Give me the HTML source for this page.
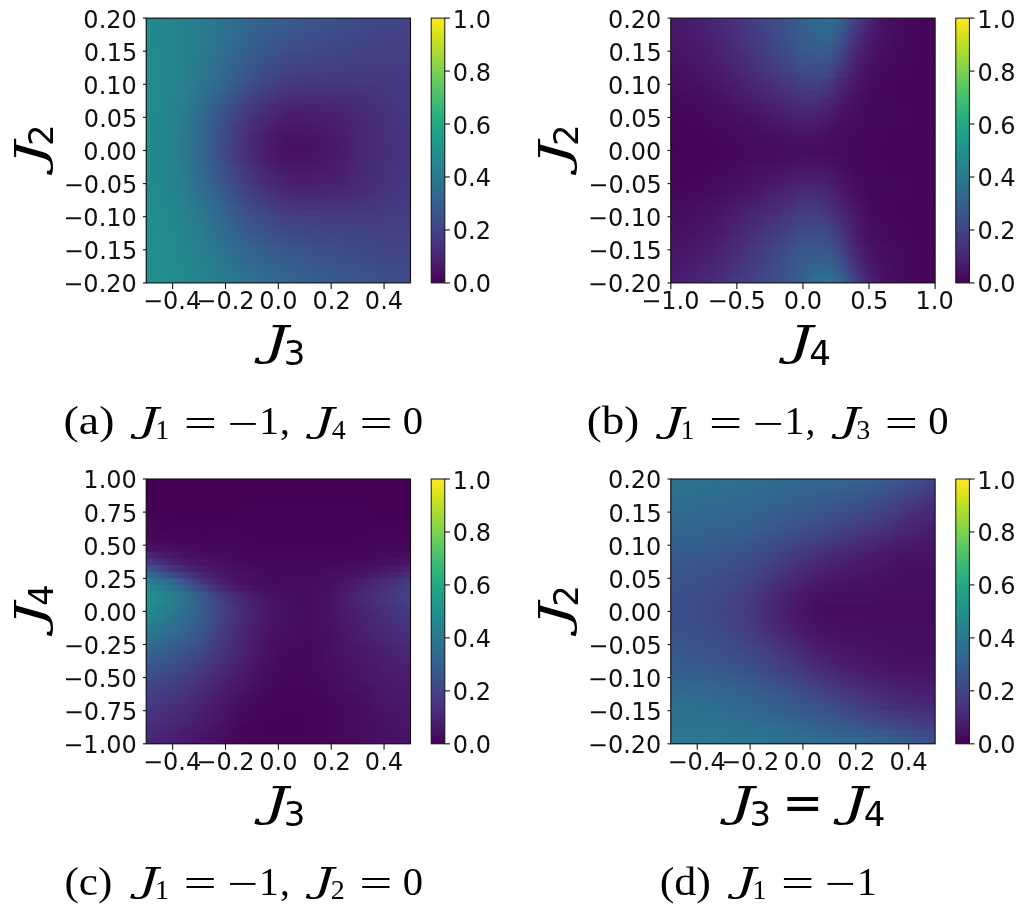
<!DOCTYPE html>
<html lang="en"><head><meta charset="utf-8"><title>Figure</title>
<style>html,body{margin:0;padding:0;background:#fff}svg{display:block}text{white-space:pre}</style>
</head><body>
<svg width="1025" height="904" viewBox="0 0 1025 904">
<rect width="1025" height="904" fill="#fff"/>
<defs>
<linearGradient id="a0"><stop offset="0" stop-color="#238a8d"/><stop offset="0.05" stop-color="#23888e"/><stop offset="0.1" stop-color="#25848e"/><stop offset="0.15" stop-color="#26818e"/><stop offset="0.2" stop-color="#287d8e"/><stop offset="0.25" stop-color="#2a778e"/><stop offset="0.3" stop-color="#2c718e"/><stop offset="0.35" stop-color="#2f6c8e"/><stop offset="0.4" stop-color="#32658e"/><stop offset="0.45" stop-color="#34608d"/><stop offset="0.5" stop-color="#365d8d"/><stop offset="0.55" stop-color="#375a8c"/><stop offset="0.6" stop-color="#39568c"/><stop offset="0.65" stop-color="#3a538b"/><stop offset="0.7" stop-color="#3c508b"/><stop offset="0.75" stop-color="#3d4e8a"/><stop offset="0.8" stop-color="#3e4a89"/><stop offset="0.85" stop-color="#3f4788"/><stop offset="0.9" stop-color="#404688"/><stop offset="0.95" stop-color="#414487"/><stop offset="1" stop-color="#414287"/></linearGradient>
<linearGradient id="a1"><stop offset="0" stop-color="#238a8d"/><stop offset="0.05" stop-color="#23888e"/><stop offset="0.1" stop-color="#25858e"/><stop offset="0.15" stop-color="#26818e"/><stop offset="0.2" stop-color="#287c8e"/><stop offset="0.25" stop-color="#2a778e"/><stop offset="0.3" stop-color="#2c718e"/><stop offset="0.35" stop-color="#2f6b8e"/><stop offset="0.4" stop-color="#32648e"/><stop offset="0.45" stop-color="#355f8d"/><stop offset="0.5" stop-color="#375b8d"/><stop offset="0.55" stop-color="#38588c"/><stop offset="0.6" stop-color="#3a548c"/><stop offset="0.65" stop-color="#3b518b"/><stop offset="0.7" stop-color="#3d4e8a"/><stop offset="0.75" stop-color="#3e4c8a"/><stop offset="0.8" stop-color="#3f4889"/><stop offset="0.85" stop-color="#404688"/><stop offset="0.9" stop-color="#414487"/><stop offset="0.95" stop-color="#414287"/><stop offset="1" stop-color="#424186"/></linearGradient>
<linearGradient id="a2"><stop offset="0" stop-color="#228b8d"/><stop offset="0.05" stop-color="#23888e"/><stop offset="0.1" stop-color="#25858e"/><stop offset="0.15" stop-color="#26818e"/><stop offset="0.2" stop-color="#287c8e"/><stop offset="0.25" stop-color="#2a768e"/><stop offset="0.3" stop-color="#2d718e"/><stop offset="0.35" stop-color="#306a8e"/><stop offset="0.4" stop-color="#33628d"/><stop offset="0.45" stop-color="#365d8d"/><stop offset="0.5" stop-color="#38588c"/><stop offset="0.55" stop-color="#3a548c"/><stop offset="0.6" stop-color="#3b518b"/><stop offset="0.65" stop-color="#3c4f8a"/><stop offset="0.7" stop-color="#3e4c8a"/><stop offset="0.75" stop-color="#3e4989"/><stop offset="0.8" stop-color="#3f4788"/><stop offset="0.85" stop-color="#404588"/><stop offset="0.9" stop-color="#414287"/><stop offset="0.95" stop-color="#424186"/><stop offset="1" stop-color="#424086"/></linearGradient>
<linearGradient id="a3"><stop offset="0" stop-color="#228b8d"/><stop offset="0.05" stop-color="#23888e"/><stop offset="0.1" stop-color="#25858e"/><stop offset="0.15" stop-color="#26818e"/><stop offset="0.2" stop-color="#287c8e"/><stop offset="0.25" stop-color="#2b758e"/><stop offset="0.3" stop-color="#2d708e"/><stop offset="0.35" stop-color="#31688e"/><stop offset="0.4" stop-color="#34608d"/><stop offset="0.45" stop-color="#375a8c"/><stop offset="0.5" stop-color="#39558c"/><stop offset="0.55" stop-color="#3b518b"/><stop offset="0.6" stop-color="#3c4f8a"/><stop offset="0.65" stop-color="#3e4c8a"/><stop offset="0.7" stop-color="#3e4989"/><stop offset="0.75" stop-color="#3f4788"/><stop offset="0.8" stop-color="#404588"/><stop offset="0.85" stop-color="#414287"/><stop offset="0.9" stop-color="#424186"/><stop offset="0.95" stop-color="#424086"/><stop offset="1" stop-color="#424086"/></linearGradient>
<linearGradient id="a4"><stop offset="0" stop-color="#228b8d"/><stop offset="0.05" stop-color="#23898e"/><stop offset="0.1" stop-color="#25858e"/><stop offset="0.15" stop-color="#26818e"/><stop offset="0.2" stop-color="#297b8e"/><stop offset="0.25" stop-color="#2b748e"/><stop offset="0.3" stop-color="#2e6e8e"/><stop offset="0.35" stop-color="#31668e"/><stop offset="0.4" stop-color="#355e8d"/><stop offset="0.45" stop-color="#38588c"/><stop offset="0.5" stop-color="#3b528b"/><stop offset="0.55" stop-color="#3d4e8a"/><stop offset="0.6" stop-color="#3e4c8a"/><stop offset="0.65" stop-color="#3e4989"/><stop offset="0.7" stop-color="#3f4788"/><stop offset="0.75" stop-color="#404588"/><stop offset="0.8" stop-color="#414287"/><stop offset="0.85" stop-color="#424186"/><stop offset="0.9" stop-color="#424086"/><stop offset="0.95" stop-color="#423f85"/><stop offset="1" stop-color="#423f85"/></linearGradient>
<linearGradient id="a5"><stop offset="0" stop-color="#228b8d"/><stop offset="0.05" stop-color="#23898e"/><stop offset="0.1" stop-color="#25858e"/><stop offset="0.15" stop-color="#26818e"/><stop offset="0.2" stop-color="#297a8e"/><stop offset="0.25" stop-color="#2c738e"/><stop offset="0.3" stop-color="#2f6c8e"/><stop offset="0.35" stop-color="#32648e"/><stop offset="0.4" stop-color="#375b8d"/><stop offset="0.45" stop-color="#3a548c"/><stop offset="0.5" stop-color="#3c4f8a"/><stop offset="0.55" stop-color="#3e4a89"/><stop offset="0.6" stop-color="#3f4889"/><stop offset="0.65" stop-color="#404688"/><stop offset="0.7" stop-color="#414487"/><stop offset="0.75" stop-color="#414287"/><stop offset="0.8" stop-color="#424086"/><stop offset="0.85" stop-color="#423f85"/><stop offset="0.9" stop-color="#433e85"/><stop offset="0.95" stop-color="#433e85"/><stop offset="1" stop-color="#433e85"/></linearGradient>
<linearGradient id="a6"><stop offset="0" stop-color="#228b8d"/><stop offset="0.05" stop-color="#23898e"/><stop offset="0.1" stop-color="#25858e"/><stop offset="0.15" stop-color="#27808e"/><stop offset="0.2" stop-color="#297a8e"/><stop offset="0.25" stop-color="#2c728e"/><stop offset="0.3" stop-color="#306a8e"/><stop offset="0.35" stop-color="#34618d"/><stop offset="0.4" stop-color="#38598c"/><stop offset="0.45" stop-color="#3b518b"/><stop offset="0.5" stop-color="#3e4c8a"/><stop offset="0.55" stop-color="#3f4788"/><stop offset="0.6" stop-color="#404588"/><stop offset="0.65" stop-color="#414287"/><stop offset="0.7" stop-color="#424086"/><stop offset="0.75" stop-color="#423f85"/><stop offset="0.8" stop-color="#423f85"/><stop offset="0.85" stop-color="#433e85"/><stop offset="0.9" stop-color="#433d84"/><stop offset="0.95" stop-color="#433d84"/><stop offset="1" stop-color="#433d84"/></linearGradient>
<linearGradient id="a7"><stop offset="0" stop-color="#228b8d"/><stop offset="0.05" stop-color="#23898e"/><stop offset="0.1" stop-color="#25858e"/><stop offset="0.15" stop-color="#27808e"/><stop offset="0.2" stop-color="#29798e"/><stop offset="0.25" stop-color="#2d718e"/><stop offset="0.3" stop-color="#31688e"/><stop offset="0.35" stop-color="#355f8d"/><stop offset="0.4" stop-color="#39558c"/><stop offset="0.45" stop-color="#3d4e8a"/><stop offset="0.5" stop-color="#3f4788"/><stop offset="0.55" stop-color="#414287"/><stop offset="0.6" stop-color="#424086"/><stop offset="0.65" stop-color="#423f85"/><stop offset="0.7" stop-color="#433e85"/><stop offset="0.75" stop-color="#433d84"/><stop offset="0.8" stop-color="#433d84"/><stop offset="0.85" stop-color="#443b84"/><stop offset="0.9" stop-color="#443b84"/><stop offset="0.95" stop-color="#443b84"/><stop offset="1" stop-color="#443b84"/></linearGradient>
<linearGradient id="a8"><stop offset="0" stop-color="#228b8d"/><stop offset="0.05" stop-color="#23898e"/><stop offset="0.1" stop-color="#25858e"/><stop offset="0.15" stop-color="#27808e"/><stop offset="0.2" stop-color="#2a788e"/><stop offset="0.25" stop-color="#2d708e"/><stop offset="0.3" stop-color="#31668e"/><stop offset="0.35" stop-color="#365c8d"/><stop offset="0.4" stop-color="#3b528b"/><stop offset="0.45" stop-color="#3e4989"/><stop offset="0.5" stop-color="#414487"/><stop offset="0.55" stop-color="#423f85"/><stop offset="0.6" stop-color="#433d84"/><stop offset="0.65" stop-color="#443b84"/><stop offset="0.7" stop-color="#443a83"/><stop offset="0.75" stop-color="#443983"/><stop offset="0.8" stop-color="#443a83"/><stop offset="0.85" stop-color="#443a83"/><stop offset="0.9" stop-color="#443a83"/><stop offset="0.95" stop-color="#443a83"/><stop offset="1" stop-color="#443b84"/></linearGradient>
<linearGradient id="a9"><stop offset="0" stop-color="#228b8d"/><stop offset="0.05" stop-color="#23898e"/><stop offset="0.1" stop-color="#25858e"/><stop offset="0.15" stop-color="#27808e"/><stop offset="0.2" stop-color="#2a778e"/><stop offset="0.25" stop-color="#2e6e8e"/><stop offset="0.3" stop-color="#33638d"/><stop offset="0.35" stop-color="#38598c"/><stop offset="0.4" stop-color="#3d4e8a"/><stop offset="0.45" stop-color="#404688"/><stop offset="0.5" stop-color="#423f85"/><stop offset="0.55" stop-color="#443a83"/><stop offset="0.6" stop-color="#453882"/><stop offset="0.65" stop-color="#453781"/><stop offset="0.7" stop-color="#453781"/><stop offset="0.75" stop-color="#453781"/><stop offset="0.8" stop-color="#453781"/><stop offset="0.85" stop-color="#453882"/><stop offset="0.9" stop-color="#453882"/><stop offset="0.95" stop-color="#443983"/><stop offset="1" stop-color="#443a83"/></linearGradient>
<linearGradient id="a10"><stop offset="0" stop-color="#228b8d"/><stop offset="0.05" stop-color="#23898e"/><stop offset="0.1" stop-color="#25858e"/><stop offset="0.15" stop-color="#277f8e"/><stop offset="0.2" stop-color="#2b758e"/><stop offset="0.25" stop-color="#2f6c8e"/><stop offset="0.3" stop-color="#34618d"/><stop offset="0.35" stop-color="#39558c"/><stop offset="0.4" stop-color="#3e4989"/><stop offset="0.45" stop-color="#424186"/><stop offset="0.5" stop-color="#443a83"/><stop offset="0.55" stop-color="#453581"/><stop offset="0.6" stop-color="#463480"/><stop offset="0.65" stop-color="#46337f"/><stop offset="0.7" stop-color="#46337f"/><stop offset="0.75" stop-color="#46337f"/><stop offset="0.8" stop-color="#463480"/><stop offset="0.85" stop-color="#453581"/><stop offset="0.9" stop-color="#453781"/><stop offset="0.95" stop-color="#453882"/><stop offset="1" stop-color="#443a83"/></linearGradient>
<linearGradient id="a11"><stop offset="0" stop-color="#228b8d"/><stop offset="0.05" stop-color="#23898e"/><stop offset="0.1" stop-color="#25848e"/><stop offset="0.15" stop-color="#277e8e"/><stop offset="0.2" stop-color="#2c738e"/><stop offset="0.25" stop-color="#30698e"/><stop offset="0.3" stop-color="#365c8d"/><stop offset="0.35" stop-color="#3c508b"/><stop offset="0.4" stop-color="#414487"/><stop offset="0.45" stop-color="#443b84"/><stop offset="0.5" stop-color="#463480"/><stop offset="0.55" stop-color="#472f7d"/><stop offset="0.6" stop-color="#472e7c"/><stop offset="0.65" stop-color="#472e7c"/><stop offset="0.7" stop-color="#472e7c"/><stop offset="0.75" stop-color="#472e7c"/><stop offset="0.8" stop-color="#46307e"/><stop offset="0.85" stop-color="#46337f"/><stop offset="0.9" stop-color="#453581"/><stop offset="0.95" stop-color="#453781"/><stop offset="1" stop-color="#443983"/></linearGradient>
<linearGradient id="a12"><stop offset="0" stop-color="#228b8d"/><stop offset="0.05" stop-color="#23898e"/><stop offset="0.1" stop-color="#25848e"/><stop offset="0.15" stop-color="#287d8e"/><stop offset="0.2" stop-color="#2d718e"/><stop offset="0.25" stop-color="#32658e"/><stop offset="0.3" stop-color="#38588c"/><stop offset="0.35" stop-color="#3e4a89"/><stop offset="0.4" stop-color="#433e85"/><stop offset="0.45" stop-color="#463480"/><stop offset="0.5" stop-color="#472d7b"/><stop offset="0.55" stop-color="#482979"/><stop offset="0.6" stop-color="#482878"/><stop offset="0.65" stop-color="#482878"/><stop offset="0.7" stop-color="#482878"/><stop offset="0.75" stop-color="#472a7a"/><stop offset="0.8" stop-color="#472d7b"/><stop offset="0.85" stop-color="#46307e"/><stop offset="0.9" stop-color="#463480"/><stop offset="0.95" stop-color="#453781"/><stop offset="1" stop-color="#453882"/></linearGradient>
<linearGradient id="a13"><stop offset="0" stop-color="#228b8d"/><stop offset="0.05" stop-color="#23898e"/><stop offset="0.1" stop-color="#25838e"/><stop offset="0.15" stop-color="#297b8e"/><stop offset="0.2" stop-color="#2e6f8e"/><stop offset="0.25" stop-color="#34618d"/><stop offset="0.3" stop-color="#3b528b"/><stop offset="0.35" stop-color="#404588"/><stop offset="0.4" stop-color="#453882"/><stop offset="0.45" stop-color="#472e7c"/><stop offset="0.5" stop-color="#482878"/><stop offset="0.55" stop-color="#482374"/><stop offset="0.6" stop-color="#482374"/><stop offset="0.65" stop-color="#482374"/><stop offset="0.7" stop-color="#482475"/><stop offset="0.75" stop-color="#482576"/><stop offset="0.8" stop-color="#472a7a"/><stop offset="0.85" stop-color="#472e7c"/><stop offset="0.9" stop-color="#46327e"/><stop offset="0.95" stop-color="#453581"/><stop offset="1" stop-color="#453882"/></linearGradient>
<linearGradient id="a14"><stop offset="0" stop-color="#228b8d"/><stop offset="0.05" stop-color="#23888e"/><stop offset="0.1" stop-color="#25838e"/><stop offset="0.15" stop-color="#297a8e"/><stop offset="0.2" stop-color="#2e6d8e"/><stop offset="0.25" stop-color="#355f8d"/><stop offset="0.3" stop-color="#3c4f8a"/><stop offset="0.35" stop-color="#424186"/><stop offset="0.4" stop-color="#46337f"/><stop offset="0.45" stop-color="#482979"/><stop offset="0.5" stop-color="#482374"/><stop offset="0.55" stop-color="#481d6f"/><stop offset="0.6" stop-color="#481d6f"/><stop offset="0.65" stop-color="#481f70"/><stop offset="0.7" stop-color="#482071"/><stop offset="0.75" stop-color="#482374"/><stop offset="0.8" stop-color="#482878"/><stop offset="0.85" stop-color="#472d7b"/><stop offset="0.9" stop-color="#46307e"/><stop offset="0.95" stop-color="#463480"/><stop offset="1" stop-color="#453781"/></linearGradient>
<linearGradient id="a15"><stop offset="0" stop-color="#228b8d"/><stop offset="0.05" stop-color="#23888e"/><stop offset="0.1" stop-color="#26828e"/><stop offset="0.15" stop-color="#29798e"/><stop offset="0.2" stop-color="#2f6b8e"/><stop offset="0.25" stop-color="#365d8d"/><stop offset="0.3" stop-color="#3d4d8a"/><stop offset="0.35" stop-color="#433e85"/><stop offset="0.4" stop-color="#472f7d"/><stop offset="0.45" stop-color="#482576"/><stop offset="0.5" stop-color="#481f70"/><stop offset="0.55" stop-color="#481b6d"/><stop offset="0.6" stop-color="#481b6d"/><stop offset="0.65" stop-color="#481c6e"/><stop offset="0.7" stop-color="#481d6f"/><stop offset="0.75" stop-color="#482173"/><stop offset="0.8" stop-color="#482677"/><stop offset="0.85" stop-color="#472c7a"/><stop offset="0.9" stop-color="#46307e"/><stop offset="0.95" stop-color="#463480"/><stop offset="1" stop-color="#453781"/></linearGradient>
<linearGradient id="a16"><stop offset="0" stop-color="#228b8d"/><stop offset="0.05" stop-color="#23888e"/><stop offset="0.1" stop-color="#26828e"/><stop offset="0.15" stop-color="#2a788e"/><stop offset="0.2" stop-color="#306a8e"/><stop offset="0.25" stop-color="#375b8d"/><stop offset="0.3" stop-color="#3e4a89"/><stop offset="0.35" stop-color="#443b84"/><stop offset="0.4" stop-color="#472d7b"/><stop offset="0.45" stop-color="#482374"/><stop offset="0.5" stop-color="#481b6d"/><stop offset="0.55" stop-color="#481769"/><stop offset="0.6" stop-color="#481769"/><stop offset="0.65" stop-color="#481a6c"/><stop offset="0.7" stop-color="#481c6e"/><stop offset="0.75" stop-color="#482071"/><stop offset="0.8" stop-color="#482576"/><stop offset="0.85" stop-color="#472a7a"/><stop offset="0.9" stop-color="#472f7d"/><stop offset="0.95" stop-color="#46337f"/><stop offset="1" stop-color="#453781"/></linearGradient>
<linearGradient id="a17"><stop offset="0" stop-color="#228b8d"/><stop offset="0.05" stop-color="#23888e"/><stop offset="0.1" stop-color="#26828e"/><stop offset="0.15" stop-color="#2a778e"/><stop offset="0.2" stop-color="#30698e"/><stop offset="0.25" stop-color="#375a8c"/><stop offset="0.3" stop-color="#3e4989"/><stop offset="0.35" stop-color="#443983"/><stop offset="0.4" stop-color="#482979"/><stop offset="0.45" stop-color="#481f70"/><stop offset="0.5" stop-color="#481769"/><stop offset="0.55" stop-color="#471365"/><stop offset="0.6" stop-color="#481467"/><stop offset="0.65" stop-color="#481769"/><stop offset="0.7" stop-color="#481a6c"/><stop offset="0.75" stop-color="#481f70"/><stop offset="0.8" stop-color="#482576"/><stop offset="0.85" stop-color="#472a7a"/><stop offset="0.9" stop-color="#472e7c"/><stop offset="0.95" stop-color="#46337f"/><stop offset="1" stop-color="#453581"/></linearGradient>
<linearGradient id="a18"><stop offset="0" stop-color="#228b8d"/><stop offset="0.05" stop-color="#24878e"/><stop offset="0.1" stop-color="#26818e"/><stop offset="0.15" stop-color="#2a778e"/><stop offset="0.2" stop-color="#31688e"/><stop offset="0.25" stop-color="#38598c"/><stop offset="0.3" stop-color="#3f4889"/><stop offset="0.35" stop-color="#453882"/><stop offset="0.4" stop-color="#482878"/><stop offset="0.45" stop-color="#481c6e"/><stop offset="0.5" stop-color="#481668"/><stop offset="0.55" stop-color="#471164"/><stop offset="0.6" stop-color="#471164"/><stop offset="0.65" stop-color="#481467"/><stop offset="0.7" stop-color="#48186a"/><stop offset="0.75" stop-color="#481d6f"/><stop offset="0.8" stop-color="#482475"/><stop offset="0.85" stop-color="#482979"/><stop offset="0.9" stop-color="#472e7c"/><stop offset="0.95" stop-color="#46327e"/><stop offset="1" stop-color="#453581"/></linearGradient>
<linearGradient id="a19"><stop offset="0" stop-color="#228b8d"/><stop offset="0.05" stop-color="#24878e"/><stop offset="0.1" stop-color="#26818e"/><stop offset="0.15" stop-color="#2a768e"/><stop offset="0.2" stop-color="#31688e"/><stop offset="0.25" stop-color="#38598c"/><stop offset="0.3" stop-color="#3f4788"/><stop offset="0.35" stop-color="#453781"/><stop offset="0.4" stop-color="#482677"/><stop offset="0.45" stop-color="#481c6e"/><stop offset="0.5" stop-color="#481467"/><stop offset="0.55" stop-color="#471063"/><stop offset="0.6" stop-color="#471063"/><stop offset="0.65" stop-color="#481467"/><stop offset="0.7" stop-color="#48186a"/><stop offset="0.75" stop-color="#481d6f"/><stop offset="0.8" stop-color="#482475"/><stop offset="0.85" stop-color="#482979"/><stop offset="0.9" stop-color="#472e7c"/><stop offset="0.95" stop-color="#46327e"/><stop offset="1" stop-color="#453581"/></linearGradient>
<linearGradient id="a20"><stop offset="0" stop-color="#228b8d"/><stop offset="0.05" stop-color="#24878e"/><stop offset="0.1" stop-color="#26818e"/><stop offset="0.15" stop-color="#2a778e"/><stop offset="0.2" stop-color="#31688e"/><stop offset="0.25" stop-color="#38598c"/><stop offset="0.3" stop-color="#3f4889"/><stop offset="0.35" stop-color="#453882"/><stop offset="0.4" stop-color="#482878"/><stop offset="0.45" stop-color="#481c6e"/><stop offset="0.5" stop-color="#481668"/><stop offset="0.55" stop-color="#471063"/><stop offset="0.6" stop-color="#471164"/><stop offset="0.65" stop-color="#481467"/><stop offset="0.7" stop-color="#48186a"/><stop offset="0.75" stop-color="#481d6f"/><stop offset="0.8" stop-color="#482475"/><stop offset="0.85" stop-color="#482979"/><stop offset="0.9" stop-color="#472e7c"/><stop offset="0.95" stop-color="#46327e"/><stop offset="1" stop-color="#453581"/></linearGradient>
<linearGradient id="a21"><stop offset="0" stop-color="#228b8d"/><stop offset="0.05" stop-color="#23888e"/><stop offset="0.1" stop-color="#26828e"/><stop offset="0.15" stop-color="#2a778e"/><stop offset="0.2" stop-color="#30698e"/><stop offset="0.25" stop-color="#375b8d"/><stop offset="0.3" stop-color="#3e4989"/><stop offset="0.35" stop-color="#443983"/><stop offset="0.4" stop-color="#472a7a"/><stop offset="0.45" stop-color="#481f70"/><stop offset="0.5" stop-color="#481769"/><stop offset="0.55" stop-color="#471365"/><stop offset="0.6" stop-color="#471365"/><stop offset="0.65" stop-color="#481668"/><stop offset="0.7" stop-color="#481a6c"/><stop offset="0.75" stop-color="#481f70"/><stop offset="0.8" stop-color="#482475"/><stop offset="0.85" stop-color="#472a7a"/><stop offset="0.9" stop-color="#472e7c"/><stop offset="0.95" stop-color="#46327e"/><stop offset="1" stop-color="#453581"/></linearGradient>
<linearGradient id="a22"><stop offset="0" stop-color="#228b8d"/><stop offset="0.05" stop-color="#23888e"/><stop offset="0.1" stop-color="#26828e"/><stop offset="0.15" stop-color="#2a788e"/><stop offset="0.2" stop-color="#2f6b8e"/><stop offset="0.25" stop-color="#365c8d"/><stop offset="0.3" stop-color="#3e4c8a"/><stop offset="0.35" stop-color="#433d84"/><stop offset="0.4" stop-color="#472e7c"/><stop offset="0.45" stop-color="#482374"/><stop offset="0.5" stop-color="#481b6d"/><stop offset="0.55" stop-color="#481668"/><stop offset="0.6" stop-color="#481668"/><stop offset="0.65" stop-color="#48186a"/><stop offset="0.7" stop-color="#481b6d"/><stop offset="0.75" stop-color="#481f70"/><stop offset="0.8" stop-color="#482576"/><stop offset="0.85" stop-color="#472a7a"/><stop offset="0.9" stop-color="#472f7d"/><stop offset="0.95" stop-color="#46337f"/><stop offset="1" stop-color="#453781"/></linearGradient>
<linearGradient id="a23"><stop offset="0" stop-color="#228b8d"/><stop offset="0.05" stop-color="#23888e"/><stop offset="0.1" stop-color="#26828e"/><stop offset="0.15" stop-color="#29798e"/><stop offset="0.2" stop-color="#2e6d8e"/><stop offset="0.25" stop-color="#355f8d"/><stop offset="0.3" stop-color="#3c4f8a"/><stop offset="0.35" stop-color="#423f85"/><stop offset="0.4" stop-color="#46327e"/><stop offset="0.45" stop-color="#482677"/><stop offset="0.5" stop-color="#481f70"/><stop offset="0.55" stop-color="#481a6c"/><stop offset="0.6" stop-color="#481a6c"/><stop offset="0.65" stop-color="#481b6d"/><stop offset="0.7" stop-color="#481d6f"/><stop offset="0.75" stop-color="#482071"/><stop offset="0.8" stop-color="#482677"/><stop offset="0.85" stop-color="#472c7a"/><stop offset="0.9" stop-color="#472f7d"/><stop offset="0.95" stop-color="#463480"/><stop offset="1" stop-color="#453781"/></linearGradient>
<linearGradient id="a24"><stop offset="0" stop-color="#228b8d"/><stop offset="0.05" stop-color="#23888e"/><stop offset="0.1" stop-color="#26828e"/><stop offset="0.15" stop-color="#297a8e"/><stop offset="0.2" stop-color="#2e6e8e"/><stop offset="0.25" stop-color="#34618d"/><stop offset="0.3" stop-color="#3b518b"/><stop offset="0.35" stop-color="#414287"/><stop offset="0.4" stop-color="#453581"/><stop offset="0.45" stop-color="#472a7a"/><stop offset="0.5" stop-color="#482374"/><stop offset="0.55" stop-color="#481c6e"/><stop offset="0.6" stop-color="#481c6e"/><stop offset="0.65" stop-color="#481d6f"/><stop offset="0.7" stop-color="#481f70"/><stop offset="0.75" stop-color="#482374"/><stop offset="0.8" stop-color="#482878"/><stop offset="0.85" stop-color="#472c7a"/><stop offset="0.9" stop-color="#46307e"/><stop offset="0.95" stop-color="#463480"/><stop offset="1" stop-color="#453781"/></linearGradient>
<linearGradient id="a25"><stop offset="0" stop-color="#228b8d"/><stop offset="0.05" stop-color="#23898e"/><stop offset="0.1" stop-color="#25838e"/><stop offset="0.15" stop-color="#297b8e"/><stop offset="0.2" stop-color="#2d708e"/><stop offset="0.25" stop-color="#33638d"/><stop offset="0.3" stop-color="#3a548c"/><stop offset="0.35" stop-color="#404688"/><stop offset="0.4" stop-color="#443983"/><stop offset="0.45" stop-color="#472f7d"/><stop offset="0.5" stop-color="#482677"/><stop offset="0.55" stop-color="#482173"/><stop offset="0.6" stop-color="#482071"/><stop offset="0.65" stop-color="#482173"/><stop offset="0.7" stop-color="#482374"/><stop offset="0.75" stop-color="#482475"/><stop offset="0.8" stop-color="#482979"/><stop offset="0.85" stop-color="#472d7b"/><stop offset="0.9" stop-color="#46327e"/><stop offset="0.95" stop-color="#453581"/><stop offset="1" stop-color="#453882"/></linearGradient>
<linearGradient id="a26"><stop offset="0" stop-color="#228c8d"/><stop offset="0.05" stop-color="#23898e"/><stop offset="0.1" stop-color="#25848e"/><stop offset="0.15" stop-color="#287d8e"/><stop offset="0.2" stop-color="#2c718e"/><stop offset="0.25" stop-color="#31668e"/><stop offset="0.3" stop-color="#38588c"/><stop offset="0.35" stop-color="#3e4a89"/><stop offset="0.4" stop-color="#433e85"/><stop offset="0.45" stop-color="#463480"/><stop offset="0.5" stop-color="#472c7a"/><stop offset="0.55" stop-color="#482677"/><stop offset="0.6" stop-color="#482677"/><stop offset="0.65" stop-color="#482677"/><stop offset="0.7" stop-color="#482677"/><stop offset="0.75" stop-color="#482979"/><stop offset="0.8" stop-color="#472c7a"/><stop offset="0.85" stop-color="#472f7d"/><stop offset="0.9" stop-color="#46337f"/><stop offset="0.95" stop-color="#453781"/><stop offset="1" stop-color="#443983"/></linearGradient>
<linearGradient id="a27"><stop offset="0" stop-color="#228c8d"/><stop offset="0.05" stop-color="#238a8d"/><stop offset="0.1" stop-color="#25858e"/><stop offset="0.15" stop-color="#277f8e"/><stop offset="0.2" stop-color="#2b748e"/><stop offset="0.25" stop-color="#30698e"/><stop offset="0.3" stop-color="#375b8d"/><stop offset="0.35" stop-color="#3d4e8a"/><stop offset="0.4" stop-color="#414287"/><stop offset="0.45" stop-color="#443a83"/><stop offset="0.5" stop-color="#46337f"/><stop offset="0.55" stop-color="#472e7c"/><stop offset="0.6" stop-color="#472d7b"/><stop offset="0.65" stop-color="#472d7b"/><stop offset="0.7" stop-color="#472d7b"/><stop offset="0.75" stop-color="#472e7c"/><stop offset="0.8" stop-color="#46307e"/><stop offset="0.85" stop-color="#46337f"/><stop offset="0.9" stop-color="#453581"/><stop offset="0.95" stop-color="#453882"/><stop offset="1" stop-color="#443a83"/></linearGradient>
<linearGradient id="a28"><stop offset="0" stop-color="#228d8d"/><stop offset="0.05" stop-color="#228b8d"/><stop offset="0.1" stop-color="#24868e"/><stop offset="0.15" stop-color="#27808e"/><stop offset="0.2" stop-color="#2a768e"/><stop offset="0.25" stop-color="#2f6c8e"/><stop offset="0.3" stop-color="#355f8d"/><stop offset="0.35" stop-color="#3b528b"/><stop offset="0.4" stop-color="#3f4889"/><stop offset="0.45" stop-color="#424086"/><stop offset="0.5" stop-color="#443983"/><stop offset="0.55" stop-color="#453581"/><stop offset="0.6" stop-color="#46337f"/><stop offset="0.65" stop-color="#46337f"/><stop offset="0.7" stop-color="#46337f"/><stop offset="0.75" stop-color="#46337f"/><stop offset="0.8" stop-color="#463480"/><stop offset="0.85" stop-color="#453581"/><stop offset="0.9" stop-color="#453882"/><stop offset="0.95" stop-color="#443983"/><stop offset="1" stop-color="#443b84"/></linearGradient>
<linearGradient id="a29"><stop offset="0" stop-color="#218e8d"/><stop offset="0.05" stop-color="#228b8d"/><stop offset="0.1" stop-color="#24878e"/><stop offset="0.15" stop-color="#26818e"/><stop offset="0.2" stop-color="#2a788e"/><stop offset="0.25" stop-color="#2e6f8e"/><stop offset="0.3" stop-color="#33628d"/><stop offset="0.35" stop-color="#39568c"/><stop offset="0.4" stop-color="#3d4d8a"/><stop offset="0.45" stop-color="#404688"/><stop offset="0.5" stop-color="#423f85"/><stop offset="0.55" stop-color="#443b84"/><stop offset="0.6" stop-color="#443983"/><stop offset="0.65" stop-color="#443983"/><stop offset="0.7" stop-color="#453882"/><stop offset="0.75" stop-color="#453882"/><stop offset="0.8" stop-color="#443983"/><stop offset="0.85" stop-color="#443983"/><stop offset="0.9" stop-color="#443a83"/><stop offset="0.95" stop-color="#443b84"/><stop offset="1" stop-color="#433d84"/></linearGradient>
<linearGradient id="a30"><stop offset="0" stop-color="#218e8d"/><stop offset="0.05" stop-color="#228c8d"/><stop offset="0.1" stop-color="#23888e"/><stop offset="0.15" stop-color="#26828e"/><stop offset="0.2" stop-color="#297a8e"/><stop offset="0.25" stop-color="#2d718e"/><stop offset="0.3" stop-color="#32658e"/><stop offset="0.35" stop-color="#375b8d"/><stop offset="0.4" stop-color="#3b518b"/><stop offset="0.45" stop-color="#3e4a89"/><stop offset="0.5" stop-color="#404588"/><stop offset="0.55" stop-color="#424086"/><stop offset="0.6" stop-color="#423f85"/><stop offset="0.65" stop-color="#433d84"/><stop offset="0.7" stop-color="#433d84"/><stop offset="0.75" stop-color="#433d84"/><stop offset="0.8" stop-color="#443b84"/><stop offset="0.85" stop-color="#443b84"/><stop offset="0.9" stop-color="#433d84"/><stop offset="0.95" stop-color="#433d84"/><stop offset="1" stop-color="#433e85"/></linearGradient>
<linearGradient id="a31"><stop offset="0" stop-color="#218e8d"/><stop offset="0.05" stop-color="#228c8d"/><stop offset="0.1" stop-color="#23888e"/><stop offset="0.15" stop-color="#25838e"/><stop offset="0.2" stop-color="#287c8e"/><stop offset="0.25" stop-color="#2c728e"/><stop offset="0.3" stop-color="#31688e"/><stop offset="0.35" stop-color="#355e8d"/><stop offset="0.4" stop-color="#39558c"/><stop offset="0.45" stop-color="#3c4f8a"/><stop offset="0.5" stop-color="#3e4989"/><stop offset="0.55" stop-color="#404588"/><stop offset="0.6" stop-color="#414487"/><stop offset="0.65" stop-color="#424186"/><stop offset="0.7" stop-color="#424086"/><stop offset="0.75" stop-color="#424086"/><stop offset="0.8" stop-color="#423f85"/><stop offset="0.85" stop-color="#433e85"/><stop offset="0.9" stop-color="#433e85"/><stop offset="0.95" stop-color="#423f85"/><stop offset="1" stop-color="#423f85"/></linearGradient>
<linearGradient id="a32"><stop offset="0" stop-color="#218f8d"/><stop offset="0.05" stop-color="#228d8d"/><stop offset="0.1" stop-color="#23898e"/><stop offset="0.15" stop-color="#25848e"/><stop offset="0.2" stop-color="#287d8e"/><stop offset="0.25" stop-color="#2b748e"/><stop offset="0.3" stop-color="#306a8e"/><stop offset="0.35" stop-color="#34618d"/><stop offset="0.4" stop-color="#38598c"/><stop offset="0.45" stop-color="#3a538b"/><stop offset="0.5" stop-color="#3d4e8a"/><stop offset="0.55" stop-color="#3e4989"/><stop offset="0.6" stop-color="#3f4788"/><stop offset="0.65" stop-color="#404688"/><stop offset="0.7" stop-color="#414487"/><stop offset="0.75" stop-color="#414487"/><stop offset="0.8" stop-color="#414287"/><stop offset="0.85" stop-color="#424186"/><stop offset="0.9" stop-color="#424086"/><stop offset="0.95" stop-color="#424086"/><stop offset="1" stop-color="#424186"/></linearGradient>
<linearGradient id="a33"><stop offset="0" stop-color="#218f8d"/><stop offset="0.05" stop-color="#228d8d"/><stop offset="0.1" stop-color="#23898e"/><stop offset="0.15" stop-color="#25858e"/><stop offset="0.2" stop-color="#277f8e"/><stop offset="0.25" stop-color="#2a768e"/><stop offset="0.3" stop-color="#2e6d8e"/><stop offset="0.35" stop-color="#32648e"/><stop offset="0.4" stop-color="#365d8d"/><stop offset="0.45" stop-color="#39568c"/><stop offset="0.5" stop-color="#3b528b"/><stop offset="0.55" stop-color="#3d4e8a"/><stop offset="0.6" stop-color="#3e4c8a"/><stop offset="0.65" stop-color="#3e4989"/><stop offset="0.7" stop-color="#3f4889"/><stop offset="0.75" stop-color="#3f4788"/><stop offset="0.8" stop-color="#404588"/><stop offset="0.85" stop-color="#414487"/><stop offset="0.9" stop-color="#414287"/><stop offset="0.95" stop-color="#424186"/><stop offset="1" stop-color="#414287"/></linearGradient>
<linearGradient id="a34"><stop offset="0" stop-color="#218f8d"/><stop offset="0.05" stop-color="#228d8d"/><stop offset="0.1" stop-color="#238a8d"/><stop offset="0.15" stop-color="#25858e"/><stop offset="0.2" stop-color="#27808e"/><stop offset="0.25" stop-color="#2a788e"/><stop offset="0.3" stop-color="#2d708e"/><stop offset="0.35" stop-color="#31678e"/><stop offset="0.4" stop-color="#34618d"/><stop offset="0.45" stop-color="#375b8d"/><stop offset="0.5" stop-color="#39568c"/><stop offset="0.55" stop-color="#3b528b"/><stop offset="0.6" stop-color="#3c508b"/><stop offset="0.65" stop-color="#3d4e8a"/><stop offset="0.7" stop-color="#3e4c8a"/><stop offset="0.75" stop-color="#3e4989"/><stop offset="0.8" stop-color="#3f4889"/><stop offset="0.85" stop-color="#404688"/><stop offset="0.9" stop-color="#404588"/><stop offset="0.95" stop-color="#414487"/><stop offset="1" stop-color="#414487"/></linearGradient>
<linearGradient id="a35"><stop offset="0" stop-color="#21908d"/><stop offset="0.05" stop-color="#218e8d"/><stop offset="0.1" stop-color="#238a8d"/><stop offset="0.15" stop-color="#24868e"/><stop offset="0.2" stop-color="#26828e"/><stop offset="0.25" stop-color="#297a8e"/><stop offset="0.3" stop-color="#2c718e"/><stop offset="0.35" stop-color="#306a8e"/><stop offset="0.4" stop-color="#32648e"/><stop offset="0.45" stop-color="#355f8d"/><stop offset="0.5" stop-color="#375b8d"/><stop offset="0.55" stop-color="#39568c"/><stop offset="0.6" stop-color="#3a538b"/><stop offset="0.65" stop-color="#3b518b"/><stop offset="0.7" stop-color="#3c4f8a"/><stop offset="0.75" stop-color="#3d4d8a"/><stop offset="0.8" stop-color="#3e4a89"/><stop offset="0.85" stop-color="#3f4889"/><stop offset="0.9" stop-color="#3f4788"/><stop offset="0.95" stop-color="#404688"/><stop offset="1" stop-color="#404688"/></linearGradient>
<linearGradient id="a36"><stop offset="0" stop-color="#21908d"/><stop offset="0.05" stop-color="#218e8d"/><stop offset="0.1" stop-color="#228b8d"/><stop offset="0.15" stop-color="#24878e"/><stop offset="0.2" stop-color="#26828e"/><stop offset="0.25" stop-color="#287c8e"/><stop offset="0.3" stop-color="#2b748e"/><stop offset="0.35" stop-color="#2e6d8e"/><stop offset="0.4" stop-color="#31678e"/><stop offset="0.45" stop-color="#33628d"/><stop offset="0.5" stop-color="#355e8d"/><stop offset="0.55" stop-color="#375b8d"/><stop offset="0.6" stop-color="#38588c"/><stop offset="0.65" stop-color="#3a548c"/><stop offset="0.7" stop-color="#3b528b"/><stop offset="0.75" stop-color="#3c508b"/><stop offset="0.8" stop-color="#3d4e8a"/><stop offset="0.85" stop-color="#3e4a89"/><stop offset="0.9" stop-color="#3f4889"/><stop offset="0.95" stop-color="#3f4788"/><stop offset="1" stop-color="#3f4788"/></linearGradient>
<linearGradient id="a37"><stop offset="0" stop-color="#21908d"/><stop offset="0.05" stop-color="#218e8d"/><stop offset="0.1" stop-color="#228b8d"/><stop offset="0.15" stop-color="#23888e"/><stop offset="0.2" stop-color="#25838e"/><stop offset="0.25" stop-color="#277e8e"/><stop offset="0.3" stop-color="#2a768e"/><stop offset="0.35" stop-color="#2d708e"/><stop offset="0.4" stop-color="#2f6b8e"/><stop offset="0.45" stop-color="#31668e"/><stop offset="0.5" stop-color="#33628d"/><stop offset="0.55" stop-color="#355e8d"/><stop offset="0.6" stop-color="#375b8d"/><stop offset="0.65" stop-color="#38588c"/><stop offset="0.7" stop-color="#3a548c"/><stop offset="0.75" stop-color="#3b528b"/><stop offset="0.8" stop-color="#3c508b"/><stop offset="0.85" stop-color="#3d4e8a"/><stop offset="0.9" stop-color="#3e4a89"/><stop offset="0.95" stop-color="#3e4989"/><stop offset="1" stop-color="#3e4989"/></linearGradient>
<linearGradient id="a38"><stop offset="0" stop-color="#21908d"/><stop offset="0.05" stop-color="#218e8d"/><stop offset="0.1" stop-color="#228c8d"/><stop offset="0.15" stop-color="#23888e"/><stop offset="0.2" stop-color="#25848e"/><stop offset="0.25" stop-color="#277f8e"/><stop offset="0.3" stop-color="#2a788e"/><stop offset="0.35" stop-color="#2c728e"/><stop offset="0.4" stop-color="#2e6e8e"/><stop offset="0.45" stop-color="#30698e"/><stop offset="0.5" stop-color="#32658e"/><stop offset="0.55" stop-color="#34618d"/><stop offset="0.6" stop-color="#355e8d"/><stop offset="0.65" stop-color="#375b8d"/><stop offset="0.7" stop-color="#38588c"/><stop offset="0.75" stop-color="#3a548c"/><stop offset="0.8" stop-color="#3b528b"/><stop offset="0.85" stop-color="#3c508b"/><stop offset="0.9" stop-color="#3d4d8a"/><stop offset="0.95" stop-color="#3e4c8a"/><stop offset="1" stop-color="#3e4a89"/></linearGradient>
<linearGradient id="a39"><stop offset="0" stop-color="#21908d"/><stop offset="0.05" stop-color="#218e8d"/><stop offset="0.1" stop-color="#228c8d"/><stop offset="0.15" stop-color="#23898e"/><stop offset="0.2" stop-color="#25858e"/><stop offset="0.25" stop-color="#26818e"/><stop offset="0.3" stop-color="#297a8e"/><stop offset="0.35" stop-color="#2b758e"/><stop offset="0.4" stop-color="#2d718e"/><stop offset="0.45" stop-color="#2f6c8e"/><stop offset="0.5" stop-color="#31688e"/><stop offset="0.55" stop-color="#32648e"/><stop offset="0.6" stop-color="#34618d"/><stop offset="0.65" stop-color="#365d8d"/><stop offset="0.7" stop-color="#375a8c"/><stop offset="0.75" stop-color="#38588c"/><stop offset="0.8" stop-color="#3a548c"/><stop offset="0.85" stop-color="#3b528b"/><stop offset="0.9" stop-color="#3c4f8a"/><stop offset="0.95" stop-color="#3d4e8a"/><stop offset="1" stop-color="#3d4d8a"/></linearGradient>
<linearGradient id="b0"><stop offset="0" stop-color="#481769"/><stop offset="0.05" stop-color="#481a6c"/><stop offset="0.1" stop-color="#481f70"/><stop offset="0.15" stop-color="#482475"/><stop offset="0.2" stop-color="#472a7a"/><stop offset="0.25" stop-color="#46327e"/><stop offset="0.3" stop-color="#443a83"/><stop offset="0.35" stop-color="#414487"/><stop offset="0.4" stop-color="#3d4d8a"/><stop offset="0.45" stop-color="#39558c"/><stop offset="0.5" stop-color="#355e8d"/><stop offset="0.55" stop-color="#31678e"/><stop offset="0.6" stop-color="#2e6d8e"/><stop offset="0.65" stop-color="#365d8d"/><stop offset="0.7" stop-color="#433e85"/><stop offset="0.75" stop-color="#482374"/><stop offset="0.8" stop-color="#471365"/><stop offset="0.85" stop-color="#470d60"/><stop offset="0.9" stop-color="#46085c"/><stop offset="0.95" stop-color="#46075a"/><stop offset="1" stop-color="#450559"/></linearGradient>
<linearGradient id="b1"><stop offset="0" stop-color="#481668"/><stop offset="0.05" stop-color="#481a6c"/><stop offset="0.1" stop-color="#481d6f"/><stop offset="0.15" stop-color="#482374"/><stop offset="0.2" stop-color="#482979"/><stop offset="0.25" stop-color="#46307e"/><stop offset="0.3" stop-color="#443983"/><stop offset="0.35" stop-color="#414287"/><stop offset="0.4" stop-color="#3e4c8a"/><stop offset="0.45" stop-color="#3a548c"/><stop offset="0.5" stop-color="#365d8d"/><stop offset="0.55" stop-color="#32658e"/><stop offset="0.6" stop-color="#306a8e"/><stop offset="0.65" stop-color="#38588c"/><stop offset="0.7" stop-color="#453882"/><stop offset="0.75" stop-color="#482071"/><stop offset="0.8" stop-color="#471365"/><stop offset="0.85" stop-color="#470d60"/><stop offset="0.9" stop-color="#46085c"/><stop offset="0.95" stop-color="#46075a"/><stop offset="1" stop-color="#450559"/></linearGradient>
<linearGradient id="b2"><stop offset="0" stop-color="#481668"/><stop offset="0.05" stop-color="#48186a"/><stop offset="0.1" stop-color="#481c6e"/><stop offset="0.15" stop-color="#482173"/><stop offset="0.2" stop-color="#482878"/><stop offset="0.25" stop-color="#472f7d"/><stop offset="0.3" stop-color="#453882"/><stop offset="0.35" stop-color="#424186"/><stop offset="0.4" stop-color="#3e4a89"/><stop offset="0.45" stop-color="#3a538b"/><stop offset="0.5" stop-color="#365c8d"/><stop offset="0.55" stop-color="#33638d"/><stop offset="0.6" stop-color="#31668e"/><stop offset="0.65" stop-color="#3b518b"/><stop offset="0.7" stop-color="#46337f"/><stop offset="0.75" stop-color="#481d6f"/><stop offset="0.8" stop-color="#471164"/><stop offset="0.85" stop-color="#460b5e"/><stop offset="0.9" stop-color="#46085c"/><stop offset="0.95" stop-color="#46075a"/><stop offset="1" stop-color="#450559"/></linearGradient>
<linearGradient id="b3"><stop offset="0" stop-color="#481467"/><stop offset="0.05" stop-color="#481769"/><stop offset="0.1" stop-color="#481b6d"/><stop offset="0.15" stop-color="#482071"/><stop offset="0.2" stop-color="#482677"/><stop offset="0.25" stop-color="#472e7c"/><stop offset="0.3" stop-color="#453781"/><stop offset="0.35" stop-color="#423f85"/><stop offset="0.4" stop-color="#3f4889"/><stop offset="0.45" stop-color="#3b518b"/><stop offset="0.5" stop-color="#375a8c"/><stop offset="0.55" stop-color="#34608d"/><stop offset="0.6" stop-color="#33628d"/><stop offset="0.65" stop-color="#3e4c8a"/><stop offset="0.7" stop-color="#472e7c"/><stop offset="0.75" stop-color="#481b6d"/><stop offset="0.8" stop-color="#471063"/><stop offset="0.85" stop-color="#460b5e"/><stop offset="0.9" stop-color="#46085c"/><stop offset="0.95" stop-color="#46075a"/><stop offset="1" stop-color="#450559"/></linearGradient>
<linearGradient id="b4"><stop offset="0" stop-color="#481467"/><stop offset="0.05" stop-color="#481668"/><stop offset="0.1" stop-color="#481a6c"/><stop offset="0.15" stop-color="#481f70"/><stop offset="0.2" stop-color="#482475"/><stop offset="0.25" stop-color="#472d7b"/><stop offset="0.3" stop-color="#453581"/><stop offset="0.35" stop-color="#433e85"/><stop offset="0.4" stop-color="#404688"/><stop offset="0.45" stop-color="#3c4f8a"/><stop offset="0.5" stop-color="#38598c"/><stop offset="0.55" stop-color="#365d8d"/><stop offset="0.6" stop-color="#355e8d"/><stop offset="0.65" stop-color="#404688"/><stop offset="0.7" stop-color="#482979"/><stop offset="0.75" stop-color="#48186a"/><stop offset="0.8" stop-color="#470e61"/><stop offset="0.85" stop-color="#460a5d"/><stop offset="0.9" stop-color="#46085c"/><stop offset="0.95" stop-color="#46075a"/><stop offset="1" stop-color="#450559"/></linearGradient>
<linearGradient id="b5"><stop offset="0" stop-color="#471365"/><stop offset="0.05" stop-color="#481467"/><stop offset="0.1" stop-color="#48186a"/><stop offset="0.15" stop-color="#481c6e"/><stop offset="0.2" stop-color="#482374"/><stop offset="0.25" stop-color="#472a7a"/><stop offset="0.3" stop-color="#46337f"/><stop offset="0.35" stop-color="#443b84"/><stop offset="0.4" stop-color="#414487"/><stop offset="0.45" stop-color="#3d4d8a"/><stop offset="0.5" stop-color="#39558c"/><stop offset="0.55" stop-color="#375a8c"/><stop offset="0.6" stop-color="#38598c"/><stop offset="0.65" stop-color="#424086"/><stop offset="0.7" stop-color="#482576"/><stop offset="0.75" stop-color="#481668"/><stop offset="0.8" stop-color="#470d60"/><stop offset="0.85" stop-color="#460a5d"/><stop offset="0.9" stop-color="#46085c"/><stop offset="0.95" stop-color="#46075a"/><stop offset="1" stop-color="#450559"/></linearGradient>
<linearGradient id="b6"><stop offset="0" stop-color="#471164"/><stop offset="0.05" stop-color="#471365"/><stop offset="0.1" stop-color="#481769"/><stop offset="0.15" stop-color="#481b6d"/><stop offset="0.2" stop-color="#482071"/><stop offset="0.25" stop-color="#482878"/><stop offset="0.3" stop-color="#46307e"/><stop offset="0.35" stop-color="#453882"/><stop offset="0.4" stop-color="#424086"/><stop offset="0.45" stop-color="#3e4989"/><stop offset="0.5" stop-color="#3b528b"/><stop offset="0.55" stop-color="#3a548c"/><stop offset="0.6" stop-color="#3b528b"/><stop offset="0.65" stop-color="#443a83"/><stop offset="0.7" stop-color="#482173"/><stop offset="0.75" stop-color="#471365"/><stop offset="0.8" stop-color="#460b5e"/><stop offset="0.85" stop-color="#460a5d"/><stop offset="0.9" stop-color="#46075a"/><stop offset="0.95" stop-color="#46075a"/><stop offset="1" stop-color="#450559"/></linearGradient>
<linearGradient id="b7"><stop offset="0" stop-color="#471063"/><stop offset="0.05" stop-color="#471164"/><stop offset="0.1" stop-color="#481467"/><stop offset="0.15" stop-color="#48186a"/><stop offset="0.2" stop-color="#481d6f"/><stop offset="0.25" stop-color="#482576"/><stop offset="0.3" stop-color="#472d7b"/><stop offset="0.35" stop-color="#463480"/><stop offset="0.4" stop-color="#433d84"/><stop offset="0.45" stop-color="#404588"/><stop offset="0.5" stop-color="#3d4e8a"/><stop offset="0.55" stop-color="#3c4f8a"/><stop offset="0.6" stop-color="#3e4a89"/><stop offset="0.65" stop-color="#46337f"/><stop offset="0.7" stop-color="#481d6f"/><stop offset="0.75" stop-color="#471063"/><stop offset="0.8" stop-color="#460b5e"/><stop offset="0.85" stop-color="#46085c"/><stop offset="0.9" stop-color="#46075a"/><stop offset="0.95" stop-color="#46075a"/><stop offset="1" stop-color="#450559"/></linearGradient>
<linearGradient id="b8"><stop offset="0" stop-color="#470e61"/><stop offset="0.05" stop-color="#471063"/><stop offset="0.1" stop-color="#471365"/><stop offset="0.15" stop-color="#481769"/><stop offset="0.2" stop-color="#481b6d"/><stop offset="0.25" stop-color="#482374"/><stop offset="0.3" stop-color="#482979"/><stop offset="0.35" stop-color="#46307e"/><stop offset="0.4" stop-color="#453882"/><stop offset="0.45" stop-color="#423f85"/><stop offset="0.5" stop-color="#3f4788"/><stop offset="0.55" stop-color="#3f4889"/><stop offset="0.6" stop-color="#414487"/><stop offset="0.65" stop-color="#472d7b"/><stop offset="0.7" stop-color="#481b6d"/><stop offset="0.75" stop-color="#470e61"/><stop offset="0.8" stop-color="#460a5d"/><stop offset="0.85" stop-color="#46085c"/><stop offset="0.9" stop-color="#46075a"/><stop offset="0.95" stop-color="#450559"/><stop offset="1" stop-color="#450559"/></linearGradient>
<linearGradient id="b9"><stop offset="0" stop-color="#470d60"/><stop offset="0.05" stop-color="#470e61"/><stop offset="0.1" stop-color="#471164"/><stop offset="0.15" stop-color="#481467"/><stop offset="0.2" stop-color="#481a6c"/><stop offset="0.25" stop-color="#481f70"/><stop offset="0.3" stop-color="#482576"/><stop offset="0.35" stop-color="#472d7b"/><stop offset="0.4" stop-color="#46337f"/><stop offset="0.45" stop-color="#443a83"/><stop offset="0.5" stop-color="#424186"/><stop offset="0.55" stop-color="#414287"/><stop offset="0.6" stop-color="#443b84"/><stop offset="0.65" stop-color="#482677"/><stop offset="0.7" stop-color="#48186a"/><stop offset="0.75" stop-color="#470d60"/><stop offset="0.8" stop-color="#46085c"/><stop offset="0.85" stop-color="#46075a"/><stop offset="0.9" stop-color="#46075a"/><stop offset="0.95" stop-color="#450559"/><stop offset="1" stop-color="#450559"/></linearGradient>
<linearGradient id="b10"><stop offset="0" stop-color="#460b5e"/><stop offset="0.05" stop-color="#470d60"/><stop offset="0.1" stop-color="#470e61"/><stop offset="0.15" stop-color="#471365"/><stop offset="0.2" stop-color="#481769"/><stop offset="0.25" stop-color="#481c6e"/><stop offset="0.3" stop-color="#482374"/><stop offset="0.35" stop-color="#482878"/><stop offset="0.4" stop-color="#472f7d"/><stop offset="0.45" stop-color="#453581"/><stop offset="0.5" stop-color="#433d84"/><stop offset="0.55" stop-color="#433d84"/><stop offset="0.6" stop-color="#463480"/><stop offset="0.65" stop-color="#482173"/><stop offset="0.7" stop-color="#481668"/><stop offset="0.75" stop-color="#460b5e"/><stop offset="0.8" stop-color="#46085c"/><stop offset="0.85" stop-color="#46075a"/><stop offset="0.9" stop-color="#46075a"/><stop offset="0.95" stop-color="#450559"/><stop offset="1" stop-color="#450559"/></linearGradient>
<linearGradient id="b11"><stop offset="0" stop-color="#460a5d"/><stop offset="0.05" stop-color="#460b5e"/><stop offset="0.1" stop-color="#470d60"/><stop offset="0.15" stop-color="#471063"/><stop offset="0.2" stop-color="#481467"/><stop offset="0.25" stop-color="#481a6c"/><stop offset="0.3" stop-color="#481f70"/><stop offset="0.35" stop-color="#482475"/><stop offset="0.4" stop-color="#472a7a"/><stop offset="0.45" stop-color="#472f7d"/><stop offset="0.5" stop-color="#453581"/><stop offset="0.55" stop-color="#453581"/><stop offset="0.6" stop-color="#472e7c"/><stop offset="0.65" stop-color="#481c6e"/><stop offset="0.7" stop-color="#471365"/><stop offset="0.75" stop-color="#460a5d"/><stop offset="0.8" stop-color="#46085c"/><stop offset="0.85" stop-color="#46075a"/><stop offset="0.9" stop-color="#46075a"/><stop offset="0.95" stop-color="#46075a"/><stop offset="1" stop-color="#450559"/></linearGradient>
<linearGradient id="b12"><stop offset="0" stop-color="#46085c"/><stop offset="0.05" stop-color="#460a5d"/><stop offset="0.1" stop-color="#460b5e"/><stop offset="0.15" stop-color="#470e61"/><stop offset="0.2" stop-color="#471164"/><stop offset="0.25" stop-color="#481668"/><stop offset="0.3" stop-color="#481a6c"/><stop offset="0.35" stop-color="#481f70"/><stop offset="0.4" stop-color="#482576"/><stop offset="0.45" stop-color="#472a7a"/><stop offset="0.5" stop-color="#472f7d"/><stop offset="0.55" stop-color="#472e7c"/><stop offset="0.6" stop-color="#482677"/><stop offset="0.65" stop-color="#48186a"/><stop offset="0.7" stop-color="#471063"/><stop offset="0.75" stop-color="#46085c"/><stop offset="0.8" stop-color="#46085c"/><stop offset="0.85" stop-color="#46075a"/><stop offset="0.9" stop-color="#46075a"/><stop offset="0.95" stop-color="#46075a"/><stop offset="1" stop-color="#450559"/></linearGradient>
<linearGradient id="b13"><stop offset="0" stop-color="#46075a"/><stop offset="0.05" stop-color="#46085c"/><stop offset="0.1" stop-color="#460a5d"/><stop offset="0.15" stop-color="#460b5e"/><stop offset="0.2" stop-color="#470e61"/><stop offset="0.25" stop-color="#471365"/><stop offset="0.3" stop-color="#481668"/><stop offset="0.35" stop-color="#481b6d"/><stop offset="0.4" stop-color="#482071"/><stop offset="0.45" stop-color="#482576"/><stop offset="0.5" stop-color="#482979"/><stop offset="0.55" stop-color="#482878"/><stop offset="0.6" stop-color="#482071"/><stop offset="0.65" stop-color="#481467"/><stop offset="0.7" stop-color="#470e61"/><stop offset="0.75" stop-color="#46085c"/><stop offset="0.8" stop-color="#46085c"/><stop offset="0.85" stop-color="#46085c"/><stop offset="0.9" stop-color="#46075a"/><stop offset="0.95" stop-color="#46075a"/><stop offset="1" stop-color="#450559"/></linearGradient>
<linearGradient id="b14"><stop offset="0" stop-color="#46075a"/><stop offset="0.05" stop-color="#46075a"/><stop offset="0.1" stop-color="#46085c"/><stop offset="0.15" stop-color="#460a5d"/><stop offset="0.2" stop-color="#470d60"/><stop offset="0.25" stop-color="#471063"/><stop offset="0.3" stop-color="#471365"/><stop offset="0.35" stop-color="#481769"/><stop offset="0.4" stop-color="#481c6e"/><stop offset="0.45" stop-color="#482071"/><stop offset="0.5" stop-color="#482374"/><stop offset="0.55" stop-color="#482173"/><stop offset="0.6" stop-color="#481b6d"/><stop offset="0.65" stop-color="#471063"/><stop offset="0.7" stop-color="#470d60"/><stop offset="0.75" stop-color="#46085c"/><stop offset="0.8" stop-color="#46085c"/><stop offset="0.85" stop-color="#46085c"/><stop offset="0.9" stop-color="#46075a"/><stop offset="0.95" stop-color="#46075a"/><stop offset="1" stop-color="#450559"/></linearGradient>
<linearGradient id="b15"><stop offset="0" stop-color="#450559"/><stop offset="0.05" stop-color="#46075a"/><stop offset="0.1" stop-color="#46085c"/><stop offset="0.15" stop-color="#460a5d"/><stop offset="0.2" stop-color="#460b5e"/><stop offset="0.25" stop-color="#470d60"/><stop offset="0.3" stop-color="#471063"/><stop offset="0.35" stop-color="#481467"/><stop offset="0.4" stop-color="#48186a"/><stop offset="0.45" stop-color="#481b6d"/><stop offset="0.5" stop-color="#481d6f"/><stop offset="0.55" stop-color="#481d6f"/><stop offset="0.6" stop-color="#481769"/><stop offset="0.65" stop-color="#470e61"/><stop offset="0.7" stop-color="#460b5e"/><stop offset="0.75" stop-color="#46085c"/><stop offset="0.8" stop-color="#46085c"/><stop offset="0.85" stop-color="#46085c"/><stop offset="0.9" stop-color="#46075a"/><stop offset="0.95" stop-color="#46075a"/><stop offset="1" stop-color="#450559"/></linearGradient>
<linearGradient id="b16"><stop offset="0" stop-color="#450559"/><stop offset="0.05" stop-color="#450559"/><stop offset="0.1" stop-color="#46075a"/><stop offset="0.15" stop-color="#46085c"/><stop offset="0.2" stop-color="#460a5d"/><stop offset="0.25" stop-color="#460b5e"/><stop offset="0.3" stop-color="#470e61"/><stop offset="0.35" stop-color="#471164"/><stop offset="0.4" stop-color="#481467"/><stop offset="0.45" stop-color="#481769"/><stop offset="0.5" stop-color="#481a6c"/><stop offset="0.55" stop-color="#48186a"/><stop offset="0.6" stop-color="#471365"/><stop offset="0.65" stop-color="#470d60"/><stop offset="0.7" stop-color="#460a5d"/><stop offset="0.75" stop-color="#46085c"/><stop offset="0.8" stop-color="#46075a"/><stop offset="0.85" stop-color="#46075a"/><stop offset="0.9" stop-color="#46075a"/><stop offset="0.95" stop-color="#46075a"/><stop offset="1" stop-color="#450559"/></linearGradient>
<linearGradient id="b17"><stop offset="0" stop-color="#450457"/><stop offset="0.05" stop-color="#450559"/><stop offset="0.1" stop-color="#450559"/><stop offset="0.15" stop-color="#46075a"/><stop offset="0.2" stop-color="#46085c"/><stop offset="0.25" stop-color="#460a5d"/><stop offset="0.3" stop-color="#470d60"/><stop offset="0.35" stop-color="#470e61"/><stop offset="0.4" stop-color="#471063"/><stop offset="0.45" stop-color="#471365"/><stop offset="0.5" stop-color="#481467"/><stop offset="0.55" stop-color="#481467"/><stop offset="0.6" stop-color="#471063"/><stop offset="0.65" stop-color="#460b5e"/><stop offset="0.7" stop-color="#46085c"/><stop offset="0.75" stop-color="#46085c"/><stop offset="0.8" stop-color="#46075a"/><stop offset="0.85" stop-color="#46075a"/><stop offset="0.9" stop-color="#46075a"/><stop offset="0.95" stop-color="#46075a"/><stop offset="1" stop-color="#450559"/></linearGradient>
<linearGradient id="b18"><stop offset="0" stop-color="#450457"/><stop offset="0.05" stop-color="#450559"/><stop offset="0.1" stop-color="#450559"/><stop offset="0.15" stop-color="#46075a"/><stop offset="0.2" stop-color="#46085c"/><stop offset="0.25" stop-color="#460a5d"/><stop offset="0.3" stop-color="#460b5e"/><stop offset="0.35" stop-color="#460b5e"/><stop offset="0.4" stop-color="#470d60"/><stop offset="0.45" stop-color="#470e61"/><stop offset="0.5" stop-color="#471063"/><stop offset="0.55" stop-color="#471063"/><stop offset="0.6" stop-color="#470d60"/><stop offset="0.65" stop-color="#460a5d"/><stop offset="0.7" stop-color="#46085c"/><stop offset="0.75" stop-color="#46085c"/><stop offset="0.8" stop-color="#46075a"/><stop offset="0.85" stop-color="#46075a"/><stop offset="0.9" stop-color="#46075a"/><stop offset="0.95" stop-color="#450559"/><stop offset="1" stop-color="#450559"/></linearGradient>
<linearGradient id="b19"><stop offset="0" stop-color="#450457"/><stop offset="0.05" stop-color="#450457"/><stop offset="0.1" stop-color="#450559"/><stop offset="0.15" stop-color="#450559"/><stop offset="0.2" stop-color="#46075a"/><stop offset="0.25" stop-color="#46085c"/><stop offset="0.3" stop-color="#460a5d"/><stop offset="0.35" stop-color="#460b5e"/><stop offset="0.4" stop-color="#460b5e"/><stop offset="0.45" stop-color="#470d60"/><stop offset="0.5" stop-color="#470e61"/><stop offset="0.55" stop-color="#470d60"/><stop offset="0.6" stop-color="#460b5e"/><stop offset="0.65" stop-color="#460a5d"/><stop offset="0.7" stop-color="#46085c"/><stop offset="0.75" stop-color="#46085c"/><stop offset="0.8" stop-color="#46075a"/><stop offset="0.85" stop-color="#450559"/><stop offset="0.9" stop-color="#450559"/><stop offset="0.95" stop-color="#450559"/><stop offset="1" stop-color="#450559"/></linearGradient>
<linearGradient id="b20"><stop offset="0" stop-color="#450457"/><stop offset="0.05" stop-color="#450457"/><stop offset="0.1" stop-color="#450559"/><stop offset="0.15" stop-color="#450559"/><stop offset="0.2" stop-color="#46075a"/><stop offset="0.25" stop-color="#46085c"/><stop offset="0.3" stop-color="#460a5d"/><stop offset="0.35" stop-color="#460b5e"/><stop offset="0.4" stop-color="#460b5e"/><stop offset="0.45" stop-color="#470d60"/><stop offset="0.5" stop-color="#470e61"/><stop offset="0.55" stop-color="#470d60"/><stop offset="0.6" stop-color="#460b5e"/><stop offset="0.65" stop-color="#460a5d"/><stop offset="0.7" stop-color="#46085c"/><stop offset="0.75" stop-color="#46085c"/><stop offset="0.8" stop-color="#46075a"/><stop offset="0.85" stop-color="#450559"/><stop offset="0.9" stop-color="#450559"/><stop offset="0.95" stop-color="#450559"/><stop offset="1" stop-color="#450559"/></linearGradient>
<linearGradient id="b21"><stop offset="0" stop-color="#450457"/><stop offset="0.05" stop-color="#450559"/><stop offset="0.1" stop-color="#450559"/><stop offset="0.15" stop-color="#46075a"/><stop offset="0.2" stop-color="#46085c"/><stop offset="0.25" stop-color="#460a5d"/><stop offset="0.3" stop-color="#460b5e"/><stop offset="0.35" stop-color="#460b5e"/><stop offset="0.4" stop-color="#470d60"/><stop offset="0.45" stop-color="#470e61"/><stop offset="0.5" stop-color="#471164"/><stop offset="0.55" stop-color="#471063"/><stop offset="0.6" stop-color="#470e61"/><stop offset="0.65" stop-color="#460b5e"/><stop offset="0.7" stop-color="#46085c"/><stop offset="0.75" stop-color="#46085c"/><stop offset="0.8" stop-color="#46075a"/><stop offset="0.85" stop-color="#46075a"/><stop offset="0.9" stop-color="#46075a"/><stop offset="0.95" stop-color="#450559"/><stop offset="1" stop-color="#450559"/></linearGradient>
<linearGradient id="b22"><stop offset="0" stop-color="#450457"/><stop offset="0.05" stop-color="#450559"/><stop offset="0.1" stop-color="#450559"/><stop offset="0.15" stop-color="#46075a"/><stop offset="0.2" stop-color="#46085c"/><stop offset="0.25" stop-color="#460a5d"/><stop offset="0.3" stop-color="#470d60"/><stop offset="0.35" stop-color="#470e61"/><stop offset="0.4" stop-color="#471063"/><stop offset="0.45" stop-color="#471365"/><stop offset="0.5" stop-color="#481668"/><stop offset="0.55" stop-color="#481668"/><stop offset="0.6" stop-color="#471164"/><stop offset="0.65" stop-color="#470d60"/><stop offset="0.7" stop-color="#46085c"/><stop offset="0.75" stop-color="#46085c"/><stop offset="0.8" stop-color="#46075a"/><stop offset="0.85" stop-color="#46075a"/><stop offset="0.9" stop-color="#46075a"/><stop offset="0.95" stop-color="#46075a"/><stop offset="1" stop-color="#450559"/></linearGradient>
<linearGradient id="b23"><stop offset="0" stop-color="#450559"/><stop offset="0.05" stop-color="#450559"/><stop offset="0.1" stop-color="#46075a"/><stop offset="0.15" stop-color="#46085c"/><stop offset="0.2" stop-color="#460a5d"/><stop offset="0.25" stop-color="#460b5e"/><stop offset="0.3" stop-color="#470e61"/><stop offset="0.35" stop-color="#471164"/><stop offset="0.4" stop-color="#481467"/><stop offset="0.45" stop-color="#481769"/><stop offset="0.5" stop-color="#481b6d"/><stop offset="0.55" stop-color="#481b6d"/><stop offset="0.6" stop-color="#481668"/><stop offset="0.65" stop-color="#471063"/><stop offset="0.7" stop-color="#460a5d"/><stop offset="0.75" stop-color="#46085c"/><stop offset="0.8" stop-color="#46075a"/><stop offset="0.85" stop-color="#46075a"/><stop offset="0.9" stop-color="#46075a"/><stop offset="0.95" stop-color="#46075a"/><stop offset="1" stop-color="#450559"/></linearGradient>
<linearGradient id="b24"><stop offset="0" stop-color="#450559"/><stop offset="0.05" stop-color="#46075a"/><stop offset="0.1" stop-color="#46085c"/><stop offset="0.15" stop-color="#460a5d"/><stop offset="0.2" stop-color="#460b5e"/><stop offset="0.25" stop-color="#470d60"/><stop offset="0.3" stop-color="#471063"/><stop offset="0.35" stop-color="#481467"/><stop offset="0.4" stop-color="#48186a"/><stop offset="0.45" stop-color="#481c6e"/><stop offset="0.5" stop-color="#482071"/><stop offset="0.55" stop-color="#482071"/><stop offset="0.6" stop-color="#481a6c"/><stop offset="0.65" stop-color="#471164"/><stop offset="0.7" stop-color="#460b5e"/><stop offset="0.75" stop-color="#46085c"/><stop offset="0.8" stop-color="#46085c"/><stop offset="0.85" stop-color="#46085c"/><stop offset="0.9" stop-color="#46075a"/><stop offset="0.95" stop-color="#46075a"/><stop offset="1" stop-color="#450559"/></linearGradient>
<linearGradient id="b25"><stop offset="0" stop-color="#46075a"/><stop offset="0.05" stop-color="#46075a"/><stop offset="0.1" stop-color="#46085c"/><stop offset="0.15" stop-color="#460a5d"/><stop offset="0.2" stop-color="#470d60"/><stop offset="0.25" stop-color="#471063"/><stop offset="0.3" stop-color="#471365"/><stop offset="0.35" stop-color="#481769"/><stop offset="0.4" stop-color="#481b6d"/><stop offset="0.45" stop-color="#482071"/><stop offset="0.5" stop-color="#482576"/><stop offset="0.55" stop-color="#482576"/><stop offset="0.6" stop-color="#481f70"/><stop offset="0.65" stop-color="#481467"/><stop offset="0.7" stop-color="#470d60"/><stop offset="0.75" stop-color="#46085c"/><stop offset="0.8" stop-color="#46085c"/><stop offset="0.85" stop-color="#46085c"/><stop offset="0.9" stop-color="#46075a"/><stop offset="0.95" stop-color="#46075a"/><stop offset="1" stop-color="#450559"/></linearGradient>
<linearGradient id="b26"><stop offset="0" stop-color="#46075a"/><stop offset="0.05" stop-color="#46085c"/><stop offset="0.1" stop-color="#460a5d"/><stop offset="0.15" stop-color="#460b5e"/><stop offset="0.2" stop-color="#470e61"/><stop offset="0.25" stop-color="#471365"/><stop offset="0.3" stop-color="#481668"/><stop offset="0.35" stop-color="#481b6d"/><stop offset="0.4" stop-color="#482071"/><stop offset="0.45" stop-color="#482576"/><stop offset="0.5" stop-color="#472c7a"/><stop offset="0.55" stop-color="#472a7a"/><stop offset="0.6" stop-color="#482475"/><stop offset="0.65" stop-color="#48186a"/><stop offset="0.7" stop-color="#470e61"/><stop offset="0.75" stop-color="#46085c"/><stop offset="0.8" stop-color="#46085c"/><stop offset="0.85" stop-color="#46085c"/><stop offset="0.9" stop-color="#46075a"/><stop offset="0.95" stop-color="#46075a"/><stop offset="1" stop-color="#450559"/></linearGradient>
<linearGradient id="b27"><stop offset="0" stop-color="#46085c"/><stop offset="0.05" stop-color="#460a5d"/><stop offset="0.1" stop-color="#460b5e"/><stop offset="0.15" stop-color="#470e61"/><stop offset="0.2" stop-color="#471164"/><stop offset="0.25" stop-color="#481668"/><stop offset="0.3" stop-color="#481a6c"/><stop offset="0.35" stop-color="#481f70"/><stop offset="0.4" stop-color="#482576"/><stop offset="0.45" stop-color="#472a7a"/><stop offset="0.5" stop-color="#46307e"/><stop offset="0.55" stop-color="#46307e"/><stop offset="0.6" stop-color="#482979"/><stop offset="0.65" stop-color="#481c6e"/><stop offset="0.7" stop-color="#471063"/><stop offset="0.75" stop-color="#46085c"/><stop offset="0.8" stop-color="#46085c"/><stop offset="0.85" stop-color="#46075a"/><stop offset="0.9" stop-color="#46075a"/><stop offset="0.95" stop-color="#46075a"/><stop offset="1" stop-color="#450559"/></linearGradient>
<linearGradient id="b28"><stop offset="0" stop-color="#460a5d"/><stop offset="0.05" stop-color="#460b5e"/><stop offset="0.1" stop-color="#470d60"/><stop offset="0.15" stop-color="#471063"/><stop offset="0.2" stop-color="#481467"/><stop offset="0.25" stop-color="#481a6c"/><stop offset="0.3" stop-color="#481f70"/><stop offset="0.35" stop-color="#482475"/><stop offset="0.4" stop-color="#472a7a"/><stop offset="0.45" stop-color="#46307e"/><stop offset="0.5" stop-color="#453781"/><stop offset="0.55" stop-color="#453781"/><stop offset="0.6" stop-color="#472f7d"/><stop offset="0.65" stop-color="#482071"/><stop offset="0.7" stop-color="#471365"/><stop offset="0.75" stop-color="#460a5d"/><stop offset="0.8" stop-color="#46085c"/><stop offset="0.85" stop-color="#46075a"/><stop offset="0.9" stop-color="#46075a"/><stop offset="0.95" stop-color="#46075a"/><stop offset="1" stop-color="#450559"/></linearGradient>
<linearGradient id="b29"><stop offset="0" stop-color="#460b5e"/><stop offset="0.05" stop-color="#470d60"/><stop offset="0.1" stop-color="#470e61"/><stop offset="0.15" stop-color="#471365"/><stop offset="0.2" stop-color="#481769"/><stop offset="0.25" stop-color="#481c6e"/><stop offset="0.3" stop-color="#482374"/><stop offset="0.35" stop-color="#482878"/><stop offset="0.4" stop-color="#472e7c"/><stop offset="0.45" stop-color="#453581"/><stop offset="0.5" stop-color="#433d84"/><stop offset="0.55" stop-color="#433d84"/><stop offset="0.6" stop-color="#453581"/><stop offset="0.65" stop-color="#482576"/><stop offset="0.7" stop-color="#481668"/><stop offset="0.75" stop-color="#460b5e"/><stop offset="0.8" stop-color="#46085c"/><stop offset="0.85" stop-color="#46075a"/><stop offset="0.9" stop-color="#46075a"/><stop offset="0.95" stop-color="#450559"/><stop offset="1" stop-color="#450559"/></linearGradient>
<linearGradient id="b30"><stop offset="0" stop-color="#470d60"/><stop offset="0.05" stop-color="#470e61"/><stop offset="0.1" stop-color="#471164"/><stop offset="0.15" stop-color="#481467"/><stop offset="0.2" stop-color="#481a6c"/><stop offset="0.25" stop-color="#481f70"/><stop offset="0.3" stop-color="#482576"/><stop offset="0.35" stop-color="#472d7b"/><stop offset="0.4" stop-color="#46337f"/><stop offset="0.45" stop-color="#443a83"/><stop offset="0.5" stop-color="#424186"/><stop offset="0.55" stop-color="#424186"/><stop offset="0.6" stop-color="#443b84"/><stop offset="0.65" stop-color="#482979"/><stop offset="0.7" stop-color="#48186a"/><stop offset="0.75" stop-color="#470d60"/><stop offset="0.8" stop-color="#46085c"/><stop offset="0.85" stop-color="#46075a"/><stop offset="0.9" stop-color="#46075a"/><stop offset="0.95" stop-color="#450559"/><stop offset="1" stop-color="#450559"/></linearGradient>
<linearGradient id="b31"><stop offset="0" stop-color="#470e61"/><stop offset="0.05" stop-color="#471063"/><stop offset="0.1" stop-color="#471365"/><stop offset="0.15" stop-color="#481668"/><stop offset="0.2" stop-color="#481b6d"/><stop offset="0.25" stop-color="#482374"/><stop offset="0.3" stop-color="#482979"/><stop offset="0.35" stop-color="#46307e"/><stop offset="0.4" stop-color="#453882"/><stop offset="0.45" stop-color="#423f85"/><stop offset="0.5" stop-color="#3f4788"/><stop offset="0.55" stop-color="#3f4788"/><stop offset="0.6" stop-color="#424186"/><stop offset="0.65" stop-color="#472e7c"/><stop offset="0.7" stop-color="#481a6c"/><stop offset="0.75" stop-color="#470d60"/><stop offset="0.8" stop-color="#460a5d"/><stop offset="0.85" stop-color="#46085c"/><stop offset="0.9" stop-color="#46075a"/><stop offset="0.95" stop-color="#46075a"/><stop offset="1" stop-color="#450559"/></linearGradient>
<linearGradient id="b32"><stop offset="0" stop-color="#471063"/><stop offset="0.05" stop-color="#471164"/><stop offset="0.1" stop-color="#481467"/><stop offset="0.15" stop-color="#48186a"/><stop offset="0.2" stop-color="#481d6f"/><stop offset="0.25" stop-color="#482576"/><stop offset="0.3" stop-color="#472d7b"/><stop offset="0.35" stop-color="#463480"/><stop offset="0.4" stop-color="#443b84"/><stop offset="0.45" stop-color="#414487"/><stop offset="0.5" stop-color="#3e4c8a"/><stop offset="0.55" stop-color="#3e4c8a"/><stop offset="0.6" stop-color="#3f4788"/><stop offset="0.65" stop-color="#46337f"/><stop offset="0.7" stop-color="#481c6e"/><stop offset="0.75" stop-color="#470e61"/><stop offset="0.8" stop-color="#460a5d"/><stop offset="0.85" stop-color="#46085c"/><stop offset="0.9" stop-color="#46075a"/><stop offset="0.95" stop-color="#46075a"/><stop offset="1" stop-color="#450559"/></linearGradient>
<linearGradient id="b33"><stop offset="0" stop-color="#471164"/><stop offset="0.05" stop-color="#471365"/><stop offset="0.1" stop-color="#481668"/><stop offset="0.15" stop-color="#481a6c"/><stop offset="0.2" stop-color="#482071"/><stop offset="0.25" stop-color="#482878"/><stop offset="0.3" stop-color="#472f7d"/><stop offset="0.35" stop-color="#453882"/><stop offset="0.4" stop-color="#424086"/><stop offset="0.45" stop-color="#3f4889"/><stop offset="0.5" stop-color="#3c508b"/><stop offset="0.55" stop-color="#3c508b"/><stop offset="0.6" stop-color="#3d4d8a"/><stop offset="0.65" stop-color="#453882"/><stop offset="0.7" stop-color="#481f70"/><stop offset="0.75" stop-color="#471063"/><stop offset="0.8" stop-color="#460b5e"/><stop offset="0.85" stop-color="#460a5d"/><stop offset="0.9" stop-color="#46075a"/><stop offset="0.95" stop-color="#46075a"/><stop offset="1" stop-color="#450559"/></linearGradient>
<linearGradient id="b34"><stop offset="0" stop-color="#471365"/><stop offset="0.05" stop-color="#481467"/><stop offset="0.1" stop-color="#48186a"/><stop offset="0.15" stop-color="#481c6e"/><stop offset="0.2" stop-color="#482374"/><stop offset="0.25" stop-color="#472a7a"/><stop offset="0.3" stop-color="#46337f"/><stop offset="0.35" stop-color="#443b84"/><stop offset="0.4" stop-color="#414487"/><stop offset="0.45" stop-color="#3e4c8a"/><stop offset="0.5" stop-color="#3a548c"/><stop offset="0.55" stop-color="#3a548c"/><stop offset="0.6" stop-color="#3a538b"/><stop offset="0.65" stop-color="#433e85"/><stop offset="0.7" stop-color="#482374"/><stop offset="0.75" stop-color="#471365"/><stop offset="0.8" stop-color="#470d60"/><stop offset="0.85" stop-color="#460a5d"/><stop offset="0.9" stop-color="#46085c"/><stop offset="0.95" stop-color="#46075a"/><stop offset="1" stop-color="#450559"/></linearGradient>
<linearGradient id="b35"><stop offset="0" stop-color="#481467"/><stop offset="0.05" stop-color="#481769"/><stop offset="0.1" stop-color="#481a6c"/><stop offset="0.15" stop-color="#481f70"/><stop offset="0.2" stop-color="#482576"/><stop offset="0.25" stop-color="#472d7b"/><stop offset="0.3" stop-color="#453581"/><stop offset="0.35" stop-color="#433e85"/><stop offset="0.4" stop-color="#3f4788"/><stop offset="0.45" stop-color="#3c4f8a"/><stop offset="0.5" stop-color="#38588c"/><stop offset="0.55" stop-color="#375a8c"/><stop offset="0.6" stop-color="#375a8c"/><stop offset="0.65" stop-color="#414487"/><stop offset="0.7" stop-color="#482677"/><stop offset="0.75" stop-color="#481467"/><stop offset="0.8" stop-color="#470e61"/><stop offset="0.85" stop-color="#460b5e"/><stop offset="0.9" stop-color="#46085c"/><stop offset="0.95" stop-color="#46075a"/><stop offset="1" stop-color="#450559"/></linearGradient>
<linearGradient id="b36"><stop offset="0" stop-color="#481668"/><stop offset="0.05" stop-color="#48186a"/><stop offset="0.1" stop-color="#481c6e"/><stop offset="0.15" stop-color="#482173"/><stop offset="0.2" stop-color="#482878"/><stop offset="0.25" stop-color="#472f7d"/><stop offset="0.3" stop-color="#453882"/><stop offset="0.35" stop-color="#424086"/><stop offset="0.4" stop-color="#3e4989"/><stop offset="0.45" stop-color="#3b528b"/><stop offset="0.5" stop-color="#375b8d"/><stop offset="0.55" stop-color="#355e8d"/><stop offset="0.6" stop-color="#355f8d"/><stop offset="0.65" stop-color="#3e4a89"/><stop offset="0.7" stop-color="#472a7a"/><stop offset="0.75" stop-color="#481769"/><stop offset="0.8" stop-color="#470e61"/><stop offset="0.85" stop-color="#460b5e"/><stop offset="0.9" stop-color="#46085c"/><stop offset="0.95" stop-color="#46075a"/><stop offset="1" stop-color="#450559"/></linearGradient>
<linearGradient id="b37"><stop offset="0" stop-color="#481769"/><stop offset="0.05" stop-color="#481a6c"/><stop offset="0.1" stop-color="#481f70"/><stop offset="0.15" stop-color="#482475"/><stop offset="0.2" stop-color="#472a7a"/><stop offset="0.25" stop-color="#46327e"/><stop offset="0.3" stop-color="#443a83"/><stop offset="0.35" stop-color="#414287"/><stop offset="0.4" stop-color="#3e4c8a"/><stop offset="0.45" stop-color="#3a548c"/><stop offset="0.5" stop-color="#365d8d"/><stop offset="0.55" stop-color="#33638d"/><stop offset="0.6" stop-color="#31668e"/><stop offset="0.65" stop-color="#3b518b"/><stop offset="0.7" stop-color="#46307e"/><stop offset="0.75" stop-color="#481b6d"/><stop offset="0.8" stop-color="#471063"/><stop offset="0.85" stop-color="#460b5e"/><stop offset="0.9" stop-color="#46085c"/><stop offset="0.95" stop-color="#46075a"/><stop offset="1" stop-color="#450559"/></linearGradient>
<linearGradient id="b38"><stop offset="0" stop-color="#48186a"/><stop offset="0.05" stop-color="#481c6e"/><stop offset="0.1" stop-color="#482173"/><stop offset="0.15" stop-color="#482677"/><stop offset="0.2" stop-color="#472d7b"/><stop offset="0.25" stop-color="#453581"/><stop offset="0.3" stop-color="#433d84"/><stop offset="0.35" stop-color="#404588"/><stop offset="0.4" stop-color="#3d4e8a"/><stop offset="0.45" stop-color="#39568c"/><stop offset="0.5" stop-color="#355f8d"/><stop offset="0.55" stop-color="#31678e"/><stop offset="0.6" stop-color="#2f6c8e"/><stop offset="0.65" stop-color="#38598c"/><stop offset="0.7" stop-color="#453781"/><stop offset="0.75" stop-color="#481d6f"/><stop offset="0.8" stop-color="#471164"/><stop offset="0.85" stop-color="#470d60"/><stop offset="0.9" stop-color="#46085c"/><stop offset="0.95" stop-color="#46075a"/><stop offset="1" stop-color="#450559"/></linearGradient>
<linearGradient id="b39"><stop offset="0" stop-color="#481a6c"/><stop offset="0.05" stop-color="#481d6f"/><stop offset="0.1" stop-color="#482374"/><stop offset="0.15" stop-color="#482979"/><stop offset="0.2" stop-color="#472f7d"/><stop offset="0.25" stop-color="#453882"/><stop offset="0.3" stop-color="#423f85"/><stop offset="0.35" stop-color="#3f4788"/><stop offset="0.4" stop-color="#3c4f8a"/><stop offset="0.45" stop-color="#38588c"/><stop offset="0.5" stop-color="#34618d"/><stop offset="0.55" stop-color="#2f6c8e"/><stop offset="0.6" stop-color="#2c718e"/><stop offset="0.65" stop-color="#34618d"/><stop offset="0.7" stop-color="#433d84"/><stop offset="0.75" stop-color="#482173"/><stop offset="0.8" stop-color="#471365"/><stop offset="0.85" stop-color="#470d60"/><stop offset="0.9" stop-color="#46085c"/><stop offset="0.95" stop-color="#46075a"/><stop offset="1" stop-color="#450559"/></linearGradient>
<linearGradient id="c0"><stop offset="0" stop-color="#440154"/><stop offset="0.05" stop-color="#440154"/><stop offset="0.1" stop-color="#440154"/><stop offset="0.15" stop-color="#440154"/><stop offset="0.2" stop-color="#440154"/><stop offset="0.25" stop-color="#440154"/><stop offset="0.3" stop-color="#440154"/><stop offset="0.35" stop-color="#440154"/><stop offset="0.4" stop-color="#440154"/><stop offset="0.45" stop-color="#440154"/><stop offset="0.5" stop-color="#440154"/><stop offset="0.55" stop-color="#440154"/><stop offset="0.6" stop-color="#440154"/><stop offset="0.65" stop-color="#440154"/><stop offset="0.7" stop-color="#440154"/><stop offset="0.75" stop-color="#440154"/><stop offset="0.8" stop-color="#440154"/><stop offset="0.85" stop-color="#440154"/><stop offset="0.9" stop-color="#440154"/><stop offset="0.95" stop-color="#440154"/><stop offset="1" stop-color="#440154"/></linearGradient>
<linearGradient id="c1"><stop offset="0" stop-color="#440154"/><stop offset="0.05" stop-color="#440154"/><stop offset="0.1" stop-color="#440154"/><stop offset="0.15" stop-color="#440154"/><stop offset="0.2" stop-color="#440154"/><stop offset="0.25" stop-color="#440154"/><stop offset="0.3" stop-color="#440154"/><stop offset="0.35" stop-color="#440154"/><stop offset="0.4" stop-color="#440154"/><stop offset="0.45" stop-color="#440154"/><stop offset="0.5" stop-color="#440154"/><stop offset="0.55" stop-color="#440154"/><stop offset="0.6" stop-color="#440154"/><stop offset="0.65" stop-color="#440154"/><stop offset="0.7" stop-color="#440154"/><stop offset="0.75" stop-color="#440154"/><stop offset="0.8" stop-color="#440154"/><stop offset="0.85" stop-color="#440154"/><stop offset="0.9" stop-color="#440154"/><stop offset="0.95" stop-color="#440154"/><stop offset="1" stop-color="#440154"/></linearGradient>
<linearGradient id="c2"><stop offset="0" stop-color="#440154"/><stop offset="0.05" stop-color="#440154"/><stop offset="0.1" stop-color="#440154"/><stop offset="0.15" stop-color="#440154"/><stop offset="0.2" stop-color="#440154"/><stop offset="0.25" stop-color="#440154"/><stop offset="0.3" stop-color="#440154"/><stop offset="0.35" stop-color="#440154"/><stop offset="0.4" stop-color="#440256"/><stop offset="0.45" stop-color="#440256"/><stop offset="0.5" stop-color="#440256"/><stop offset="0.55" stop-color="#440256"/><stop offset="0.6" stop-color="#440256"/><stop offset="0.65" stop-color="#440256"/><stop offset="0.7" stop-color="#440256"/><stop offset="0.75" stop-color="#440256"/><stop offset="0.8" stop-color="#440256"/><stop offset="0.85" stop-color="#440154"/><stop offset="0.9" stop-color="#440154"/><stop offset="0.95" stop-color="#440154"/><stop offset="1" stop-color="#440154"/></linearGradient>
<linearGradient id="c3"><stop offset="0" stop-color="#440256"/><stop offset="0.05" stop-color="#440154"/><stop offset="0.1" stop-color="#440154"/><stop offset="0.15" stop-color="#440154"/><stop offset="0.2" stop-color="#440154"/><stop offset="0.25" stop-color="#440154"/><stop offset="0.3" stop-color="#440154"/><stop offset="0.35" stop-color="#440154"/><stop offset="0.4" stop-color="#440256"/><stop offset="0.45" stop-color="#440256"/><stop offset="0.5" stop-color="#440256"/><stop offset="0.55" stop-color="#440256"/><stop offset="0.6" stop-color="#440256"/><stop offset="0.65" stop-color="#440256"/><stop offset="0.7" stop-color="#440256"/><stop offset="0.75" stop-color="#440256"/><stop offset="0.8" stop-color="#440256"/><stop offset="0.85" stop-color="#440154"/><stop offset="0.9" stop-color="#440154"/><stop offset="0.95" stop-color="#440154"/><stop offset="1" stop-color="#440154"/></linearGradient>
<linearGradient id="c4"><stop offset="0" stop-color="#440256"/><stop offset="0.05" stop-color="#440256"/><stop offset="0.1" stop-color="#440154"/><stop offset="0.15" stop-color="#440154"/><stop offset="0.2" stop-color="#440154"/><stop offset="0.25" stop-color="#440154"/><stop offset="0.3" stop-color="#440154"/><stop offset="0.35" stop-color="#440256"/><stop offset="0.4" stop-color="#450457"/><stop offset="0.45" stop-color="#450457"/><stop offset="0.5" stop-color="#450457"/><stop offset="0.55" stop-color="#450457"/><stop offset="0.6" stop-color="#450457"/><stop offset="0.65" stop-color="#450457"/><stop offset="0.7" stop-color="#450457"/><stop offset="0.75" stop-color="#450457"/><stop offset="0.8" stop-color="#450457"/><stop offset="0.85" stop-color="#440256"/><stop offset="0.9" stop-color="#440154"/><stop offset="0.95" stop-color="#440154"/><stop offset="1" stop-color="#440154"/></linearGradient>
<linearGradient id="c5"><stop offset="0" stop-color="#450457"/><stop offset="0.05" stop-color="#440256"/><stop offset="0.1" stop-color="#440256"/><stop offset="0.15" stop-color="#440256"/><stop offset="0.2" stop-color="#440256"/><stop offset="0.25" stop-color="#440256"/><stop offset="0.3" stop-color="#440256"/><stop offset="0.35" stop-color="#440256"/><stop offset="0.4" stop-color="#450457"/><stop offset="0.45" stop-color="#450457"/><stop offset="0.5" stop-color="#450457"/><stop offset="0.55" stop-color="#450457"/><stop offset="0.6" stop-color="#450457"/><stop offset="0.65" stop-color="#450457"/><stop offset="0.7" stop-color="#450457"/><stop offset="0.75" stop-color="#450457"/><stop offset="0.8" stop-color="#450457"/><stop offset="0.85" stop-color="#440256"/><stop offset="0.9" stop-color="#440256"/><stop offset="0.95" stop-color="#440256"/><stop offset="1" stop-color="#440256"/></linearGradient>
<linearGradient id="c6"><stop offset="0" stop-color="#450559"/><stop offset="0.05" stop-color="#450457"/><stop offset="0.1" stop-color="#440256"/><stop offset="0.15" stop-color="#440256"/><stop offset="0.2" stop-color="#440256"/><stop offset="0.25" stop-color="#440256"/><stop offset="0.3" stop-color="#440256"/><stop offset="0.35" stop-color="#440256"/><stop offset="0.4" stop-color="#450457"/><stop offset="0.45" stop-color="#450457"/><stop offset="0.5" stop-color="#450457"/><stop offset="0.55" stop-color="#450457"/><stop offset="0.6" stop-color="#450457"/><stop offset="0.65" stop-color="#450457"/><stop offset="0.7" stop-color="#450457"/><stop offset="0.75" stop-color="#450457"/><stop offset="0.8" stop-color="#450457"/><stop offset="0.85" stop-color="#440256"/><stop offset="0.9" stop-color="#440256"/><stop offset="0.95" stop-color="#440256"/><stop offset="1" stop-color="#440256"/></linearGradient>
<linearGradient id="c7"><stop offset="0" stop-color="#46075a"/><stop offset="0.05" stop-color="#450457"/><stop offset="0.1" stop-color="#450457"/><stop offset="0.15" stop-color="#450457"/><stop offset="0.2" stop-color="#450457"/><stop offset="0.25" stop-color="#450457"/><stop offset="0.3" stop-color="#450457"/><stop offset="0.35" stop-color="#450457"/><stop offset="0.4" stop-color="#450457"/><stop offset="0.45" stop-color="#450457"/><stop offset="0.5" stop-color="#450457"/><stop offset="0.55" stop-color="#450457"/><stop offset="0.6" stop-color="#450457"/><stop offset="0.65" stop-color="#450457"/><stop offset="0.7" stop-color="#450457"/><stop offset="0.75" stop-color="#450457"/><stop offset="0.8" stop-color="#450457"/><stop offset="0.85" stop-color="#450457"/><stop offset="0.9" stop-color="#450457"/><stop offset="0.95" stop-color="#450457"/><stop offset="1" stop-color="#450457"/></linearGradient>
<linearGradient id="c8"><stop offset="0" stop-color="#46085c"/><stop offset="0.05" stop-color="#46075a"/><stop offset="0.1" stop-color="#450559"/><stop offset="0.15" stop-color="#450559"/><stop offset="0.2" stop-color="#450457"/><stop offset="0.25" stop-color="#450457"/><stop offset="0.3" stop-color="#450559"/><stop offset="0.35" stop-color="#450457"/><stop offset="0.4" stop-color="#450457"/><stop offset="0.45" stop-color="#450457"/><stop offset="0.5" stop-color="#450457"/><stop offset="0.55" stop-color="#450457"/><stop offset="0.6" stop-color="#450457"/><stop offset="0.65" stop-color="#450457"/><stop offset="0.7" stop-color="#450457"/><stop offset="0.75" stop-color="#450457"/><stop offset="0.8" stop-color="#450457"/><stop offset="0.85" stop-color="#450457"/><stop offset="0.9" stop-color="#450559"/><stop offset="0.95" stop-color="#450457"/><stop offset="1" stop-color="#450457"/></linearGradient>
<linearGradient id="c9"><stop offset="0" stop-color="#470d60"/><stop offset="0.05" stop-color="#460a5d"/><stop offset="0.1" stop-color="#46085c"/><stop offset="0.15" stop-color="#46075a"/><stop offset="0.2" stop-color="#46075a"/><stop offset="0.25" stop-color="#46075a"/><stop offset="0.3" stop-color="#46075a"/><stop offset="0.35" stop-color="#450559"/><stop offset="0.4" stop-color="#450457"/><stop offset="0.45" stop-color="#450457"/><stop offset="0.5" stop-color="#450457"/><stop offset="0.55" stop-color="#450457"/><stop offset="0.6" stop-color="#450457"/><stop offset="0.65" stop-color="#450457"/><stop offset="0.7" stop-color="#450457"/><stop offset="0.75" stop-color="#450457"/><stop offset="0.8" stop-color="#450457"/><stop offset="0.85" stop-color="#450559"/><stop offset="0.9" stop-color="#46075a"/><stop offset="0.95" stop-color="#46075a"/><stop offset="1" stop-color="#46075a"/></linearGradient>
<linearGradient id="c10"><stop offset="0" stop-color="#481467"/><stop offset="0.05" stop-color="#471164"/><stop offset="0.1" stop-color="#470e61"/><stop offset="0.15" stop-color="#460b5e"/><stop offset="0.2" stop-color="#460a5d"/><stop offset="0.25" stop-color="#46085c"/><stop offset="0.3" stop-color="#46085c"/><stop offset="0.35" stop-color="#46075a"/><stop offset="0.4" stop-color="#450457"/><stop offset="0.45" stop-color="#450457"/><stop offset="0.5" stop-color="#450457"/><stop offset="0.55" stop-color="#450457"/><stop offset="0.6" stop-color="#450457"/><stop offset="0.65" stop-color="#450457"/><stop offset="0.7" stop-color="#450457"/><stop offset="0.75" stop-color="#450457"/><stop offset="0.8" stop-color="#450457"/><stop offset="0.85" stop-color="#46075a"/><stop offset="0.9" stop-color="#46085c"/><stop offset="0.95" stop-color="#46085c"/><stop offset="1" stop-color="#460a5d"/></linearGradient>
<linearGradient id="c11"><stop offset="0" stop-color="#482677"/><stop offset="0.05" stop-color="#481c6e"/><stop offset="0.1" stop-color="#481668"/><stop offset="0.15" stop-color="#471063"/><stop offset="0.2" stop-color="#470d60"/><stop offset="0.25" stop-color="#460b5e"/><stop offset="0.3" stop-color="#460a5d"/><stop offset="0.35" stop-color="#46085c"/><stop offset="0.4" stop-color="#46075a"/><stop offset="0.45" stop-color="#46075a"/><stop offset="0.5" stop-color="#46075a"/><stop offset="0.55" stop-color="#46075a"/><stop offset="0.6" stop-color="#46075a"/><stop offset="0.65" stop-color="#46075a"/><stop offset="0.7" stop-color="#46075a"/><stop offset="0.75" stop-color="#46075a"/><stop offset="0.8" stop-color="#46075a"/><stop offset="0.85" stop-color="#46085c"/><stop offset="0.9" stop-color="#460a5d"/><stop offset="0.95" stop-color="#460b5e"/><stop offset="1" stop-color="#470d60"/></linearGradient>
<linearGradient id="c12"><stop offset="0" stop-color="#433d84"/><stop offset="0.05" stop-color="#472d7b"/><stop offset="0.1" stop-color="#482071"/><stop offset="0.15" stop-color="#48186a"/><stop offset="0.2" stop-color="#471365"/><stop offset="0.25" stop-color="#471063"/><stop offset="0.3" stop-color="#470d60"/><stop offset="0.35" stop-color="#460a5d"/><stop offset="0.4" stop-color="#46085c"/><stop offset="0.45" stop-color="#46085c"/><stop offset="0.5" stop-color="#46085c"/><stop offset="0.55" stop-color="#46085c"/><stop offset="0.6" stop-color="#46085c"/><stop offset="0.65" stop-color="#46085c"/><stop offset="0.7" stop-color="#46085c"/><stop offset="0.75" stop-color="#46085c"/><stop offset="0.8" stop-color="#460a5d"/><stop offset="0.85" stop-color="#460b5e"/><stop offset="0.9" stop-color="#470e61"/><stop offset="0.95" stop-color="#471164"/><stop offset="1" stop-color="#471365"/></linearGradient>
<linearGradient id="c13"><stop offset="0" stop-color="#38598c"/><stop offset="0.05" stop-color="#414487"/><stop offset="0.1" stop-color="#46337f"/><stop offset="0.15" stop-color="#482576"/><stop offset="0.2" stop-color="#481b6d"/><stop offset="0.25" stop-color="#481668"/><stop offset="0.3" stop-color="#471164"/><stop offset="0.35" stop-color="#470d60"/><stop offset="0.4" stop-color="#460b5e"/><stop offset="0.45" stop-color="#46085c"/><stop offset="0.5" stop-color="#46085c"/><stop offset="0.55" stop-color="#46085c"/><stop offset="0.6" stop-color="#46085c"/><stop offset="0.65" stop-color="#46085c"/><stop offset="0.7" stop-color="#460b5e"/><stop offset="0.75" stop-color="#460b5e"/><stop offset="0.8" stop-color="#470d60"/><stop offset="0.85" stop-color="#471164"/><stop offset="0.9" stop-color="#481668"/><stop offset="0.95" stop-color="#481a6c"/><stop offset="1" stop-color="#481f70"/></linearGradient>
<linearGradient id="c14"><stop offset="0" stop-color="#2e6f8e"/><stop offset="0.05" stop-color="#365c8d"/><stop offset="0.1" stop-color="#3e4a89"/><stop offset="0.15" stop-color="#453882"/><stop offset="0.2" stop-color="#482878"/><stop offset="0.25" stop-color="#481d6f"/><stop offset="0.3" stop-color="#481668"/><stop offset="0.35" stop-color="#471063"/><stop offset="0.4" stop-color="#470d60"/><stop offset="0.45" stop-color="#460a5d"/><stop offset="0.5" stop-color="#46085c"/><stop offset="0.55" stop-color="#46085c"/><stop offset="0.6" stop-color="#46085c"/><stop offset="0.65" stop-color="#460a5d"/><stop offset="0.7" stop-color="#470d60"/><stop offset="0.75" stop-color="#471063"/><stop offset="0.8" stop-color="#471365"/><stop offset="0.85" stop-color="#48186a"/><stop offset="0.9" stop-color="#481f70"/><stop offset="0.95" stop-color="#482576"/><stop offset="1" stop-color="#472c7a"/></linearGradient>
<linearGradient id="c15"><stop offset="0" stop-color="#26818e"/><stop offset="0.05" stop-color="#2b748e"/><stop offset="0.1" stop-color="#31668e"/><stop offset="0.15" stop-color="#3b518b"/><stop offset="0.2" stop-color="#443a83"/><stop offset="0.25" stop-color="#482878"/><stop offset="0.3" stop-color="#481a6c"/><stop offset="0.35" stop-color="#471365"/><stop offset="0.4" stop-color="#470e61"/><stop offset="0.45" stop-color="#460b5e"/><stop offset="0.5" stop-color="#460a5d"/><stop offset="0.55" stop-color="#460b5e"/><stop offset="0.6" stop-color="#460b5e"/><stop offset="0.65" stop-color="#460b5e"/><stop offset="0.7" stop-color="#470e61"/><stop offset="0.75" stop-color="#481467"/><stop offset="0.8" stop-color="#481b6d"/><stop offset="0.85" stop-color="#482374"/><stop offset="0.9" stop-color="#472a7a"/><stop offset="0.95" stop-color="#46327e"/><stop offset="1" stop-color="#443a83"/></linearGradient>
<linearGradient id="c16"><stop offset="0" stop-color="#228b8d"/><stop offset="0.05" stop-color="#26818e"/><stop offset="0.1" stop-color="#2c738e"/><stop offset="0.15" stop-color="#33628d"/><stop offset="0.2" stop-color="#3e4c8a"/><stop offset="0.25" stop-color="#453581"/><stop offset="0.3" stop-color="#482374"/><stop offset="0.35" stop-color="#48186a"/><stop offset="0.4" stop-color="#471365"/><stop offset="0.45" stop-color="#470e61"/><stop offset="0.5" stop-color="#470d60"/><stop offset="0.55" stop-color="#460b5e"/><stop offset="0.6" stop-color="#460b5e"/><stop offset="0.65" stop-color="#470d60"/><stop offset="0.7" stop-color="#471063"/><stop offset="0.75" stop-color="#481769"/><stop offset="0.8" stop-color="#482071"/><stop offset="0.85" stop-color="#482878"/><stop offset="0.9" stop-color="#46307e"/><stop offset="0.95" stop-color="#453882"/><stop offset="1" stop-color="#423f85"/></linearGradient>
<linearGradient id="c17"><stop offset="0" stop-color="#20928c"/><stop offset="0.05" stop-color="#24878e"/><stop offset="0.1" stop-color="#287c8e"/><stop offset="0.15" stop-color="#2e6e8e"/><stop offset="0.2" stop-color="#365d8d"/><stop offset="0.25" stop-color="#3f4788"/><stop offset="0.3" stop-color="#46337f"/><stop offset="0.35" stop-color="#482576"/><stop offset="0.4" stop-color="#481b6d"/><stop offset="0.45" stop-color="#471365"/><stop offset="0.5" stop-color="#470e61"/><stop offset="0.55" stop-color="#470d60"/><stop offset="0.6" stop-color="#460b5e"/><stop offset="0.65" stop-color="#470e61"/><stop offset="0.7" stop-color="#471365"/><stop offset="0.75" stop-color="#481b6d"/><stop offset="0.8" stop-color="#482475"/><stop offset="0.85" stop-color="#472c7a"/><stop offset="0.9" stop-color="#46337f"/><stop offset="0.95" stop-color="#443a83"/><stop offset="1" stop-color="#424086"/></linearGradient>
<linearGradient id="c18"><stop offset="0" stop-color="#20928c"/><stop offset="0.05" stop-color="#23888e"/><stop offset="0.1" stop-color="#287d8e"/><stop offset="0.15" stop-color="#2e6f8e"/><stop offset="0.2" stop-color="#355f8d"/><stop offset="0.25" stop-color="#3d4d8a"/><stop offset="0.3" stop-color="#443983"/><stop offset="0.35" stop-color="#472a7a"/><stop offset="0.4" stop-color="#481f70"/><stop offset="0.45" stop-color="#481769"/><stop offset="0.5" stop-color="#471164"/><stop offset="0.55" stop-color="#470d60"/><stop offset="0.6" stop-color="#460b5e"/><stop offset="0.65" stop-color="#470e61"/><stop offset="0.7" stop-color="#471365"/><stop offset="0.75" stop-color="#481b6d"/><stop offset="0.8" stop-color="#482475"/><stop offset="0.85" stop-color="#472c7a"/><stop offset="0.9" stop-color="#46337f"/><stop offset="0.95" stop-color="#443a83"/><stop offset="1" stop-color="#424086"/></linearGradient>
<linearGradient id="c19"><stop offset="0" stop-color="#218e8d"/><stop offset="0.05" stop-color="#25848e"/><stop offset="0.1" stop-color="#297a8e"/><stop offset="0.15" stop-color="#2e6e8e"/><stop offset="0.2" stop-color="#355f8d"/><stop offset="0.25" stop-color="#3c4f8a"/><stop offset="0.3" stop-color="#433d84"/><stop offset="0.35" stop-color="#472d7b"/><stop offset="0.4" stop-color="#482071"/><stop offset="0.45" stop-color="#48186a"/><stop offset="0.5" stop-color="#471365"/><stop offset="0.55" stop-color="#470e61"/><stop offset="0.6" stop-color="#460b5e"/><stop offset="0.65" stop-color="#470e61"/><stop offset="0.7" stop-color="#471365"/><stop offset="0.75" stop-color="#481a6c"/><stop offset="0.8" stop-color="#482173"/><stop offset="0.85" stop-color="#482979"/><stop offset="0.9" stop-color="#472f7d"/><stop offset="0.95" stop-color="#453581"/><stop offset="1" stop-color="#433d84"/></linearGradient>
<linearGradient id="c20"><stop offset="0" stop-color="#23898e"/><stop offset="0.05" stop-color="#26818e"/><stop offset="0.1" stop-color="#2a768e"/><stop offset="0.15" stop-color="#2f6c8e"/><stop offset="0.2" stop-color="#355f8d"/><stop offset="0.25" stop-color="#3d4e8a"/><stop offset="0.3" stop-color="#433d84"/><stop offset="0.35" stop-color="#472d7b"/><stop offset="0.4" stop-color="#482071"/><stop offset="0.45" stop-color="#48186a"/><stop offset="0.5" stop-color="#471365"/><stop offset="0.55" stop-color="#470e61"/><stop offset="0.6" stop-color="#460b5e"/><stop offset="0.65" stop-color="#470e61"/><stop offset="0.7" stop-color="#471365"/><stop offset="0.75" stop-color="#481a6c"/><stop offset="0.8" stop-color="#482071"/><stop offset="0.85" stop-color="#482677"/><stop offset="0.9" stop-color="#472d7b"/><stop offset="0.95" stop-color="#46337f"/><stop offset="1" stop-color="#443983"/></linearGradient>
<linearGradient id="c21"><stop offset="0" stop-color="#25838e"/><stop offset="0.05" stop-color="#287c8e"/><stop offset="0.1" stop-color="#2c728e"/><stop offset="0.15" stop-color="#30698e"/><stop offset="0.2" stop-color="#365d8d"/><stop offset="0.25" stop-color="#3d4d8a"/><stop offset="0.3" stop-color="#443b84"/><stop offset="0.35" stop-color="#472c7a"/><stop offset="0.4" stop-color="#482071"/><stop offset="0.45" stop-color="#481769"/><stop offset="0.5" stop-color="#471164"/><stop offset="0.55" stop-color="#470e61"/><stop offset="0.6" stop-color="#460b5e"/><stop offset="0.65" stop-color="#470e61"/><stop offset="0.7" stop-color="#471164"/><stop offset="0.75" stop-color="#48186a"/><stop offset="0.8" stop-color="#481f70"/><stop offset="0.85" stop-color="#482576"/><stop offset="0.9" stop-color="#472a7a"/><stop offset="0.95" stop-color="#46307e"/><stop offset="1" stop-color="#453581"/></linearGradient>
<linearGradient id="c22"><stop offset="0" stop-color="#277e8e"/><stop offset="0.05" stop-color="#2a768e"/><stop offset="0.1" stop-color="#2e6f8e"/><stop offset="0.15" stop-color="#32658e"/><stop offset="0.2" stop-color="#38598c"/><stop offset="0.25" stop-color="#3e4989"/><stop offset="0.3" stop-color="#453882"/><stop offset="0.35" stop-color="#472a7a"/><stop offset="0.4" stop-color="#481d6f"/><stop offset="0.45" stop-color="#481668"/><stop offset="0.5" stop-color="#471063"/><stop offset="0.55" stop-color="#470d60"/><stop offset="0.6" stop-color="#460b5e"/><stop offset="0.65" stop-color="#470d60"/><stop offset="0.7" stop-color="#471063"/><stop offset="0.75" stop-color="#481769"/><stop offset="0.8" stop-color="#481d6f"/><stop offset="0.85" stop-color="#482475"/><stop offset="0.9" stop-color="#482878"/><stop offset="0.95" stop-color="#472e7c"/><stop offset="1" stop-color="#46337f"/></linearGradient>
<linearGradient id="c23"><stop offset="0" stop-color="#2a778e"/><stop offset="0.05" stop-color="#2d718e"/><stop offset="0.1" stop-color="#30698e"/><stop offset="0.15" stop-color="#34608d"/><stop offset="0.2" stop-color="#39558c"/><stop offset="0.25" stop-color="#404688"/><stop offset="0.3" stop-color="#453781"/><stop offset="0.35" stop-color="#482878"/><stop offset="0.4" stop-color="#481d6f"/><stop offset="0.45" stop-color="#481467"/><stop offset="0.5" stop-color="#470e61"/><stop offset="0.55" stop-color="#470d60"/><stop offset="0.6" stop-color="#460b5e"/><stop offset="0.65" stop-color="#470d60"/><stop offset="0.7" stop-color="#471063"/><stop offset="0.75" stop-color="#481668"/><stop offset="0.8" stop-color="#481c6e"/><stop offset="0.85" stop-color="#482173"/><stop offset="0.9" stop-color="#482677"/><stop offset="0.95" stop-color="#472a7a"/><stop offset="1" stop-color="#472f7d"/></linearGradient>
<linearGradient id="c24"><stop offset="0" stop-color="#2d718e"/><stop offset="0.05" stop-color="#2f6b8e"/><stop offset="0.1" stop-color="#33638d"/><stop offset="0.15" stop-color="#375b8d"/><stop offset="0.2" stop-color="#3b518b"/><stop offset="0.25" stop-color="#414287"/><stop offset="0.3" stop-color="#463480"/><stop offset="0.35" stop-color="#482677"/><stop offset="0.4" stop-color="#481c6e"/><stop offset="0.45" stop-color="#471365"/><stop offset="0.5" stop-color="#470d60"/><stop offset="0.55" stop-color="#460b5e"/><stop offset="0.6" stop-color="#460a5d"/><stop offset="0.65" stop-color="#460b5e"/><stop offset="0.7" stop-color="#471063"/><stop offset="0.75" stop-color="#481467"/><stop offset="0.8" stop-color="#481a6c"/><stop offset="0.85" stop-color="#481f70"/><stop offset="0.9" stop-color="#482475"/><stop offset="0.95" stop-color="#482878"/><stop offset="1" stop-color="#472c7a"/></linearGradient>
<linearGradient id="c25"><stop offset="0" stop-color="#306a8e"/><stop offset="0.05" stop-color="#32648e"/><stop offset="0.1" stop-color="#365d8d"/><stop offset="0.15" stop-color="#39558c"/><stop offset="0.2" stop-color="#3e4c8a"/><stop offset="0.25" stop-color="#423f85"/><stop offset="0.3" stop-color="#46327e"/><stop offset="0.35" stop-color="#482576"/><stop offset="0.4" stop-color="#481b6d"/><stop offset="0.45" stop-color="#471365"/><stop offset="0.5" stop-color="#470d60"/><stop offset="0.55" stop-color="#460a5d"/><stop offset="0.6" stop-color="#46085c"/><stop offset="0.65" stop-color="#460b5e"/><stop offset="0.7" stop-color="#471063"/><stop offset="0.75" stop-color="#481467"/><stop offset="0.8" stop-color="#481769"/><stop offset="0.85" stop-color="#481c6e"/><stop offset="0.9" stop-color="#482173"/><stop offset="0.95" stop-color="#482576"/><stop offset="1" stop-color="#482979"/></linearGradient>
<linearGradient id="c26"><stop offset="0" stop-color="#32648e"/><stop offset="0.05" stop-color="#355e8d"/><stop offset="0.1" stop-color="#39568c"/><stop offset="0.15" stop-color="#3c4f8a"/><stop offset="0.2" stop-color="#3f4788"/><stop offset="0.25" stop-color="#443b84"/><stop offset="0.3" stop-color="#472f7d"/><stop offset="0.35" stop-color="#482475"/><stop offset="0.4" stop-color="#481a6c"/><stop offset="0.45" stop-color="#471164"/><stop offset="0.5" stop-color="#460b5e"/><stop offset="0.55" stop-color="#46085c"/><stop offset="0.6" stop-color="#46085c"/><stop offset="0.65" stop-color="#460a5d"/><stop offset="0.7" stop-color="#471063"/><stop offset="0.75" stop-color="#471365"/><stop offset="0.8" stop-color="#481668"/><stop offset="0.85" stop-color="#481b6d"/><stop offset="0.9" stop-color="#482071"/><stop offset="0.95" stop-color="#482374"/><stop offset="1" stop-color="#482677"/></linearGradient>
<linearGradient id="c27"><stop offset="0" stop-color="#365d8d"/><stop offset="0.05" stop-color="#38588c"/><stop offset="0.1" stop-color="#3b518b"/><stop offset="0.15" stop-color="#3e4989"/><stop offset="0.2" stop-color="#424186"/><stop offset="0.25" stop-color="#453781"/><stop offset="0.3" stop-color="#472c7a"/><stop offset="0.35" stop-color="#482173"/><stop offset="0.4" stop-color="#48186a"/><stop offset="0.45" stop-color="#471063"/><stop offset="0.5" stop-color="#460a5d"/><stop offset="0.55" stop-color="#46085c"/><stop offset="0.6" stop-color="#46085c"/><stop offset="0.65" stop-color="#460a5d"/><stop offset="0.7" stop-color="#470e61"/><stop offset="0.75" stop-color="#471164"/><stop offset="0.8" stop-color="#481668"/><stop offset="0.85" stop-color="#481a6c"/><stop offset="0.9" stop-color="#481d6f"/><stop offset="0.95" stop-color="#482173"/><stop offset="1" stop-color="#482374"/></linearGradient>
<linearGradient id="c28"><stop offset="0" stop-color="#39558c"/><stop offset="0.05" stop-color="#3b518b"/><stop offset="0.1" stop-color="#3e4c8a"/><stop offset="0.15" stop-color="#414487"/><stop offset="0.2" stop-color="#443b84"/><stop offset="0.25" stop-color="#46327e"/><stop offset="0.3" stop-color="#482677"/><stop offset="0.35" stop-color="#481d6f"/><stop offset="0.4" stop-color="#481668"/><stop offset="0.45" stop-color="#470e61"/><stop offset="0.5" stop-color="#460a5d"/><stop offset="0.55" stop-color="#46085c"/><stop offset="0.6" stop-color="#46085c"/><stop offset="0.65" stop-color="#460a5d"/><stop offset="0.7" stop-color="#470d60"/><stop offset="0.75" stop-color="#471164"/><stop offset="0.8" stop-color="#481467"/><stop offset="0.85" stop-color="#48186a"/><stop offset="0.9" stop-color="#481c6e"/><stop offset="0.95" stop-color="#481f70"/><stop offset="1" stop-color="#482071"/></linearGradient>
<linearGradient id="c29"><stop offset="0" stop-color="#3c4f8a"/><stop offset="0.05" stop-color="#3e4a89"/><stop offset="0.1" stop-color="#404688"/><stop offset="0.15" stop-color="#423f85"/><stop offset="0.2" stop-color="#453781"/><stop offset="0.25" stop-color="#472d7b"/><stop offset="0.3" stop-color="#482374"/><stop offset="0.35" stop-color="#481b6d"/><stop offset="0.4" stop-color="#481467"/><stop offset="0.45" stop-color="#470d60"/><stop offset="0.5" stop-color="#46085c"/><stop offset="0.55" stop-color="#46085c"/><stop offset="0.6" stop-color="#46085c"/><stop offset="0.65" stop-color="#460a5d"/><stop offset="0.7" stop-color="#470d60"/><stop offset="0.75" stop-color="#471063"/><stop offset="0.8" stop-color="#481467"/><stop offset="0.85" stop-color="#48186a"/><stop offset="0.9" stop-color="#481b6d"/><stop offset="0.95" stop-color="#481d6f"/><stop offset="1" stop-color="#481f70"/></linearGradient>
<linearGradient id="c30"><stop offset="0" stop-color="#3e4989"/><stop offset="0.05" stop-color="#404688"/><stop offset="0.1" stop-color="#424186"/><stop offset="0.15" stop-color="#443a83"/><stop offset="0.2" stop-color="#46327e"/><stop offset="0.25" stop-color="#482878"/><stop offset="0.3" stop-color="#481f70"/><stop offset="0.35" stop-color="#48186a"/><stop offset="0.4" stop-color="#471365"/><stop offset="0.45" stop-color="#460b5e"/><stop offset="0.5" stop-color="#46075a"/><stop offset="0.55" stop-color="#46075a"/><stop offset="0.6" stop-color="#46085c"/><stop offset="0.65" stop-color="#46085c"/><stop offset="0.7" stop-color="#460b5e"/><stop offset="0.75" stop-color="#470e61"/><stop offset="0.8" stop-color="#471365"/><stop offset="0.85" stop-color="#481769"/><stop offset="0.9" stop-color="#481a6c"/><stop offset="0.95" stop-color="#481b6d"/><stop offset="1" stop-color="#481c6e"/></linearGradient>
<linearGradient id="c31"><stop offset="0" stop-color="#404588"/><stop offset="0.05" stop-color="#424186"/><stop offset="0.1" stop-color="#433d84"/><stop offset="0.15" stop-color="#453581"/><stop offset="0.2" stop-color="#472e7c"/><stop offset="0.25" stop-color="#482576"/><stop offset="0.3" stop-color="#481c6e"/><stop offset="0.35" stop-color="#481668"/><stop offset="0.4" stop-color="#471063"/><stop offset="0.45" stop-color="#460a5d"/><stop offset="0.5" stop-color="#46075a"/><stop offset="0.55" stop-color="#46075a"/><stop offset="0.6" stop-color="#46075a"/><stop offset="0.65" stop-color="#46085c"/><stop offset="0.7" stop-color="#460a5d"/><stop offset="0.75" stop-color="#470d60"/><stop offset="0.8" stop-color="#471164"/><stop offset="0.85" stop-color="#481467"/><stop offset="0.9" stop-color="#48186a"/><stop offset="0.95" stop-color="#481a6c"/><stop offset="1" stop-color="#481b6d"/></linearGradient>
<linearGradient id="c32"><stop offset="0" stop-color="#424186"/><stop offset="0.05" stop-color="#433d84"/><stop offset="0.1" stop-color="#453882"/><stop offset="0.15" stop-color="#46327e"/><stop offset="0.2" stop-color="#482979"/><stop offset="0.25" stop-color="#482173"/><stop offset="0.3" stop-color="#481a6c"/><stop offset="0.35" stop-color="#471365"/><stop offset="0.4" stop-color="#470d60"/><stop offset="0.45" stop-color="#46085c"/><stop offset="0.5" stop-color="#450559"/><stop offset="0.55" stop-color="#450559"/><stop offset="0.6" stop-color="#450559"/><stop offset="0.65" stop-color="#46075a"/><stop offset="0.7" stop-color="#460a5d"/><stop offset="0.75" stop-color="#460b5e"/><stop offset="0.8" stop-color="#470e61"/><stop offset="0.85" stop-color="#471365"/><stop offset="0.9" stop-color="#481769"/><stop offset="0.95" stop-color="#48186a"/><stop offset="1" stop-color="#481a6c"/></linearGradient>
<linearGradient id="c33"><stop offset="0" stop-color="#433d84"/><stop offset="0.05" stop-color="#443983"/><stop offset="0.1" stop-color="#463480"/><stop offset="0.15" stop-color="#472d7b"/><stop offset="0.2" stop-color="#482677"/><stop offset="0.25" stop-color="#481d6f"/><stop offset="0.3" stop-color="#481769"/><stop offset="0.35" stop-color="#471063"/><stop offset="0.4" stop-color="#460a5d"/><stop offset="0.45" stop-color="#46075a"/><stop offset="0.5" stop-color="#450457"/><stop offset="0.55" stop-color="#450559"/><stop offset="0.6" stop-color="#450559"/><stop offset="0.65" stop-color="#450559"/><stop offset="0.7" stop-color="#46085c"/><stop offset="0.75" stop-color="#460a5d"/><stop offset="0.8" stop-color="#470d60"/><stop offset="0.85" stop-color="#471164"/><stop offset="0.9" stop-color="#481668"/><stop offset="0.95" stop-color="#481769"/><stop offset="1" stop-color="#48186a"/></linearGradient>
<linearGradient id="c34"><stop offset="0" stop-color="#443983"/><stop offset="0.05" stop-color="#453581"/><stop offset="0.1" stop-color="#472f7d"/><stop offset="0.15" stop-color="#482979"/><stop offset="0.2" stop-color="#482374"/><stop offset="0.25" stop-color="#481b6d"/><stop offset="0.3" stop-color="#481467"/><stop offset="0.35" stop-color="#470d60"/><stop offset="0.4" stop-color="#46085c"/><stop offset="0.45" stop-color="#450559"/><stop offset="0.5" stop-color="#450457"/><stop offset="0.55" stop-color="#450457"/><stop offset="0.6" stop-color="#450457"/><stop offset="0.65" stop-color="#450559"/><stop offset="0.7" stop-color="#46085c"/><stop offset="0.75" stop-color="#460a5d"/><stop offset="0.8" stop-color="#460b5e"/><stop offset="0.85" stop-color="#471063"/><stop offset="0.9" stop-color="#481467"/><stop offset="0.95" stop-color="#481668"/><stop offset="1" stop-color="#481769"/></linearGradient>
<linearGradient id="c35"><stop offset="0" stop-color="#453581"/><stop offset="0.05" stop-color="#46307e"/><stop offset="0.1" stop-color="#472c7a"/><stop offset="0.15" stop-color="#482576"/><stop offset="0.2" stop-color="#481f70"/><stop offset="0.25" stop-color="#48186a"/><stop offset="0.3" stop-color="#471365"/><stop offset="0.35" stop-color="#460b5e"/><stop offset="0.4" stop-color="#46075a"/><stop offset="0.45" stop-color="#450559"/><stop offset="0.5" stop-color="#450457"/><stop offset="0.55" stop-color="#450457"/><stop offset="0.6" stop-color="#450457"/><stop offset="0.65" stop-color="#450559"/><stop offset="0.7" stop-color="#46085c"/><stop offset="0.75" stop-color="#460a5d"/><stop offset="0.8" stop-color="#460b5e"/><stop offset="0.85" stop-color="#471063"/><stop offset="0.9" stop-color="#471365"/><stop offset="0.95" stop-color="#481467"/><stop offset="1" stop-color="#481769"/></linearGradient>
<linearGradient id="c36"><stop offset="0" stop-color="#46327e"/><stop offset="0.05" stop-color="#472d7b"/><stop offset="0.1" stop-color="#482878"/><stop offset="0.15" stop-color="#482374"/><stop offset="0.2" stop-color="#481c6e"/><stop offset="0.25" stop-color="#481769"/><stop offset="0.3" stop-color="#471063"/><stop offset="0.35" stop-color="#460a5d"/><stop offset="0.4" stop-color="#46075a"/><stop offset="0.45" stop-color="#450457"/><stop offset="0.5" stop-color="#450457"/><stop offset="0.55" stop-color="#450457"/><stop offset="0.6" stop-color="#450457"/><stop offset="0.65" stop-color="#450559"/><stop offset="0.7" stop-color="#46085c"/><stop offset="0.75" stop-color="#460a5d"/><stop offset="0.8" stop-color="#460b5e"/><stop offset="0.85" stop-color="#470e61"/><stop offset="0.9" stop-color="#471164"/><stop offset="0.95" stop-color="#481467"/><stop offset="1" stop-color="#481668"/></linearGradient>
<linearGradient id="c37"><stop offset="0" stop-color="#472d7b"/><stop offset="0.05" stop-color="#482979"/><stop offset="0.1" stop-color="#482576"/><stop offset="0.15" stop-color="#481f70"/><stop offset="0.2" stop-color="#481a6c"/><stop offset="0.25" stop-color="#481467"/><stop offset="0.3" stop-color="#470e61"/><stop offset="0.35" stop-color="#46085c"/><stop offset="0.4" stop-color="#450559"/><stop offset="0.45" stop-color="#450457"/><stop offset="0.5" stop-color="#450457"/><stop offset="0.55" stop-color="#450457"/><stop offset="0.6" stop-color="#450457"/><stop offset="0.65" stop-color="#450559"/><stop offset="0.7" stop-color="#46085c"/><stop offset="0.75" stop-color="#460a5d"/><stop offset="0.8" stop-color="#460b5e"/><stop offset="0.85" stop-color="#470e61"/><stop offset="0.9" stop-color="#471164"/><stop offset="0.95" stop-color="#471365"/><stop offset="1" stop-color="#481467"/></linearGradient>
<linearGradient id="c38"><stop offset="0" stop-color="#482979"/><stop offset="0.05" stop-color="#482677"/><stop offset="0.1" stop-color="#482173"/><stop offset="0.15" stop-color="#481c6e"/><stop offset="0.2" stop-color="#481769"/><stop offset="0.25" stop-color="#471164"/><stop offset="0.3" stop-color="#470d60"/><stop offset="0.35" stop-color="#46085c"/><stop offset="0.4" stop-color="#450457"/><stop offset="0.45" stop-color="#450457"/><stop offset="0.5" stop-color="#450457"/><stop offset="0.55" stop-color="#450457"/><stop offset="0.6" stop-color="#450457"/><stop offset="0.65" stop-color="#450559"/><stop offset="0.7" stop-color="#46085c"/><stop offset="0.75" stop-color="#460a5d"/><stop offset="0.8" stop-color="#460b5e"/><stop offset="0.85" stop-color="#470e61"/><stop offset="0.9" stop-color="#471063"/><stop offset="0.95" stop-color="#471365"/><stop offset="1" stop-color="#481467"/></linearGradient>
<linearGradient id="c39"><stop offset="0" stop-color="#482677"/><stop offset="0.05" stop-color="#482374"/><stop offset="0.1" stop-color="#481f70"/><stop offset="0.15" stop-color="#481a6c"/><stop offset="0.2" stop-color="#481467"/><stop offset="0.25" stop-color="#471063"/><stop offset="0.3" stop-color="#460b5e"/><stop offset="0.35" stop-color="#46075a"/><stop offset="0.4" stop-color="#450457"/><stop offset="0.45" stop-color="#450457"/><stop offset="0.5" stop-color="#450457"/><stop offset="0.55" stop-color="#450457"/><stop offset="0.6" stop-color="#450457"/><stop offset="0.65" stop-color="#450559"/><stop offset="0.7" stop-color="#46085c"/><stop offset="0.75" stop-color="#460a5d"/><stop offset="0.8" stop-color="#460b5e"/><stop offset="0.85" stop-color="#470d60"/><stop offset="0.9" stop-color="#471063"/><stop offset="0.95" stop-color="#471164"/><stop offset="1" stop-color="#471365"/></linearGradient>
<linearGradient id="d0"><stop offset="0" stop-color="#2c728e"/><stop offset="0.05" stop-color="#2c718e"/><stop offset="0.1" stop-color="#2d718e"/><stop offset="0.15" stop-color="#2d708e"/><stop offset="0.2" stop-color="#2d708e"/><stop offset="0.25" stop-color="#2e6f8e"/><stop offset="0.3" stop-color="#2e6e8e"/><stop offset="0.35" stop-color="#2f6c8e"/><stop offset="0.4" stop-color="#306a8e"/><stop offset="0.45" stop-color="#30698e"/><stop offset="0.5" stop-color="#31678e"/><stop offset="0.55" stop-color="#31678e"/><stop offset="0.6" stop-color="#32658e"/><stop offset="0.65" stop-color="#32648e"/><stop offset="0.7" stop-color="#33628d"/><stop offset="0.75" stop-color="#355f8d"/><stop offset="0.8" stop-color="#365c8d"/><stop offset="0.85" stop-color="#39568c"/><stop offset="0.9" stop-color="#3b518b"/><stop offset="0.95" stop-color="#3e4989"/><stop offset="1" stop-color="#424086"/></linearGradient>
<linearGradient id="d1"><stop offset="0" stop-color="#2d718e"/><stop offset="0.05" stop-color="#2d718e"/><stop offset="0.1" stop-color="#2d708e"/><stop offset="0.15" stop-color="#2e6f8e"/><stop offset="0.2" stop-color="#2e6e8e"/><stop offset="0.25" stop-color="#2e6d8e"/><stop offset="0.3" stop-color="#2f6c8e"/><stop offset="0.35" stop-color="#306a8e"/><stop offset="0.4" stop-color="#31688e"/><stop offset="0.45" stop-color="#31668e"/><stop offset="0.5" stop-color="#32658e"/><stop offset="0.55" stop-color="#32648e"/><stop offset="0.6" stop-color="#33628d"/><stop offset="0.65" stop-color="#34608d"/><stop offset="0.7" stop-color="#365d8d"/><stop offset="0.75" stop-color="#375a8c"/><stop offset="0.8" stop-color="#39558c"/><stop offset="0.85" stop-color="#3c508b"/><stop offset="0.9" stop-color="#3e4989"/><stop offset="0.95" stop-color="#414287"/><stop offset="1" stop-color="#443983"/></linearGradient>
<linearGradient id="d2"><stop offset="0" stop-color="#2d708e"/><stop offset="0.05" stop-color="#2e6f8e"/><stop offset="0.1" stop-color="#2e6e8e"/><stop offset="0.15" stop-color="#2e6d8e"/><stop offset="0.2" stop-color="#2f6c8e"/><stop offset="0.25" stop-color="#2f6b8e"/><stop offset="0.3" stop-color="#306a8e"/><stop offset="0.35" stop-color="#31688e"/><stop offset="0.4" stop-color="#31668e"/><stop offset="0.45" stop-color="#32648e"/><stop offset="0.5" stop-color="#33628d"/><stop offset="0.55" stop-color="#34608d"/><stop offset="0.6" stop-color="#355e8d"/><stop offset="0.65" stop-color="#375b8d"/><stop offset="0.7" stop-color="#38588c"/><stop offset="0.75" stop-color="#3a548c"/><stop offset="0.8" stop-color="#3c4f8a"/><stop offset="0.85" stop-color="#3e4989"/><stop offset="0.9" stop-color="#414287"/><stop offset="0.95" stop-color="#443b84"/><stop offset="1" stop-color="#46337f"/></linearGradient>
<linearGradient id="d3"><stop offset="0" stop-color="#2e6e8e"/><stop offset="0.05" stop-color="#2e6d8e"/><stop offset="0.1" stop-color="#2f6c8e"/><stop offset="0.15" stop-color="#2f6b8e"/><stop offset="0.2" stop-color="#306a8e"/><stop offset="0.25" stop-color="#30698e"/><stop offset="0.3" stop-color="#31688e"/><stop offset="0.35" stop-color="#31668e"/><stop offset="0.4" stop-color="#33638d"/><stop offset="0.45" stop-color="#34618d"/><stop offset="0.5" stop-color="#355f8d"/><stop offset="0.55" stop-color="#365d8d"/><stop offset="0.6" stop-color="#375a8c"/><stop offset="0.65" stop-color="#39568c"/><stop offset="0.7" stop-color="#3a538b"/><stop offset="0.75" stop-color="#3c4f8a"/><stop offset="0.8" stop-color="#3e4989"/><stop offset="0.85" stop-color="#414287"/><stop offset="0.9" stop-color="#443b84"/><stop offset="0.95" stop-color="#463480"/><stop offset="1" stop-color="#472d7b"/></linearGradient>
<linearGradient id="d4"><stop offset="0" stop-color="#2f6c8e"/><stop offset="0.05" stop-color="#2f6b8e"/><stop offset="0.1" stop-color="#2f6b8e"/><stop offset="0.15" stop-color="#306a8e"/><stop offset="0.2" stop-color="#31688e"/><stop offset="0.25" stop-color="#31678e"/><stop offset="0.3" stop-color="#31668e"/><stop offset="0.35" stop-color="#33638d"/><stop offset="0.4" stop-color="#34608d"/><stop offset="0.45" stop-color="#355e8d"/><stop offset="0.5" stop-color="#375b8d"/><stop offset="0.55" stop-color="#38598c"/><stop offset="0.6" stop-color="#39558c"/><stop offset="0.65" stop-color="#3b528b"/><stop offset="0.7" stop-color="#3d4e8a"/><stop offset="0.75" stop-color="#3f4889"/><stop offset="0.8" stop-color="#414287"/><stop offset="0.85" stop-color="#433d84"/><stop offset="0.9" stop-color="#453581"/><stop offset="0.95" stop-color="#472e7c"/><stop offset="1" stop-color="#482878"/></linearGradient>
<linearGradient id="d5"><stop offset="0" stop-color="#306a8e"/><stop offset="0.05" stop-color="#30698e"/><stop offset="0.1" stop-color="#30698e"/><stop offset="0.15" stop-color="#31688e"/><stop offset="0.2" stop-color="#31668e"/><stop offset="0.25" stop-color="#32658e"/><stop offset="0.3" stop-color="#33638d"/><stop offset="0.35" stop-color="#34618d"/><stop offset="0.4" stop-color="#365d8d"/><stop offset="0.45" stop-color="#375a8c"/><stop offset="0.5" stop-color="#38588c"/><stop offset="0.55" stop-color="#3a548c"/><stop offset="0.6" stop-color="#3b518b"/><stop offset="0.65" stop-color="#3d4d8a"/><stop offset="0.7" stop-color="#3f4889"/><stop offset="0.75" stop-color="#414287"/><stop offset="0.8" stop-color="#433d84"/><stop offset="0.85" stop-color="#453781"/><stop offset="0.9" stop-color="#472f7d"/><stop offset="0.95" stop-color="#482979"/><stop offset="1" stop-color="#482374"/></linearGradient>
<linearGradient id="d6"><stop offset="0" stop-color="#31688e"/><stop offset="0.05" stop-color="#31678e"/><stop offset="0.1" stop-color="#31678e"/><stop offset="0.15" stop-color="#32658e"/><stop offset="0.2" stop-color="#32648e"/><stop offset="0.25" stop-color="#33638d"/><stop offset="0.3" stop-color="#34618d"/><stop offset="0.35" stop-color="#355e8d"/><stop offset="0.4" stop-color="#375a8c"/><stop offset="0.45" stop-color="#39568c"/><stop offset="0.5" stop-color="#3a538b"/><stop offset="0.55" stop-color="#3c508b"/><stop offset="0.6" stop-color="#3e4c8a"/><stop offset="0.65" stop-color="#3f4788"/><stop offset="0.7" stop-color="#414287"/><stop offset="0.75" stop-color="#433d84"/><stop offset="0.8" stop-color="#453781"/><stop offset="0.85" stop-color="#46307e"/><stop offset="0.9" stop-color="#472a7a"/><stop offset="0.95" stop-color="#482475"/><stop offset="1" stop-color="#481f70"/></linearGradient>
<linearGradient id="d7"><stop offset="0" stop-color="#31668e"/><stop offset="0.05" stop-color="#32658e"/><stop offset="0.1" stop-color="#32648e"/><stop offset="0.15" stop-color="#33638d"/><stop offset="0.2" stop-color="#33628d"/><stop offset="0.25" stop-color="#34608d"/><stop offset="0.3" stop-color="#355e8d"/><stop offset="0.35" stop-color="#375b8d"/><stop offset="0.4" stop-color="#39568c"/><stop offset="0.45" stop-color="#3b528b"/><stop offset="0.5" stop-color="#3c4f8a"/><stop offset="0.55" stop-color="#3e4a89"/><stop offset="0.6" stop-color="#404688"/><stop offset="0.65" stop-color="#424186"/><stop offset="0.7" stop-color="#433d84"/><stop offset="0.75" stop-color="#453781"/><stop offset="0.8" stop-color="#46327e"/><stop offset="0.85" stop-color="#472a7a"/><stop offset="0.9" stop-color="#482576"/><stop offset="0.95" stop-color="#482071"/><stop offset="1" stop-color="#481c6e"/></linearGradient>
<linearGradient id="d8"><stop offset="0" stop-color="#33638d"/><stop offset="0.05" stop-color="#33638d"/><stop offset="0.1" stop-color="#33628d"/><stop offset="0.15" stop-color="#34618d"/><stop offset="0.2" stop-color="#355f8d"/><stop offset="0.25" stop-color="#365d8d"/><stop offset="0.3" stop-color="#375b8d"/><stop offset="0.35" stop-color="#39568c"/><stop offset="0.4" stop-color="#3b528b"/><stop offset="0.45" stop-color="#3d4e8a"/><stop offset="0.5" stop-color="#3e4989"/><stop offset="0.55" stop-color="#404588"/><stop offset="0.6" stop-color="#424086"/><stop offset="0.65" stop-color="#443a83"/><stop offset="0.7" stop-color="#453581"/><stop offset="0.75" stop-color="#46307e"/><stop offset="0.8" stop-color="#472a7a"/><stop offset="0.85" stop-color="#482576"/><stop offset="0.9" stop-color="#482071"/><stop offset="0.95" stop-color="#481c6e"/><stop offset="1" stop-color="#481a6c"/></linearGradient>
<linearGradient id="d9"><stop offset="0" stop-color="#34608d"/><stop offset="0.05" stop-color="#34608d"/><stop offset="0.1" stop-color="#355f8d"/><stop offset="0.15" stop-color="#355e8d"/><stop offset="0.2" stop-color="#365c8d"/><stop offset="0.25" stop-color="#375a8c"/><stop offset="0.3" stop-color="#39568c"/><stop offset="0.35" stop-color="#3b528b"/><stop offset="0.4" stop-color="#3d4d8a"/><stop offset="0.45" stop-color="#3f4889"/><stop offset="0.5" stop-color="#414287"/><stop offset="0.55" stop-color="#433e85"/><stop offset="0.6" stop-color="#453882"/><stop offset="0.65" stop-color="#46337f"/><stop offset="0.7" stop-color="#472e7c"/><stop offset="0.75" stop-color="#482979"/><stop offset="0.8" stop-color="#482475"/><stop offset="0.85" stop-color="#481f70"/><stop offset="0.9" stop-color="#481b6d"/><stop offset="0.95" stop-color="#48186a"/><stop offset="1" stop-color="#481668"/></linearGradient>
<linearGradient id="d10"><stop offset="0" stop-color="#365d8d"/><stop offset="0.05" stop-color="#365d8d"/><stop offset="0.1" stop-color="#365c8d"/><stop offset="0.15" stop-color="#375b8d"/><stop offset="0.2" stop-color="#38598c"/><stop offset="0.25" stop-color="#39568c"/><stop offset="0.3" stop-color="#3b528b"/><stop offset="0.35" stop-color="#3d4e8a"/><stop offset="0.4" stop-color="#3f4889"/><stop offset="0.45" stop-color="#424186"/><stop offset="0.5" stop-color="#443b84"/><stop offset="0.55" stop-color="#453581"/><stop offset="0.6" stop-color="#46307e"/><stop offset="0.65" stop-color="#472c7a"/><stop offset="0.7" stop-color="#482677"/><stop offset="0.75" stop-color="#482374"/><stop offset="0.8" stop-color="#481d6f"/><stop offset="0.85" stop-color="#481a6c"/><stop offset="0.9" stop-color="#481769"/><stop offset="0.95" stop-color="#481668"/><stop offset="1" stop-color="#481467"/></linearGradient>
<linearGradient id="d11"><stop offset="0" stop-color="#375b8d"/><stop offset="0.05" stop-color="#375a8c"/><stop offset="0.1" stop-color="#375a8c"/><stop offset="0.15" stop-color="#38588c"/><stop offset="0.2" stop-color="#39558c"/><stop offset="0.25" stop-color="#3b528b"/><stop offset="0.3" stop-color="#3c4f8a"/><stop offset="0.35" stop-color="#3e4989"/><stop offset="0.4" stop-color="#414287"/><stop offset="0.45" stop-color="#443b84"/><stop offset="0.5" stop-color="#453581"/><stop offset="0.55" stop-color="#472f7d"/><stop offset="0.6" stop-color="#482979"/><stop offset="0.65" stop-color="#482475"/><stop offset="0.7" stop-color="#482071"/><stop offset="0.75" stop-color="#481c6e"/><stop offset="0.8" stop-color="#48186a"/><stop offset="0.85" stop-color="#481668"/><stop offset="0.9" stop-color="#471365"/><stop offset="0.95" stop-color="#471365"/><stop offset="1" stop-color="#471164"/></linearGradient>
<linearGradient id="d12"><stop offset="0" stop-color="#38588c"/><stop offset="0.05" stop-color="#38588c"/><stop offset="0.1" stop-color="#39568c"/><stop offset="0.15" stop-color="#39558c"/><stop offset="0.2" stop-color="#3a538b"/><stop offset="0.25" stop-color="#3c4f8a"/><stop offset="0.3" stop-color="#3e4a89"/><stop offset="0.35" stop-color="#404588"/><stop offset="0.4" stop-color="#433e85"/><stop offset="0.45" stop-color="#453781"/><stop offset="0.5" stop-color="#472f7d"/><stop offset="0.55" stop-color="#482979"/><stop offset="0.6" stop-color="#482374"/><stop offset="0.65" stop-color="#481f70"/><stop offset="0.7" stop-color="#481b6d"/><stop offset="0.75" stop-color="#48186a"/><stop offset="0.8" stop-color="#481668"/><stop offset="0.85" stop-color="#471164"/><stop offset="0.9" stop-color="#471063"/><stop offset="0.95" stop-color="#471063"/><stop offset="1" stop-color="#471063"/></linearGradient>
<linearGradient id="d13"><stop offset="0" stop-color="#39568c"/><stop offset="0.05" stop-color="#39558c"/><stop offset="0.1" stop-color="#3a548c"/><stop offset="0.15" stop-color="#3a538b"/><stop offset="0.2" stop-color="#3b518b"/><stop offset="0.25" stop-color="#3d4d8a"/><stop offset="0.3" stop-color="#3f4788"/><stop offset="0.35" stop-color="#424186"/><stop offset="0.4" stop-color="#443983"/><stop offset="0.45" stop-color="#46327e"/><stop offset="0.5" stop-color="#472a7a"/><stop offset="0.55" stop-color="#482475"/><stop offset="0.6" stop-color="#481f70"/><stop offset="0.65" stop-color="#481b6d"/><stop offset="0.7" stop-color="#48186a"/><stop offset="0.75" stop-color="#481668"/><stop offset="0.8" stop-color="#471365"/><stop offset="0.85" stop-color="#471063"/><stop offset="0.9" stop-color="#470e61"/><stop offset="0.95" stop-color="#470e61"/><stop offset="1" stop-color="#470e61"/></linearGradient>
<linearGradient id="d14"><stop offset="0" stop-color="#3a548c"/><stop offset="0.05" stop-color="#3a548c"/><stop offset="0.1" stop-color="#3a538b"/><stop offset="0.15" stop-color="#3b518b"/><stop offset="0.2" stop-color="#3d4e8a"/><stop offset="0.25" stop-color="#3e4989"/><stop offset="0.3" stop-color="#404588"/><stop offset="0.35" stop-color="#433e85"/><stop offset="0.4" stop-color="#463480"/><stop offset="0.45" stop-color="#472d7b"/><stop offset="0.5" stop-color="#482677"/><stop offset="0.55" stop-color="#481f70"/><stop offset="0.6" stop-color="#481b6d"/><stop offset="0.65" stop-color="#48186a"/><stop offset="0.7" stop-color="#481668"/><stop offset="0.75" stop-color="#471365"/><stop offset="0.8" stop-color="#471164"/><stop offset="0.85" stop-color="#470e61"/><stop offset="0.9" stop-color="#470e61"/><stop offset="0.95" stop-color="#470e61"/><stop offset="1" stop-color="#470e61"/></linearGradient>
<linearGradient id="d15"><stop offset="0" stop-color="#3a538b"/><stop offset="0.05" stop-color="#3b528b"/><stop offset="0.1" stop-color="#3b518b"/><stop offset="0.15" stop-color="#3c4f8a"/><stop offset="0.2" stop-color="#3e4c8a"/><stop offset="0.25" stop-color="#3f4788"/><stop offset="0.3" stop-color="#424186"/><stop offset="0.35" stop-color="#443983"/><stop offset="0.4" stop-color="#46307e"/><stop offset="0.45" stop-color="#482878"/><stop offset="0.5" stop-color="#482173"/><stop offset="0.55" stop-color="#481b6d"/><stop offset="0.6" stop-color="#481769"/><stop offset="0.65" stop-color="#481467"/><stop offset="0.7" stop-color="#471365"/><stop offset="0.75" stop-color="#471164"/><stop offset="0.8" stop-color="#471063"/><stop offset="0.85" stop-color="#470e61"/><stop offset="0.9" stop-color="#470d60"/><stop offset="0.95" stop-color="#470d60"/><stop offset="1" stop-color="#470d60"/></linearGradient>
<linearGradient id="d16"><stop offset="0" stop-color="#3b518b"/><stop offset="0.05" stop-color="#3b518b"/><stop offset="0.1" stop-color="#3c4f8a"/><stop offset="0.15" stop-color="#3d4d8a"/><stop offset="0.2" stop-color="#3e4989"/><stop offset="0.25" stop-color="#414487"/><stop offset="0.3" stop-color="#433e85"/><stop offset="0.35" stop-color="#453581"/><stop offset="0.4" stop-color="#472c7a"/><stop offset="0.45" stop-color="#482374"/><stop offset="0.5" stop-color="#481c6e"/><stop offset="0.55" stop-color="#481769"/><stop offset="0.6" stop-color="#471365"/><stop offset="0.65" stop-color="#471164"/><stop offset="0.7" stop-color="#471063"/><stop offset="0.75" stop-color="#470e61"/><stop offset="0.8" stop-color="#470e61"/><stop offset="0.85" stop-color="#470d60"/><stop offset="0.9" stop-color="#470d60"/><stop offset="0.95" stop-color="#470d60"/><stop offset="1" stop-color="#470d60"/></linearGradient>
<linearGradient id="d17"><stop offset="0" stop-color="#3c508b"/><stop offset="0.05" stop-color="#3c508b"/><stop offset="0.1" stop-color="#3d4e8a"/><stop offset="0.15" stop-color="#3e4c8a"/><stop offset="0.2" stop-color="#3f4788"/><stop offset="0.25" stop-color="#424186"/><stop offset="0.3" stop-color="#443a83"/><stop offset="0.35" stop-color="#46327e"/><stop offset="0.4" stop-color="#482878"/><stop offset="0.45" stop-color="#481f70"/><stop offset="0.5" stop-color="#48186a"/><stop offset="0.55" stop-color="#471365"/><stop offset="0.6" stop-color="#471063"/><stop offset="0.65" stop-color="#470e61"/><stop offset="0.7" stop-color="#470e61"/><stop offset="0.75" stop-color="#470d60"/><stop offset="0.8" stop-color="#470d60"/><stop offset="0.85" stop-color="#470d60"/><stop offset="0.9" stop-color="#470d60"/><stop offset="0.95" stop-color="#470d60"/><stop offset="1" stop-color="#470d60"/></linearGradient>
<linearGradient id="d18"><stop offset="0" stop-color="#3c4f8a"/><stop offset="0.05" stop-color="#3c4f8a"/><stop offset="0.1" stop-color="#3d4d8a"/><stop offset="0.15" stop-color="#3e4a89"/><stop offset="0.2" stop-color="#404688"/><stop offset="0.25" stop-color="#424086"/><stop offset="0.3" stop-color="#443983"/><stop offset="0.35" stop-color="#472f7d"/><stop offset="0.4" stop-color="#482576"/><stop offset="0.45" stop-color="#481c6e"/><stop offset="0.5" stop-color="#481668"/><stop offset="0.55" stop-color="#471063"/><stop offset="0.6" stop-color="#470d60"/><stop offset="0.65" stop-color="#470d60"/><stop offset="0.7" stop-color="#470d60"/><stop offset="0.75" stop-color="#470d60"/><stop offset="0.8" stop-color="#460b5e"/><stop offset="0.85" stop-color="#460b5e"/><stop offset="0.9" stop-color="#460b5e"/><stop offset="0.95" stop-color="#460b5e"/><stop offset="1" stop-color="#460b5e"/></linearGradient>
<linearGradient id="d19"><stop offset="0" stop-color="#3c4f8a"/><stop offset="0.05" stop-color="#3d4e8a"/><stop offset="0.1" stop-color="#3e4c8a"/><stop offset="0.15" stop-color="#3e4989"/><stop offset="0.2" stop-color="#404588"/><stop offset="0.25" stop-color="#423f85"/><stop offset="0.3" stop-color="#453882"/><stop offset="0.35" stop-color="#472e7c"/><stop offset="0.4" stop-color="#482374"/><stop offset="0.45" stop-color="#481b6d"/><stop offset="0.5" stop-color="#481467"/><stop offset="0.55" stop-color="#470e61"/><stop offset="0.6" stop-color="#460b5e"/><stop offset="0.65" stop-color="#460b5e"/><stop offset="0.7" stop-color="#460b5e"/><stop offset="0.75" stop-color="#460b5e"/><stop offset="0.8" stop-color="#460b5e"/><stop offset="0.85" stop-color="#460b5e"/><stop offset="0.9" stop-color="#460b5e"/><stop offset="0.95" stop-color="#460b5e"/><stop offset="1" stop-color="#460b5e"/></linearGradient>
<linearGradient id="d20"><stop offset="0" stop-color="#3c4f8a"/><stop offset="0.05" stop-color="#3d4e8a"/><stop offset="0.1" stop-color="#3e4c8a"/><stop offset="0.15" stop-color="#3e4989"/><stop offset="0.2" stop-color="#404588"/><stop offset="0.25" stop-color="#423f85"/><stop offset="0.3" stop-color="#453882"/><stop offset="0.35" stop-color="#472e7c"/><stop offset="0.4" stop-color="#482374"/><stop offset="0.45" stop-color="#481b6d"/><stop offset="0.5" stop-color="#481467"/><stop offset="0.55" stop-color="#470e61"/><stop offset="0.6" stop-color="#460b5e"/><stop offset="0.65" stop-color="#460b5e"/><stop offset="0.7" stop-color="#460b5e"/><stop offset="0.75" stop-color="#460b5e"/><stop offset="0.8" stop-color="#460b5e"/><stop offset="0.85" stop-color="#460b5e"/><stop offset="0.9" stop-color="#460b5e"/><stop offset="0.95" stop-color="#460b5e"/><stop offset="1" stop-color="#460b5e"/></linearGradient>
<linearGradient id="d21"><stop offset="0" stop-color="#3c508b"/><stop offset="0.05" stop-color="#3c4f8a"/><stop offset="0.1" stop-color="#3d4d8a"/><stop offset="0.15" stop-color="#3e4a89"/><stop offset="0.2" stop-color="#404688"/><stop offset="0.25" stop-color="#424086"/><stop offset="0.3" stop-color="#443983"/><stop offset="0.35" stop-color="#472f7d"/><stop offset="0.4" stop-color="#482576"/><stop offset="0.45" stop-color="#481c6e"/><stop offset="0.5" stop-color="#481668"/><stop offset="0.55" stop-color="#471063"/><stop offset="0.6" stop-color="#470d60"/><stop offset="0.65" stop-color="#470d60"/><stop offset="0.7" stop-color="#470d60"/><stop offset="0.75" stop-color="#460b5e"/><stop offset="0.8" stop-color="#460b5e"/><stop offset="0.85" stop-color="#460b5e"/><stop offset="0.9" stop-color="#460b5e"/><stop offset="0.95" stop-color="#460b5e"/><stop offset="1" stop-color="#460b5e"/></linearGradient>
<linearGradient id="d22"><stop offset="0" stop-color="#3b518b"/><stop offset="0.05" stop-color="#3c508b"/><stop offset="0.1" stop-color="#3d4e8a"/><stop offset="0.15" stop-color="#3e4c8a"/><stop offset="0.2" stop-color="#3f4788"/><stop offset="0.25" stop-color="#424186"/><stop offset="0.3" stop-color="#443a83"/><stop offset="0.35" stop-color="#46327e"/><stop offset="0.4" stop-color="#482878"/><stop offset="0.45" stop-color="#481f70"/><stop offset="0.5" stop-color="#48186a"/><stop offset="0.55" stop-color="#471365"/><stop offset="0.6" stop-color="#470e61"/><stop offset="0.65" stop-color="#470e61"/><stop offset="0.7" stop-color="#470d60"/><stop offset="0.75" stop-color="#470d60"/><stop offset="0.8" stop-color="#470d60"/><stop offset="0.85" stop-color="#470d60"/><stop offset="0.9" stop-color="#470d60"/><stop offset="0.95" stop-color="#470d60"/><stop offset="1" stop-color="#470d60"/></linearGradient>
<linearGradient id="d23"><stop offset="0" stop-color="#3b528b"/><stop offset="0.05" stop-color="#3b518b"/><stop offset="0.1" stop-color="#3c508b"/><stop offset="0.15" stop-color="#3d4d8a"/><stop offset="0.2" stop-color="#3e4989"/><stop offset="0.25" stop-color="#414487"/><stop offset="0.3" stop-color="#433e85"/><stop offset="0.35" stop-color="#453581"/><stop offset="0.4" stop-color="#472c7a"/><stop offset="0.45" stop-color="#482374"/><stop offset="0.5" stop-color="#481c6e"/><stop offset="0.55" stop-color="#481668"/><stop offset="0.6" stop-color="#471164"/><stop offset="0.65" stop-color="#471063"/><stop offset="0.7" stop-color="#470e61"/><stop offset="0.75" stop-color="#470e61"/><stop offset="0.8" stop-color="#470d60"/><stop offset="0.85" stop-color="#470d60"/><stop offset="0.9" stop-color="#470d60"/><stop offset="0.95" stop-color="#470d60"/><stop offset="1" stop-color="#470d60"/></linearGradient>
<linearGradient id="d24"><stop offset="0" stop-color="#3a548c"/><stop offset="0.05" stop-color="#3a538b"/><stop offset="0.1" stop-color="#3b518b"/><stop offset="0.15" stop-color="#3c4f8a"/><stop offset="0.2" stop-color="#3e4c8a"/><stop offset="0.25" stop-color="#404688"/><stop offset="0.3" stop-color="#424086"/><stop offset="0.35" stop-color="#443983"/><stop offset="0.4" stop-color="#46307e"/><stop offset="0.45" stop-color="#482878"/><stop offset="0.5" stop-color="#482071"/><stop offset="0.55" stop-color="#481a6c"/><stop offset="0.6" stop-color="#481467"/><stop offset="0.65" stop-color="#471365"/><stop offset="0.7" stop-color="#471063"/><stop offset="0.75" stop-color="#471063"/><stop offset="0.8" stop-color="#470e61"/><stop offset="0.85" stop-color="#470d60"/><stop offset="0.9" stop-color="#470d60"/><stop offset="0.95" stop-color="#470d60"/><stop offset="1" stop-color="#470d60"/></linearGradient>
<linearGradient id="d25"><stop offset="0" stop-color="#39568c"/><stop offset="0.05" stop-color="#39558c"/><stop offset="0.1" stop-color="#3a538b"/><stop offset="0.15" stop-color="#3b518b"/><stop offset="0.2" stop-color="#3d4e8a"/><stop offset="0.25" stop-color="#3e4989"/><stop offset="0.3" stop-color="#414487"/><stop offset="0.35" stop-color="#433e85"/><stop offset="0.4" stop-color="#453581"/><stop offset="0.45" stop-color="#472d7b"/><stop offset="0.5" stop-color="#482576"/><stop offset="0.55" stop-color="#481d6f"/><stop offset="0.6" stop-color="#48186a"/><stop offset="0.65" stop-color="#481668"/><stop offset="0.7" stop-color="#471365"/><stop offset="0.75" stop-color="#471164"/><stop offset="0.8" stop-color="#471063"/><stop offset="0.85" stop-color="#470e61"/><stop offset="0.9" stop-color="#470e61"/><stop offset="0.95" stop-color="#470e61"/><stop offset="1" stop-color="#470e61"/></linearGradient>
<linearGradient id="d26"><stop offset="0" stop-color="#38598c"/><stop offset="0.05" stop-color="#38588c"/><stop offset="0.1" stop-color="#39558c"/><stop offset="0.15" stop-color="#3a538b"/><stop offset="0.2" stop-color="#3c508b"/><stop offset="0.25" stop-color="#3d4d8a"/><stop offset="0.3" stop-color="#3f4788"/><stop offset="0.35" stop-color="#424186"/><stop offset="0.4" stop-color="#443983"/><stop offset="0.45" stop-color="#46327e"/><stop offset="0.5" stop-color="#472a7a"/><stop offset="0.55" stop-color="#482173"/><stop offset="0.6" stop-color="#481c6e"/><stop offset="0.65" stop-color="#48186a"/><stop offset="0.7" stop-color="#481467"/><stop offset="0.75" stop-color="#471365"/><stop offset="0.8" stop-color="#471164"/><stop offset="0.85" stop-color="#471063"/><stop offset="0.9" stop-color="#470e61"/><stop offset="0.95" stop-color="#470e61"/><stop offset="1" stop-color="#470e61"/></linearGradient>
<linearGradient id="d27"><stop offset="0" stop-color="#375b8d"/><stop offset="0.05" stop-color="#375a8c"/><stop offset="0.1" stop-color="#38588c"/><stop offset="0.15" stop-color="#39558c"/><stop offset="0.2" stop-color="#3a538b"/><stop offset="0.25" stop-color="#3c4f8a"/><stop offset="0.3" stop-color="#3e4a89"/><stop offset="0.35" stop-color="#404588"/><stop offset="0.4" stop-color="#433e85"/><stop offset="0.45" stop-color="#453781"/><stop offset="0.5" stop-color="#472e7c"/><stop offset="0.55" stop-color="#482677"/><stop offset="0.6" stop-color="#482071"/><stop offset="0.65" stop-color="#481b6d"/><stop offset="0.7" stop-color="#481769"/><stop offset="0.75" stop-color="#481467"/><stop offset="0.8" stop-color="#471365"/><stop offset="0.85" stop-color="#471164"/><stop offset="0.9" stop-color="#471063"/><stop offset="0.95" stop-color="#471063"/><stop offset="1" stop-color="#471063"/></linearGradient>
<linearGradient id="d28"><stop offset="0" stop-color="#355e8d"/><stop offset="0.05" stop-color="#365d8d"/><stop offset="0.1" stop-color="#375b8d"/><stop offset="0.15" stop-color="#38598c"/><stop offset="0.2" stop-color="#39568c"/><stop offset="0.25" stop-color="#3a538b"/><stop offset="0.3" stop-color="#3c4f8a"/><stop offset="0.35" stop-color="#3e4989"/><stop offset="0.4" stop-color="#414287"/><stop offset="0.45" stop-color="#443b84"/><stop offset="0.5" stop-color="#463480"/><stop offset="0.55" stop-color="#472c7a"/><stop offset="0.6" stop-color="#482576"/><stop offset="0.65" stop-color="#481f70"/><stop offset="0.7" stop-color="#481b6d"/><stop offset="0.75" stop-color="#48186a"/><stop offset="0.8" stop-color="#481668"/><stop offset="0.85" stop-color="#471365"/><stop offset="0.9" stop-color="#471365"/><stop offset="0.95" stop-color="#471164"/><stop offset="1" stop-color="#471164"/></linearGradient>
<linearGradient id="d29"><stop offset="0" stop-color="#34618d"/><stop offset="0.05" stop-color="#34608d"/><stop offset="0.1" stop-color="#355f8d"/><stop offset="0.15" stop-color="#365d8d"/><stop offset="0.2" stop-color="#375b8d"/><stop offset="0.25" stop-color="#39568c"/><stop offset="0.3" stop-color="#3a538b"/><stop offset="0.35" stop-color="#3d4e8a"/><stop offset="0.4" stop-color="#3f4889"/><stop offset="0.45" stop-color="#424186"/><stop offset="0.5" stop-color="#443a83"/><stop offset="0.55" stop-color="#46327e"/><stop offset="0.6" stop-color="#472c7a"/><stop offset="0.65" stop-color="#482576"/><stop offset="0.7" stop-color="#482071"/><stop offset="0.75" stop-color="#481c6e"/><stop offset="0.8" stop-color="#481a6c"/><stop offset="0.85" stop-color="#481769"/><stop offset="0.9" stop-color="#481668"/><stop offset="0.95" stop-color="#481467"/><stop offset="1" stop-color="#481467"/></linearGradient>
<linearGradient id="d30"><stop offset="0" stop-color="#32658e"/><stop offset="0.05" stop-color="#32648e"/><stop offset="0.1" stop-color="#33628d"/><stop offset="0.15" stop-color="#34618d"/><stop offset="0.2" stop-color="#355f8d"/><stop offset="0.25" stop-color="#365c8d"/><stop offset="0.3" stop-color="#38588c"/><stop offset="0.35" stop-color="#3a538b"/><stop offset="0.4" stop-color="#3d4d8a"/><stop offset="0.45" stop-color="#3f4788"/><stop offset="0.5" stop-color="#424086"/><stop offset="0.55" stop-color="#443983"/><stop offset="0.6" stop-color="#46327e"/><stop offset="0.65" stop-color="#472c7a"/><stop offset="0.7" stop-color="#482677"/><stop offset="0.75" stop-color="#482173"/><stop offset="0.8" stop-color="#481d6f"/><stop offset="0.85" stop-color="#481b6d"/><stop offset="0.9" stop-color="#481a6c"/><stop offset="0.95" stop-color="#48186a"/><stop offset="1" stop-color="#481769"/></linearGradient>
<linearGradient id="d31"><stop offset="0" stop-color="#31688e"/><stop offset="0.05" stop-color="#31678e"/><stop offset="0.1" stop-color="#31668e"/><stop offset="0.15" stop-color="#32658e"/><stop offset="0.2" stop-color="#33638d"/><stop offset="0.25" stop-color="#34608d"/><stop offset="0.3" stop-color="#365c8d"/><stop offset="0.35" stop-color="#38588c"/><stop offset="0.4" stop-color="#3b528b"/><stop offset="0.45" stop-color="#3d4d8a"/><stop offset="0.5" stop-color="#404688"/><stop offset="0.55" stop-color="#424086"/><stop offset="0.6" stop-color="#443983"/><stop offset="0.65" stop-color="#46337f"/><stop offset="0.7" stop-color="#472d7b"/><stop offset="0.75" stop-color="#482878"/><stop offset="0.8" stop-color="#482374"/><stop offset="0.85" stop-color="#482071"/><stop offset="0.9" stop-color="#481d6f"/><stop offset="0.95" stop-color="#481c6e"/><stop offset="1" stop-color="#481b6d"/></linearGradient>
<linearGradient id="d32"><stop offset="0" stop-color="#2f6b8e"/><stop offset="0.05" stop-color="#306a8e"/><stop offset="0.1" stop-color="#30698e"/><stop offset="0.15" stop-color="#31688e"/><stop offset="0.2" stop-color="#31668e"/><stop offset="0.25" stop-color="#33638d"/><stop offset="0.3" stop-color="#34608d"/><stop offset="0.35" stop-color="#365c8d"/><stop offset="0.4" stop-color="#38588c"/><stop offset="0.45" stop-color="#3b528b"/><stop offset="0.5" stop-color="#3d4d8a"/><stop offset="0.55" stop-color="#404688"/><stop offset="0.6" stop-color="#424086"/><stop offset="0.65" stop-color="#443a83"/><stop offset="0.7" stop-color="#46337f"/><stop offset="0.75" stop-color="#472e7c"/><stop offset="0.8" stop-color="#482979"/><stop offset="0.85" stop-color="#482576"/><stop offset="0.9" stop-color="#482173"/><stop offset="0.95" stop-color="#482071"/><stop offset="1" stop-color="#481f70"/></linearGradient>
<linearGradient id="d33"><stop offset="0" stop-color="#2e6d8e"/><stop offset="0.05" stop-color="#2e6d8e"/><stop offset="0.1" stop-color="#2f6c8e"/><stop offset="0.15" stop-color="#2f6b8e"/><stop offset="0.2" stop-color="#30698e"/><stop offset="0.25" stop-color="#31678e"/><stop offset="0.3" stop-color="#32648e"/><stop offset="0.35" stop-color="#34608d"/><stop offset="0.4" stop-color="#365c8d"/><stop offset="0.45" stop-color="#39568c"/><stop offset="0.5" stop-color="#3b528b"/><stop offset="0.55" stop-color="#3d4d8a"/><stop offset="0.6" stop-color="#404688"/><stop offset="0.65" stop-color="#424086"/><stop offset="0.7" stop-color="#443a83"/><stop offset="0.75" stop-color="#463480"/><stop offset="0.8" stop-color="#472f7d"/><stop offset="0.85" stop-color="#472a7a"/><stop offset="0.9" stop-color="#482677"/><stop offset="0.95" stop-color="#482475"/><stop offset="1" stop-color="#482374"/></linearGradient>
<linearGradient id="d34"><stop offset="0" stop-color="#2e6f8e"/><stop offset="0.05" stop-color="#2e6f8e"/><stop offset="0.1" stop-color="#2e6e8e"/><stop offset="0.15" stop-color="#2e6d8e"/><stop offset="0.2" stop-color="#2f6c8e"/><stop offset="0.25" stop-color="#30698e"/><stop offset="0.3" stop-color="#31678e"/><stop offset="0.35" stop-color="#32648e"/><stop offset="0.4" stop-color="#34608d"/><stop offset="0.45" stop-color="#365c8d"/><stop offset="0.5" stop-color="#38588c"/><stop offset="0.55" stop-color="#3b528b"/><stop offset="0.6" stop-color="#3d4d8a"/><stop offset="0.65" stop-color="#3f4788"/><stop offset="0.7" stop-color="#424186"/><stop offset="0.75" stop-color="#443b84"/><stop offset="0.8" stop-color="#453581"/><stop offset="0.85" stop-color="#46307e"/><stop offset="0.9" stop-color="#472d7b"/><stop offset="0.95" stop-color="#472a7a"/><stop offset="1" stop-color="#482878"/></linearGradient>
<linearGradient id="d35"><stop offset="0" stop-color="#2d718e"/><stop offset="0.05" stop-color="#2d718e"/><stop offset="0.1" stop-color="#2d718e"/><stop offset="0.15" stop-color="#2d708e"/><stop offset="0.2" stop-color="#2e6f8e"/><stop offset="0.25" stop-color="#2f6c8e"/><stop offset="0.3" stop-color="#306a8e"/><stop offset="0.35" stop-color="#31678e"/><stop offset="0.4" stop-color="#32648e"/><stop offset="0.45" stop-color="#34608d"/><stop offset="0.5" stop-color="#365c8d"/><stop offset="0.55" stop-color="#38588c"/><stop offset="0.6" stop-color="#3a538b"/><stop offset="0.65" stop-color="#3d4e8a"/><stop offset="0.7" stop-color="#3f4889"/><stop offset="0.75" stop-color="#414287"/><stop offset="0.8" stop-color="#433e85"/><stop offset="0.85" stop-color="#443983"/><stop offset="0.9" stop-color="#463480"/><stop offset="0.95" stop-color="#46327e"/><stop offset="1" stop-color="#472f7d"/></linearGradient>
<linearGradient id="d36"><stop offset="0" stop-color="#2c728e"/><stop offset="0.05" stop-color="#2c728e"/><stop offset="0.1" stop-color="#2c728e"/><stop offset="0.15" stop-color="#2c718e"/><stop offset="0.2" stop-color="#2d718e"/><stop offset="0.25" stop-color="#2e6f8e"/><stop offset="0.3" stop-color="#2e6d8e"/><stop offset="0.35" stop-color="#2f6b8e"/><stop offset="0.4" stop-color="#31688e"/><stop offset="0.45" stop-color="#32658e"/><stop offset="0.5" stop-color="#34618d"/><stop offset="0.55" stop-color="#355e8d"/><stop offset="0.6" stop-color="#38598c"/><stop offset="0.65" stop-color="#3a548c"/><stop offset="0.7" stop-color="#3c508b"/><stop offset="0.75" stop-color="#3e4a89"/><stop offset="0.8" stop-color="#404688"/><stop offset="0.85" stop-color="#424186"/><stop offset="0.9" stop-color="#433d84"/><stop offset="0.95" stop-color="#443983"/><stop offset="1" stop-color="#453781"/></linearGradient>
<linearGradient id="d37"><stop offset="0" stop-color="#2b748e"/><stop offset="0.05" stop-color="#2b748e"/><stop offset="0.1" stop-color="#2b748e"/><stop offset="0.15" stop-color="#2c738e"/><stop offset="0.2" stop-color="#2c728e"/><stop offset="0.25" stop-color="#2c718e"/><stop offset="0.3" stop-color="#2d708e"/><stop offset="0.35" stop-color="#2e6e8e"/><stop offset="0.4" stop-color="#2f6c8e"/><stop offset="0.45" stop-color="#30698e"/><stop offset="0.5" stop-color="#31668e"/><stop offset="0.55" stop-color="#33638d"/><stop offset="0.6" stop-color="#355f8d"/><stop offset="0.65" stop-color="#365c8d"/><stop offset="0.7" stop-color="#38588c"/><stop offset="0.75" stop-color="#3a538b"/><stop offset="0.8" stop-color="#3c4f8a"/><stop offset="0.85" stop-color="#3e4a89"/><stop offset="0.9" stop-color="#404688"/><stop offset="0.95" stop-color="#414287"/><stop offset="1" stop-color="#433e85"/></linearGradient>
<linearGradient id="d38"><stop offset="0" stop-color="#2a768e"/><stop offset="0.05" stop-color="#2a768e"/><stop offset="0.1" stop-color="#2a768e"/><stop offset="0.15" stop-color="#2b758e"/><stop offset="0.2" stop-color="#2b758e"/><stop offset="0.25" stop-color="#2c738e"/><stop offset="0.3" stop-color="#2c728e"/><stop offset="0.35" stop-color="#2d718e"/><stop offset="0.4" stop-color="#2e6f8e"/><stop offset="0.45" stop-color="#2e6d8e"/><stop offset="0.5" stop-color="#2f6b8e"/><stop offset="0.55" stop-color="#31688e"/><stop offset="0.6" stop-color="#32658e"/><stop offset="0.65" stop-color="#33628d"/><stop offset="0.7" stop-color="#355f8d"/><stop offset="0.75" stop-color="#365c8d"/><stop offset="0.8" stop-color="#38598c"/><stop offset="0.85" stop-color="#3a548c"/><stop offset="0.9" stop-color="#3c508b"/><stop offset="0.95" stop-color="#3e4c8a"/><stop offset="1" stop-color="#3f4788"/></linearGradient>
<linearGradient id="d39"><stop offset="0" stop-color="#2a778e"/><stop offset="0.05" stop-color="#2a778e"/><stop offset="0.1" stop-color="#2a778e"/><stop offset="0.15" stop-color="#2a778e"/><stop offset="0.2" stop-color="#2a778e"/><stop offset="0.25" stop-color="#2b758e"/><stop offset="0.3" stop-color="#2b748e"/><stop offset="0.35" stop-color="#2c738e"/><stop offset="0.4" stop-color="#2c728e"/><stop offset="0.45" stop-color="#2c718e"/><stop offset="0.5" stop-color="#2d708e"/><stop offset="0.55" stop-color="#2e6e8e"/><stop offset="0.6" stop-color="#2f6c8e"/><stop offset="0.65" stop-color="#30698e"/><stop offset="0.7" stop-color="#31678e"/><stop offset="0.75" stop-color="#32658e"/><stop offset="0.8" stop-color="#33628d"/><stop offset="0.85" stop-color="#355e8d"/><stop offset="0.9" stop-color="#375a8c"/><stop offset="0.95" stop-color="#39558c"/><stop offset="1" stop-color="#3c508b"/></linearGradient>
<linearGradient id="cb" x1="0" y1="0" x2="0" y2="1"><stop offset="0" stop-color="#fde725"/><stop offset="0.0312" stop-color="#ece51b"/><stop offset="0.0625" stop-color="#d8e219"/><stop offset="0.0938" stop-color="#c2df23"/><stop offset="0.125" stop-color="#addc30"/><stop offset="0.1562" stop-color="#98d83e"/><stop offset="0.1875" stop-color="#84d44b"/><stop offset="0.2188" stop-color="#70cf57"/><stop offset="0.25" stop-color="#5ec962"/><stop offset="0.2812" stop-color="#4ec36b"/><stop offset="0.3125" stop-color="#3fbc73"/><stop offset="0.3438" stop-color="#32b67a"/><stop offset="0.375" stop-color="#28ae80"/><stop offset="0.4062" stop-color="#22a785"/><stop offset="0.4375" stop-color="#1fa088"/><stop offset="0.4688" stop-color="#1f988b"/><stop offset="0.5" stop-color="#21918c"/><stop offset="0.5312" stop-color="#23898e"/><stop offset="0.5625" stop-color="#26828e"/><stop offset="0.5938" stop-color="#297a8e"/><stop offset="0.625" stop-color="#2c728e"/><stop offset="0.6562" stop-color="#2f6b8e"/><stop offset="0.6875" stop-color="#33638d"/><stop offset="0.7188" stop-color="#375b8d"/><stop offset="0.75" stop-color="#3b528b"/><stop offset="0.7812" stop-color="#3e4989"/><stop offset="0.8125" stop-color="#424086"/><stop offset="0.8438" stop-color="#453781"/><stop offset="0.875" stop-color="#472d7b"/><stop offset="0.9062" stop-color="#482374"/><stop offset="0.9375" stop-color="#48186a"/><stop offset="0.9688" stop-color="#470d60"/><stop offset="1" stop-color="#440154"/></linearGradient>
</defs>
<rect x="146.2" y="18.1" width="264.3" height="264.8" fill="#3a548c"/>
<rect x="146.2" y="18.1" width="264.3" height="8.12" fill="url(#a0)"/>
<rect x="146.2" y="24.72" width="264.3" height="8.12" fill="url(#a1)"/>
<rect x="146.2" y="31.34" width="264.3" height="8.12" fill="url(#a2)"/>
<rect x="146.2" y="37.96" width="264.3" height="8.12" fill="url(#a3)"/>
<rect x="146.2" y="44.58" width="264.3" height="8.12" fill="url(#a4)"/>
<rect x="146.2" y="51.2" width="264.3" height="8.12" fill="url(#a5)"/>
<rect x="146.2" y="57.82" width="264.3" height="8.12" fill="url(#a6)"/>
<rect x="146.2" y="64.44" width="264.3" height="8.12" fill="url(#a7)"/>
<rect x="146.2" y="71.06" width="264.3" height="8.12" fill="url(#a8)"/>
<rect x="146.2" y="77.68" width="264.3" height="8.12" fill="url(#a9)"/>
<rect x="146.2" y="84.3" width="264.3" height="8.12" fill="url(#a10)"/>
<rect x="146.2" y="90.92" width="264.3" height="8.12" fill="url(#a11)"/>
<rect x="146.2" y="97.54" width="264.3" height="8.12" fill="url(#a12)"/>
<rect x="146.2" y="104.16" width="264.3" height="8.12" fill="url(#a13)"/>
<rect x="146.2" y="110.78" width="264.3" height="8.12" fill="url(#a14)"/>
<rect x="146.2" y="117.4" width="264.3" height="8.12" fill="url(#a15)"/>
<rect x="146.2" y="124.02" width="264.3" height="8.12" fill="url(#a16)"/>
<rect x="146.2" y="130.64" width="264.3" height="8.12" fill="url(#a17)"/>
<rect x="146.2" y="137.26" width="264.3" height="8.12" fill="url(#a18)"/>
<rect x="146.2" y="143.88" width="264.3" height="8.12" fill="url(#a19)"/>
<rect x="146.2" y="150.5" width="264.3" height="8.12" fill="url(#a20)"/>
<rect x="146.2" y="157.12" width="264.3" height="8.12" fill="url(#a21)"/>
<rect x="146.2" y="163.74" width="264.3" height="8.12" fill="url(#a22)"/>
<rect x="146.2" y="170.36" width="264.3" height="8.12" fill="url(#a23)"/>
<rect x="146.2" y="176.98" width="264.3" height="8.12" fill="url(#a24)"/>
<rect x="146.2" y="183.6" width="264.3" height="8.12" fill="url(#a25)"/>
<rect x="146.2" y="190.22" width="264.3" height="8.12" fill="url(#a26)"/>
<rect x="146.2" y="196.84" width="264.3" height="8.12" fill="url(#a27)"/>
<rect x="146.2" y="203.46" width="264.3" height="8.12" fill="url(#a28)"/>
<rect x="146.2" y="210.08" width="264.3" height="8.12" fill="url(#a29)"/>
<rect x="146.2" y="216.7" width="264.3" height="8.12" fill="url(#a30)"/>
<rect x="146.2" y="223.32" width="264.3" height="8.12" fill="url(#a31)"/>
<rect x="146.2" y="229.94" width="264.3" height="8.12" fill="url(#a32)"/>
<rect x="146.2" y="236.56" width="264.3" height="8.12" fill="url(#a33)"/>
<rect x="146.2" y="243.18" width="264.3" height="8.12" fill="url(#a34)"/>
<rect x="146.2" y="249.8" width="264.3" height="8.12" fill="url(#a35)"/>
<rect x="146.2" y="256.42" width="264.3" height="8.12" fill="url(#a36)"/>
<rect x="146.2" y="263.04" width="264.3" height="8.12" fill="url(#a37)"/>
<rect x="146.2" y="269.66" width="264.3" height="8.12" fill="url(#a38)"/>
<rect x="146.2" y="276.28" width="264.3" height="6.62" fill="url(#a39)"/>
<rect x="146.2" y="18.1" width="264.3" height="264.8" fill="none" stroke="#111" stroke-width="1.1"/>
<line x1="172.63" y1="282.9" x2="172.63" y2="288.9" stroke="#111" stroke-width="1.1"/>
<text x="142.89" y="309.4" font-family="'DejaVu Sans','Liberation Sans',sans-serif" font-size="24" fill="#111">−0.4</text>
<line x1="225.49" y1="282.9" x2="225.49" y2="288.9" stroke="#111" stroke-width="1.1"/>
<text x="196.28" y="309.4" font-family="'DejaVu Sans','Liberation Sans',sans-serif" font-size="24" fill="#111">−0.2</text>
<line x1="278.35" y1="282.9" x2="278.35" y2="288.9" stroke="#111" stroke-width="1.1"/>
<text x="259.27" y="309.4" font-family="'DejaVu Sans','Liberation Sans',sans-serif" font-size="24" fill="#111">0.0</text>
<line x1="331.21" y1="282.9" x2="331.21" y2="288.9" stroke="#111" stroke-width="1.1"/>
<text x="312.54" y="309.4" font-family="'DejaVu Sans','Liberation Sans',sans-serif" font-size="24" fill="#111">0.2</text>
<line x1="384.07" y1="282.9" x2="384.07" y2="288.9" stroke="#111" stroke-width="1.1"/>
<text x="364.87" y="309.4" font-family="'DejaVu Sans','Liberation Sans',sans-serif" font-size="24" fill="#111">0.4</text>
<line x1="142.9" y1="18.1" x2="146.2" y2="18.1" stroke="#111" stroke-width="1.1"/>
<text x="83.36" y="27.5" font-family="'DejaVu Sans','Liberation Sans',sans-serif" font-size="24" fill="#111">0.20</text>
<line x1="142.9" y1="51.2" x2="146.2" y2="51.2" stroke="#111" stroke-width="1.1"/>
<text x="83.86" y="60.6" font-family="'DejaVu Sans','Liberation Sans',sans-serif" font-size="24" fill="#111">0.15</text>
<line x1="142.9" y1="84.3" x2="146.2" y2="84.3" stroke="#111" stroke-width="1.1"/>
<text x="83.36" y="93.7" font-family="'DejaVu Sans','Liberation Sans',sans-serif" font-size="24" fill="#111">0.10</text>
<line x1="142.9" y1="117.4" x2="146.2" y2="117.4" stroke="#111" stroke-width="1.1"/>
<text x="83.86" y="126.8" font-family="'DejaVu Sans','Liberation Sans',sans-serif" font-size="24" fill="#111">0.05</text>
<line x1="142.9" y1="150.5" x2="146.2" y2="150.5" stroke="#111" stroke-width="1.1"/>
<text x="83.36" y="159.9" font-family="'DejaVu Sans','Liberation Sans',sans-serif" font-size="24" fill="#111">0.00</text>
<line x1="142.9" y1="183.6" x2="146.2" y2="183.6" stroke="#111" stroke-width="1.1"/>
<text x="63.75" y="193" font-family="'DejaVu Sans','Liberation Sans',sans-serif" font-size="24" fill="#111">−0.05</text>
<line x1="142.9" y1="216.7" x2="146.2" y2="216.7" stroke="#111" stroke-width="1.1"/>
<text x="63.25" y="226.1" font-family="'DejaVu Sans','Liberation Sans',sans-serif" font-size="24" fill="#111">−0.10</text>
<line x1="142.9" y1="249.8" x2="146.2" y2="249.8" stroke="#111" stroke-width="1.1"/>
<text x="63.75" y="259.2" font-family="'DejaVu Sans','Liberation Sans',sans-serif" font-size="24" fill="#111">−0.15</text>
<line x1="142.9" y1="282.9" x2="146.2" y2="282.9" stroke="#111" stroke-width="1.1"/>
<text x="63.25" y="292.3" font-family="'DejaVu Sans','Liberation Sans',sans-serif" font-size="24" fill="#111">−0.20</text>
<rect x="431.2" y="18.1" width="13.6" height="264.8" fill="url(#cb)" stroke="#111" stroke-width="1"/>
<line x1="444.8" y1="282.9" x2="449.9" y2="282.9" stroke="#111" stroke-width="1.1"/>
<text x="452.82" y="292.4" font-family="'DejaVu Sans','Liberation Sans',sans-serif" font-size="24" fill="#111">0.0</text>
<line x1="444.8" y1="229.94" x2="449.9" y2="229.94" stroke="#111" stroke-width="1.1"/>
<text x="452.82" y="239.44" font-family="'DejaVu Sans','Liberation Sans',sans-serif" font-size="24" fill="#111">0.2</text>
<line x1="444.8" y1="176.98" x2="449.9" y2="176.98" stroke="#111" stroke-width="1.1"/>
<text x="452.82" y="186.48" font-family="'DejaVu Sans','Liberation Sans',sans-serif" font-size="24" fill="#111">0.4</text>
<line x1="444.8" y1="124.02" x2="449.9" y2="124.02" stroke="#111" stroke-width="1.1"/>
<text x="452.82" y="133.52" font-family="'DejaVu Sans','Liberation Sans',sans-serif" font-size="24" fill="#111">0.6</text>
<line x1="444.8" y1="71.06" x2="449.9" y2="71.06" stroke="#111" stroke-width="1.1"/>
<text x="452.82" y="80.56" font-family="'DejaVu Sans','Liberation Sans',sans-serif" font-size="24" fill="#111">0.8</text>
<line x1="444.8" y1="18.1" x2="449.9" y2="18.1" stroke="#111" stroke-width="1.1"/>
<text x="452.76" y="27.6" font-family="'DejaVu Sans','Liberation Sans',sans-serif" font-size="24" fill="#111">1.0</text>
<text transform="translate(264.46 355.1) scale(1.439 1)" font-family="'DejaVu Serif','Liberation Serif',serif" font-size="41.8" font-style="italic" fill="#000">J</text><text x="283.76" y="364.9" font-family="'DejaVu Sans','Liberation Sans',sans-serif" font-size="34" fill="#000">3</text>
<g transform="translate(52.3 175.4) rotate(-90)"><text transform="translate(10.11 -8.7) scale(1.439 1)" font-family="'DejaVu Serif','Liberation Serif',serif" font-size="41.8" font-style="italic" fill="#000">J</text><text x="29.51" y="1.1" font-family="'DejaVu Sans','Liberation Sans',sans-serif" font-size="34" fill="#000">2</text></g>
<rect x="670.8" y="18.1" width="264.3" height="264.8" fill="#481d6f"/>
<rect x="670.8" y="18.1" width="264.3" height="8.12" fill="url(#b0)"/>
<rect x="670.8" y="24.72" width="264.3" height="8.12" fill="url(#b1)"/>
<rect x="670.8" y="31.34" width="264.3" height="8.12" fill="url(#b2)"/>
<rect x="670.8" y="37.96" width="264.3" height="8.12" fill="url(#b3)"/>
<rect x="670.8" y="44.58" width="264.3" height="8.12" fill="url(#b4)"/>
<rect x="670.8" y="51.2" width="264.3" height="8.12" fill="url(#b5)"/>
<rect x="670.8" y="57.82" width="264.3" height="8.12" fill="url(#b6)"/>
<rect x="670.8" y="64.44" width="264.3" height="8.12" fill="url(#b7)"/>
<rect x="670.8" y="71.06" width="264.3" height="8.12" fill="url(#b8)"/>
<rect x="670.8" y="77.68" width="264.3" height="8.12" fill="url(#b9)"/>
<rect x="670.8" y="84.3" width="264.3" height="8.12" fill="url(#b10)"/>
<rect x="670.8" y="90.92" width="264.3" height="8.12" fill="url(#b11)"/>
<rect x="670.8" y="97.54" width="264.3" height="8.12" fill="url(#b12)"/>
<rect x="670.8" y="104.16" width="264.3" height="8.12" fill="url(#b13)"/>
<rect x="670.8" y="110.78" width="264.3" height="8.12" fill="url(#b14)"/>
<rect x="670.8" y="117.4" width="264.3" height="8.12" fill="url(#b15)"/>
<rect x="670.8" y="124.02" width="264.3" height="8.12" fill="url(#b16)"/>
<rect x="670.8" y="130.64" width="264.3" height="8.12" fill="url(#b17)"/>
<rect x="670.8" y="137.26" width="264.3" height="8.12" fill="url(#b18)"/>
<rect x="670.8" y="143.88" width="264.3" height="8.12" fill="url(#b19)"/>
<rect x="670.8" y="150.5" width="264.3" height="8.12" fill="url(#b20)"/>
<rect x="670.8" y="157.12" width="264.3" height="8.12" fill="url(#b21)"/>
<rect x="670.8" y="163.74" width="264.3" height="8.12" fill="url(#b22)"/>
<rect x="670.8" y="170.36" width="264.3" height="8.12" fill="url(#b23)"/>
<rect x="670.8" y="176.98" width="264.3" height="8.12" fill="url(#b24)"/>
<rect x="670.8" y="183.6" width="264.3" height="8.12" fill="url(#b25)"/>
<rect x="670.8" y="190.22" width="264.3" height="8.12" fill="url(#b26)"/>
<rect x="670.8" y="196.84" width="264.3" height="8.12" fill="url(#b27)"/>
<rect x="670.8" y="203.46" width="264.3" height="8.12" fill="url(#b28)"/>
<rect x="670.8" y="210.08" width="264.3" height="8.12" fill="url(#b29)"/>
<rect x="670.8" y="216.7" width="264.3" height="8.12" fill="url(#b30)"/>
<rect x="670.8" y="223.32" width="264.3" height="8.12" fill="url(#b31)"/>
<rect x="670.8" y="229.94" width="264.3" height="8.12" fill="url(#b32)"/>
<rect x="670.8" y="236.56" width="264.3" height="8.12" fill="url(#b33)"/>
<rect x="670.8" y="243.18" width="264.3" height="8.12" fill="url(#b34)"/>
<rect x="670.8" y="249.8" width="264.3" height="8.12" fill="url(#b35)"/>
<rect x="670.8" y="256.42" width="264.3" height="8.12" fill="url(#b36)"/>
<rect x="670.8" y="263.04" width="264.3" height="8.12" fill="url(#b37)"/>
<rect x="670.8" y="269.66" width="264.3" height="8.12" fill="url(#b38)"/>
<rect x="670.8" y="276.28" width="264.3" height="6.62" fill="url(#b39)"/>
<rect x="670.8" y="18.1" width="264.3" height="264.8" fill="none" stroke="#111" stroke-width="1.1"/>
<line x1="670.8" y1="282.9" x2="670.8" y2="288.9" stroke="#111" stroke-width="1.1"/>
<text x="641.19" y="309.4" font-family="'DejaVu Sans','Liberation Sans',sans-serif" font-size="24" fill="#111">−1.0</text>
<line x1="736.88" y1="282.9" x2="736.88" y2="288.9" stroke="#111" stroke-width="1.1"/>
<text x="707.51" y="309.4" font-family="'DejaVu Sans','Liberation Sans',sans-serif" font-size="24" fill="#111">−0.5</text>
<line x1="802.95" y1="282.9" x2="802.95" y2="288.9" stroke="#111" stroke-width="1.1"/>
<text x="783.87" y="309.4" font-family="'DejaVu Sans','Liberation Sans',sans-serif" font-size="24" fill="#111">0.0</text>
<line x1="869.02" y1="282.9" x2="869.02" y2="288.9" stroke="#111" stroke-width="1.1"/>
<text x="850.2" y="309.4" font-family="'DejaVu Sans','Liberation Sans',sans-serif" font-size="24" fill="#111">0.5</text>
<line x1="935.1" y1="282.9" x2="935.1" y2="288.9" stroke="#111" stroke-width="1.1"/>
<text x="915.49" y="309.4" font-family="'DejaVu Sans','Liberation Sans',sans-serif" font-size="24" fill="#111">1.0</text>
<line x1="667.5" y1="18.1" x2="670.8" y2="18.1" stroke="#111" stroke-width="1.1"/>
<text x="607.96" y="27.5" font-family="'DejaVu Sans','Liberation Sans',sans-serif" font-size="24" fill="#111">0.20</text>
<line x1="667.5" y1="51.2" x2="670.8" y2="51.2" stroke="#111" stroke-width="1.1"/>
<text x="608.46" y="60.6" font-family="'DejaVu Sans','Liberation Sans',sans-serif" font-size="24" fill="#111">0.15</text>
<line x1="667.5" y1="84.3" x2="670.8" y2="84.3" stroke="#111" stroke-width="1.1"/>
<text x="607.96" y="93.7" font-family="'DejaVu Sans','Liberation Sans',sans-serif" font-size="24" fill="#111">0.10</text>
<line x1="667.5" y1="117.4" x2="670.8" y2="117.4" stroke="#111" stroke-width="1.1"/>
<text x="608.46" y="126.8" font-family="'DejaVu Sans','Liberation Sans',sans-serif" font-size="24" fill="#111">0.05</text>
<line x1="667.5" y1="150.5" x2="670.8" y2="150.5" stroke="#111" stroke-width="1.1"/>
<text x="607.96" y="159.9" font-family="'DejaVu Sans','Liberation Sans',sans-serif" font-size="24" fill="#111">0.00</text>
<line x1="667.5" y1="183.6" x2="670.8" y2="183.6" stroke="#111" stroke-width="1.1"/>
<text x="588.35" y="193" font-family="'DejaVu Sans','Liberation Sans',sans-serif" font-size="24" fill="#111">−0.05</text>
<line x1="667.5" y1="216.7" x2="670.8" y2="216.7" stroke="#111" stroke-width="1.1"/>
<text x="587.85" y="226.1" font-family="'DejaVu Sans','Liberation Sans',sans-serif" font-size="24" fill="#111">−0.10</text>
<line x1="667.5" y1="249.8" x2="670.8" y2="249.8" stroke="#111" stroke-width="1.1"/>
<text x="588.35" y="259.2" font-family="'DejaVu Sans','Liberation Sans',sans-serif" font-size="24" fill="#111">−0.15</text>
<line x1="667.5" y1="282.9" x2="670.8" y2="282.9" stroke="#111" stroke-width="1.1"/>
<text x="587.85" y="292.3" font-family="'DejaVu Sans','Liberation Sans',sans-serif" font-size="24" fill="#111">−0.20</text>
<rect x="955.8" y="18.1" width="13.6" height="264.8" fill="url(#cb)" stroke="#111" stroke-width="1"/>
<line x1="969.4" y1="282.9" x2="974.5" y2="282.9" stroke="#111" stroke-width="1.1"/>
<text x="977.42" y="292.4" font-family="'DejaVu Sans','Liberation Sans',sans-serif" font-size="24" fill="#111">0.0</text>
<line x1="969.4" y1="229.94" x2="974.5" y2="229.94" stroke="#111" stroke-width="1.1"/>
<text x="977.42" y="239.44" font-family="'DejaVu Sans','Liberation Sans',sans-serif" font-size="24" fill="#111">0.2</text>
<line x1="969.4" y1="176.98" x2="974.5" y2="176.98" stroke="#111" stroke-width="1.1"/>
<text x="977.42" y="186.48" font-family="'DejaVu Sans','Liberation Sans',sans-serif" font-size="24" fill="#111">0.4</text>
<line x1="969.4" y1="124.02" x2="974.5" y2="124.02" stroke="#111" stroke-width="1.1"/>
<text x="977.42" y="133.52" font-family="'DejaVu Sans','Liberation Sans',sans-serif" font-size="24" fill="#111">0.6</text>
<line x1="969.4" y1="71.06" x2="974.5" y2="71.06" stroke="#111" stroke-width="1.1"/>
<text x="977.42" y="80.56" font-family="'DejaVu Sans','Liberation Sans',sans-serif" font-size="24" fill="#111">0.8</text>
<line x1="969.4" y1="18.1" x2="974.5" y2="18.1" stroke="#111" stroke-width="1.1"/>
<text x="977.36" y="27.6" font-family="'DejaVu Sans','Liberation Sans',sans-serif" font-size="24" fill="#111">1.0</text>
<text transform="translate(789.06 355.1) scale(1.439 1)" font-family="'DejaVu Serif','Liberation Serif',serif" font-size="41.8" font-style="italic" fill="#000">J</text><text x="809.29" y="364.9" font-family="'DejaVu Sans','Liberation Sans',sans-serif" font-size="34" fill="#000">4</text>
<g transform="translate(576.9 175.4) rotate(-90)"><text transform="translate(10.11 -8.7) scale(1.439 1)" font-family="'DejaVu Serif','Liberation Serif',serif" font-size="41.8" font-style="italic" fill="#000">J</text><text x="29.51" y="1.1" font-family="'DejaVu Sans','Liberation Sans',sans-serif" font-size="34" fill="#000">2</text></g>
<rect x="146.2" y="479" width="264.3" height="264.8" fill="#481c6e"/>
<rect x="146.2" y="479" width="264.3" height="8.12" fill="url(#c0)"/>
<rect x="146.2" y="485.62" width="264.3" height="8.12" fill="url(#c1)"/>
<rect x="146.2" y="492.24" width="264.3" height="8.12" fill="url(#c2)"/>
<rect x="146.2" y="498.86" width="264.3" height="8.12" fill="url(#c3)"/>
<rect x="146.2" y="505.48" width="264.3" height="8.12" fill="url(#c4)"/>
<rect x="146.2" y="512.1" width="264.3" height="8.12" fill="url(#c5)"/>
<rect x="146.2" y="518.72" width="264.3" height="8.12" fill="url(#c6)"/>
<rect x="146.2" y="525.34" width="264.3" height="8.12" fill="url(#c7)"/>
<rect x="146.2" y="531.96" width="264.3" height="8.12" fill="url(#c8)"/>
<rect x="146.2" y="538.58" width="264.3" height="8.12" fill="url(#c9)"/>
<rect x="146.2" y="545.2" width="264.3" height="8.12" fill="url(#c10)"/>
<rect x="146.2" y="551.82" width="264.3" height="8.12" fill="url(#c11)"/>
<rect x="146.2" y="558.44" width="264.3" height="8.12" fill="url(#c12)"/>
<rect x="146.2" y="565.06" width="264.3" height="8.12" fill="url(#c13)"/>
<rect x="146.2" y="571.68" width="264.3" height="8.12" fill="url(#c14)"/>
<rect x="146.2" y="578.3" width="264.3" height="8.12" fill="url(#c15)"/>
<rect x="146.2" y="584.92" width="264.3" height="8.12" fill="url(#c16)"/>
<rect x="146.2" y="591.54" width="264.3" height="8.12" fill="url(#c17)"/>
<rect x="146.2" y="598.16" width="264.3" height="8.12" fill="url(#c18)"/>
<rect x="146.2" y="604.78" width="264.3" height="8.12" fill="url(#c19)"/>
<rect x="146.2" y="611.4" width="264.3" height="8.12" fill="url(#c20)"/>
<rect x="146.2" y="618.02" width="264.3" height="8.12" fill="url(#c21)"/>
<rect x="146.2" y="624.64" width="264.3" height="8.12" fill="url(#c22)"/>
<rect x="146.2" y="631.26" width="264.3" height="8.12" fill="url(#c23)"/>
<rect x="146.2" y="637.88" width="264.3" height="8.12" fill="url(#c24)"/>
<rect x="146.2" y="644.5" width="264.3" height="8.12" fill="url(#c25)"/>
<rect x="146.2" y="651.12" width="264.3" height="8.12" fill="url(#c26)"/>
<rect x="146.2" y="657.74" width="264.3" height="8.12" fill="url(#c27)"/>
<rect x="146.2" y="664.36" width="264.3" height="8.12" fill="url(#c28)"/>
<rect x="146.2" y="670.98" width="264.3" height="8.12" fill="url(#c29)"/>
<rect x="146.2" y="677.6" width="264.3" height="8.12" fill="url(#c30)"/>
<rect x="146.2" y="684.22" width="264.3" height="8.12" fill="url(#c31)"/>
<rect x="146.2" y="690.84" width="264.3" height="8.12" fill="url(#c32)"/>
<rect x="146.2" y="697.46" width="264.3" height="8.12" fill="url(#c33)"/>
<rect x="146.2" y="704.08" width="264.3" height="8.12" fill="url(#c34)"/>
<rect x="146.2" y="710.7" width="264.3" height="8.12" fill="url(#c35)"/>
<rect x="146.2" y="717.32" width="264.3" height="8.12" fill="url(#c36)"/>
<rect x="146.2" y="723.94" width="264.3" height="8.12" fill="url(#c37)"/>
<rect x="146.2" y="730.56" width="264.3" height="8.12" fill="url(#c38)"/>
<rect x="146.2" y="737.18" width="264.3" height="6.62" fill="url(#c39)"/>
<rect x="146.2" y="479" width="264.3" height="264.8" fill="none" stroke="#111" stroke-width="1.1"/>
<line x1="172.63" y1="743.8" x2="172.63" y2="749.8" stroke="#111" stroke-width="1.1"/>
<text x="142.89" y="770.3" font-family="'DejaVu Sans','Liberation Sans',sans-serif" font-size="24" fill="#111">−0.4</text>
<line x1="225.49" y1="743.8" x2="225.49" y2="749.8" stroke="#111" stroke-width="1.1"/>
<text x="196.28" y="770.3" font-family="'DejaVu Sans','Liberation Sans',sans-serif" font-size="24" fill="#111">−0.2</text>
<line x1="278.35" y1="743.8" x2="278.35" y2="749.8" stroke="#111" stroke-width="1.1"/>
<text x="259.27" y="770.3" font-family="'DejaVu Sans','Liberation Sans',sans-serif" font-size="24" fill="#111">0.0</text>
<line x1="331.21" y1="743.8" x2="331.21" y2="749.8" stroke="#111" stroke-width="1.1"/>
<text x="312.54" y="770.3" font-family="'DejaVu Sans','Liberation Sans',sans-serif" font-size="24" fill="#111">0.2</text>
<line x1="384.07" y1="743.8" x2="384.07" y2="749.8" stroke="#111" stroke-width="1.1"/>
<text x="364.87" y="770.3" font-family="'DejaVu Sans','Liberation Sans',sans-serif" font-size="24" fill="#111">0.4</text>
<line x1="142.9" y1="479" x2="146.2" y2="479" stroke="#111" stroke-width="1.1"/>
<text x="83.36" y="488.4" font-family="'DejaVu Sans','Liberation Sans',sans-serif" font-size="24" fill="#111">1.00</text>
<line x1="142.9" y1="512.1" x2="146.2" y2="512.1" stroke="#111" stroke-width="1.1"/>
<text x="83.86" y="521.5" font-family="'DejaVu Sans','Liberation Sans',sans-serif" font-size="24" fill="#111">0.75</text>
<line x1="142.9" y1="545.2" x2="146.2" y2="545.2" stroke="#111" stroke-width="1.1"/>
<text x="83.36" y="554.6" font-family="'DejaVu Sans','Liberation Sans',sans-serif" font-size="24" fill="#111">0.50</text>
<line x1="142.9" y1="578.3" x2="146.2" y2="578.3" stroke="#111" stroke-width="1.1"/>
<text x="83.86" y="587.7" font-family="'DejaVu Sans','Liberation Sans',sans-serif" font-size="24" fill="#111">0.25</text>
<line x1="142.9" y1="611.4" x2="146.2" y2="611.4" stroke="#111" stroke-width="1.1"/>
<text x="83.36" y="620.8" font-family="'DejaVu Sans','Liberation Sans',sans-serif" font-size="24" fill="#111">0.00</text>
<line x1="142.9" y1="644.5" x2="146.2" y2="644.5" stroke="#111" stroke-width="1.1"/>
<text x="63.75" y="653.9" font-family="'DejaVu Sans','Liberation Sans',sans-serif" font-size="24" fill="#111">−0.25</text>
<line x1="142.9" y1="677.6" x2="146.2" y2="677.6" stroke="#111" stroke-width="1.1"/>
<text x="63.25" y="687" font-family="'DejaVu Sans','Liberation Sans',sans-serif" font-size="24" fill="#111">−0.50</text>
<line x1="142.9" y1="710.7" x2="146.2" y2="710.7" stroke="#111" stroke-width="1.1"/>
<text x="63.75" y="720.1" font-family="'DejaVu Sans','Liberation Sans',sans-serif" font-size="24" fill="#111">−0.75</text>
<line x1="142.9" y1="743.8" x2="146.2" y2="743.8" stroke="#111" stroke-width="1.1"/>
<text x="63.25" y="753.2" font-family="'DejaVu Sans','Liberation Sans',sans-serif" font-size="24" fill="#111">−1.00</text>
<rect x="431.2" y="479" width="13.6" height="264.8" fill="url(#cb)" stroke="#111" stroke-width="1"/>
<line x1="444.8" y1="743.8" x2="449.9" y2="743.8" stroke="#111" stroke-width="1.1"/>
<text x="452.82" y="753.3" font-family="'DejaVu Sans','Liberation Sans',sans-serif" font-size="24" fill="#111">0.0</text>
<line x1="444.8" y1="690.84" x2="449.9" y2="690.84" stroke="#111" stroke-width="1.1"/>
<text x="452.82" y="700.34" font-family="'DejaVu Sans','Liberation Sans',sans-serif" font-size="24" fill="#111">0.2</text>
<line x1="444.8" y1="637.88" x2="449.9" y2="637.88" stroke="#111" stroke-width="1.1"/>
<text x="452.82" y="647.38" font-family="'DejaVu Sans','Liberation Sans',sans-serif" font-size="24" fill="#111">0.4</text>
<line x1="444.8" y1="584.92" x2="449.9" y2="584.92" stroke="#111" stroke-width="1.1"/>
<text x="452.82" y="594.42" font-family="'DejaVu Sans','Liberation Sans',sans-serif" font-size="24" fill="#111">0.6</text>
<line x1="444.8" y1="531.96" x2="449.9" y2="531.96" stroke="#111" stroke-width="1.1"/>
<text x="452.82" y="541.46" font-family="'DejaVu Sans','Liberation Sans',sans-serif" font-size="24" fill="#111">0.8</text>
<line x1="444.8" y1="479" x2="449.9" y2="479" stroke="#111" stroke-width="1.1"/>
<text x="452.76" y="488.5" font-family="'DejaVu Sans','Liberation Sans',sans-serif" font-size="24" fill="#111">1.0</text>
<text transform="translate(264.46 816) scale(1.439 1)" font-family="'DejaVu Serif','Liberation Serif',serif" font-size="41.8" font-style="italic" fill="#000">J</text><text x="283.76" y="825.8" font-family="'DejaVu Sans','Liberation Sans',sans-serif" font-size="34" fill="#000">3</text>
<g transform="translate(52.3 636.3) rotate(-90)"><text transform="translate(10.11 -8.7) scale(1.439 1)" font-family="'DejaVu Serif','Liberation Serif',serif" font-size="41.8" font-style="italic" fill="#000">J</text><text x="30.34" y="1.1" font-family="'DejaVu Sans','Liberation Sans',sans-serif" font-size="34" fill="#000">4</text></g>
<rect x="670.8" y="479" width="264.3" height="264.8" fill="#414287"/>
<rect x="670.8" y="479" width="264.3" height="8.12" fill="url(#d0)"/>
<rect x="670.8" y="485.62" width="264.3" height="8.12" fill="url(#d1)"/>
<rect x="670.8" y="492.24" width="264.3" height="8.12" fill="url(#d2)"/>
<rect x="670.8" y="498.86" width="264.3" height="8.12" fill="url(#d3)"/>
<rect x="670.8" y="505.48" width="264.3" height="8.12" fill="url(#d4)"/>
<rect x="670.8" y="512.1" width="264.3" height="8.12" fill="url(#d5)"/>
<rect x="670.8" y="518.72" width="264.3" height="8.12" fill="url(#d6)"/>
<rect x="670.8" y="525.34" width="264.3" height="8.12" fill="url(#d7)"/>
<rect x="670.8" y="531.96" width="264.3" height="8.12" fill="url(#d8)"/>
<rect x="670.8" y="538.58" width="264.3" height="8.12" fill="url(#d9)"/>
<rect x="670.8" y="545.2" width="264.3" height="8.12" fill="url(#d10)"/>
<rect x="670.8" y="551.82" width="264.3" height="8.12" fill="url(#d11)"/>
<rect x="670.8" y="558.44" width="264.3" height="8.12" fill="url(#d12)"/>
<rect x="670.8" y="565.06" width="264.3" height="8.12" fill="url(#d13)"/>
<rect x="670.8" y="571.68" width="264.3" height="8.12" fill="url(#d14)"/>
<rect x="670.8" y="578.3" width="264.3" height="8.12" fill="url(#d15)"/>
<rect x="670.8" y="584.92" width="264.3" height="8.12" fill="url(#d16)"/>
<rect x="670.8" y="591.54" width="264.3" height="8.12" fill="url(#d17)"/>
<rect x="670.8" y="598.16" width="264.3" height="8.12" fill="url(#d18)"/>
<rect x="670.8" y="604.78" width="264.3" height="8.12" fill="url(#d19)"/>
<rect x="670.8" y="611.4" width="264.3" height="8.12" fill="url(#d20)"/>
<rect x="670.8" y="618.02" width="264.3" height="8.12" fill="url(#d21)"/>
<rect x="670.8" y="624.64" width="264.3" height="8.12" fill="url(#d22)"/>
<rect x="670.8" y="631.26" width="264.3" height="8.12" fill="url(#d23)"/>
<rect x="670.8" y="637.88" width="264.3" height="8.12" fill="url(#d24)"/>
<rect x="670.8" y="644.5" width="264.3" height="8.12" fill="url(#d25)"/>
<rect x="670.8" y="651.12" width="264.3" height="8.12" fill="url(#d26)"/>
<rect x="670.8" y="657.74" width="264.3" height="8.12" fill="url(#d27)"/>
<rect x="670.8" y="664.36" width="264.3" height="8.12" fill="url(#d28)"/>
<rect x="670.8" y="670.98" width="264.3" height="8.12" fill="url(#d29)"/>
<rect x="670.8" y="677.6" width="264.3" height="8.12" fill="url(#d30)"/>
<rect x="670.8" y="684.22" width="264.3" height="8.12" fill="url(#d31)"/>
<rect x="670.8" y="690.84" width="264.3" height="8.12" fill="url(#d32)"/>
<rect x="670.8" y="697.46" width="264.3" height="8.12" fill="url(#d33)"/>
<rect x="670.8" y="704.08" width="264.3" height="8.12" fill="url(#d34)"/>
<rect x="670.8" y="710.7" width="264.3" height="8.12" fill="url(#d35)"/>
<rect x="670.8" y="717.32" width="264.3" height="8.12" fill="url(#d36)"/>
<rect x="670.8" y="723.94" width="264.3" height="8.12" fill="url(#d37)"/>
<rect x="670.8" y="730.56" width="264.3" height="8.12" fill="url(#d38)"/>
<rect x="670.8" y="737.18" width="264.3" height="6.62" fill="url(#d39)"/>
<rect x="670.8" y="479" width="264.3" height="264.8" fill="none" stroke="#111" stroke-width="1.1"/>
<line x1="697.23" y1="743.8" x2="697.23" y2="749.8" stroke="#111" stroke-width="1.1"/>
<text x="667.49" y="770.3" font-family="'DejaVu Sans','Liberation Sans',sans-serif" font-size="24" fill="#111">−0.4</text>
<line x1="750.09" y1="743.8" x2="750.09" y2="749.8" stroke="#111" stroke-width="1.1"/>
<text x="720.88" y="770.3" font-family="'DejaVu Sans','Liberation Sans',sans-serif" font-size="24" fill="#111">−0.2</text>
<line x1="802.95" y1="743.8" x2="802.95" y2="749.8" stroke="#111" stroke-width="1.1"/>
<text x="783.87" y="770.3" font-family="'DejaVu Sans','Liberation Sans',sans-serif" font-size="24" fill="#111">0.0</text>
<line x1="855.81" y1="743.8" x2="855.81" y2="749.8" stroke="#111" stroke-width="1.1"/>
<text x="837.14" y="770.3" font-family="'DejaVu Sans','Liberation Sans',sans-serif" font-size="24" fill="#111">0.2</text>
<line x1="908.67" y1="743.8" x2="908.67" y2="749.8" stroke="#111" stroke-width="1.1"/>
<text x="889.47" y="770.3" font-family="'DejaVu Sans','Liberation Sans',sans-serif" font-size="24" fill="#111">0.4</text>
<line x1="667.5" y1="479" x2="670.8" y2="479" stroke="#111" stroke-width="1.1"/>
<text x="607.96" y="488.4" font-family="'DejaVu Sans','Liberation Sans',sans-serif" font-size="24" fill="#111">0.20</text>
<line x1="667.5" y1="512.1" x2="670.8" y2="512.1" stroke="#111" stroke-width="1.1"/>
<text x="608.46" y="521.5" font-family="'DejaVu Sans','Liberation Sans',sans-serif" font-size="24" fill="#111">0.15</text>
<line x1="667.5" y1="545.2" x2="670.8" y2="545.2" stroke="#111" stroke-width="1.1"/>
<text x="607.96" y="554.6" font-family="'DejaVu Sans','Liberation Sans',sans-serif" font-size="24" fill="#111">0.10</text>
<line x1="667.5" y1="578.3" x2="670.8" y2="578.3" stroke="#111" stroke-width="1.1"/>
<text x="608.46" y="587.7" font-family="'DejaVu Sans','Liberation Sans',sans-serif" font-size="24" fill="#111">0.05</text>
<line x1="667.5" y1="611.4" x2="670.8" y2="611.4" stroke="#111" stroke-width="1.1"/>
<text x="607.96" y="620.8" font-family="'DejaVu Sans','Liberation Sans',sans-serif" font-size="24" fill="#111">0.00</text>
<line x1="667.5" y1="644.5" x2="670.8" y2="644.5" stroke="#111" stroke-width="1.1"/>
<text x="588.35" y="653.9" font-family="'DejaVu Sans','Liberation Sans',sans-serif" font-size="24" fill="#111">−0.05</text>
<line x1="667.5" y1="677.6" x2="670.8" y2="677.6" stroke="#111" stroke-width="1.1"/>
<text x="587.85" y="687" font-family="'DejaVu Sans','Liberation Sans',sans-serif" font-size="24" fill="#111">−0.10</text>
<line x1="667.5" y1="710.7" x2="670.8" y2="710.7" stroke="#111" stroke-width="1.1"/>
<text x="588.35" y="720.1" font-family="'DejaVu Sans','Liberation Sans',sans-serif" font-size="24" fill="#111">−0.15</text>
<line x1="667.5" y1="743.8" x2="670.8" y2="743.8" stroke="#111" stroke-width="1.1"/>
<text x="587.85" y="753.2" font-family="'DejaVu Sans','Liberation Sans',sans-serif" font-size="24" fill="#111">−0.20</text>
<rect x="955.8" y="479" width="13.6" height="264.8" fill="url(#cb)" stroke="#111" stroke-width="1"/>
<line x1="969.4" y1="743.8" x2="974.5" y2="743.8" stroke="#111" stroke-width="1.1"/>
<text x="977.42" y="753.3" font-family="'DejaVu Sans','Liberation Sans',sans-serif" font-size="24" fill="#111">0.0</text>
<line x1="969.4" y1="690.84" x2="974.5" y2="690.84" stroke="#111" stroke-width="1.1"/>
<text x="977.42" y="700.34" font-family="'DejaVu Sans','Liberation Sans',sans-serif" font-size="24" fill="#111">0.2</text>
<line x1="969.4" y1="637.88" x2="974.5" y2="637.88" stroke="#111" stroke-width="1.1"/>
<text x="977.42" y="647.38" font-family="'DejaVu Sans','Liberation Sans',sans-serif" font-size="24" fill="#111">0.4</text>
<line x1="969.4" y1="584.92" x2="974.5" y2="584.92" stroke="#111" stroke-width="1.1"/>
<text x="977.42" y="594.42" font-family="'DejaVu Sans','Liberation Sans',sans-serif" font-size="24" fill="#111">0.6</text>
<line x1="969.4" y1="531.96" x2="974.5" y2="531.96" stroke="#111" stroke-width="1.1"/>
<text x="977.42" y="541.46" font-family="'DejaVu Sans','Liberation Sans',sans-serif" font-size="24" fill="#111">0.8</text>
<line x1="969.4" y1="479" x2="974.5" y2="479" stroke="#111" stroke-width="1.1"/>
<text x="977.36" y="488.5" font-family="'DejaVu Sans','Liberation Sans',sans-serif" font-size="24" fill="#111">1.0</text>
<text transform="translate(730.26 816.1) scale(1.439 1)" font-family="'DejaVu Serif','Liberation Serif',serif" font-size="41.8" font-style="italic" fill="#000">J</text><text x="749.56" y="825.9" font-family="'DejaVu Sans','Liberation Sans',sans-serif" font-size="34" fill="#000">3</text><text x="782.26" y="819.8" font-family="'DejaVu Sans','Liberation Sans',sans-serif" font-size="49" fill="#000">=</text><text transform="translate(843.46 816.1) scale(1.439 1)" font-family="'DejaVu Serif','Liberation Serif',serif" font-size="41.8" font-style="italic" fill="#000">J</text><text x="863.69" y="825.9" font-family="'DejaVu Sans','Liberation Sans',sans-serif" font-size="34" fill="#000">4</text>
<g transform="translate(576.9 636.3) rotate(-90)"><text transform="translate(10.11 -8.7) scale(1.439 1)" font-family="'DejaVu Serif','Liberation Serif',serif" font-size="41.8" font-style="italic" fill="#000">J</text><text x="29.51" y="1.1" font-family="'DejaVu Sans','Liberation Sans',sans-serif" font-size="34" fill="#000">2</text></g>
<text transform="translate(63.59 434.3) scale(1.159 1)" font-family="'Liberation Serif','DejaVu Serif',serif" font-size="39.5" fill="#000">(a)</text><text transform="translate(138.97 431.94) scale(1.486 1)" font-family="'DejaVu Serif','Liberation Serif',serif" font-size="33.9" font-style="italic" fill="#000">J</text><text x="155.14" y="438.9" font-family="'Liberation Serif','DejaVu Serif',serif" font-size="28" fill="#000">1</text><text transform="translate(183.67 437.1) scale(1.491 1)" font-family="'Liberation Serif','DejaVu Serif',serif" font-size="39.5" fill="#000">=</text><text transform="translate(227.46 437.1) scale(1.393 1)" font-family="'Liberation Serif','DejaVu Serif',serif" font-size="39.5" fill="#000">−</text><text x="259.13" y="434.3" font-family="'Liberation Serif','DejaVu Serif',serif" font-size="39.5" fill="#000">1</text><text x="280.1" y="434.3" font-family="'Liberation Serif','DejaVu Serif',serif" font-size="39.5" fill="#000">,</text><text transform="translate(314.57 431.94) scale(1.486 1)" font-family="'DejaVu Serif','Liberation Serif',serif" font-size="33.9" font-style="italic" fill="#000">J</text><text x="331.65" y="438.9" font-family="'Liberation Serif','DejaVu Serif',serif" font-size="28" fill="#000">4</text><text transform="translate(359.47 437.1) scale(1.491 1)" font-family="'Liberation Serif','DejaVu Serif',serif" font-size="39.5" fill="#000">=</text><text transform="translate(402.85 434.3) scale(1.027 1)" font-family="'Liberation Serif','DejaVu Serif',serif" font-size="39.5" fill="#000">0</text>
<text transform="translate(586.83 434.3) scale(1.137 1)" font-family="'Liberation Serif','DejaVu Serif',serif" font-size="39.5" fill="#000">(b)</text><text transform="translate(664.37 431.94) scale(1.486 1)" font-family="'DejaVu Serif','Liberation Serif',serif" font-size="33.9" font-style="italic" fill="#000">J</text><text x="680.54" y="438.9" font-family="'Liberation Serif','DejaVu Serif',serif" font-size="28" fill="#000">1</text><text transform="translate(709.07 437.1) scale(1.491 1)" font-family="'Liberation Serif','DejaVu Serif',serif" font-size="39.5" fill="#000">=</text><text transform="translate(752.86 437.1) scale(1.393 1)" font-family="'Liberation Serif','DejaVu Serif',serif" font-size="39.5" fill="#000">−</text><text x="784.53" y="434.3" font-family="'Liberation Serif','DejaVu Serif',serif" font-size="39.5" fill="#000">1</text><text x="805.5" y="434.3" font-family="'Liberation Serif','DejaVu Serif',serif" font-size="39.5" fill="#000">,</text><text transform="translate(839.97 431.94) scale(1.486 1)" font-family="'DejaVu Serif','Liberation Serif',serif" font-size="33.9" font-style="italic" fill="#000">J</text><text x="856.26" y="438.9" font-family="'Liberation Serif','DejaVu Serif',serif" font-size="28" fill="#000">3</text><text transform="translate(884.87 437.1) scale(1.491 1)" font-family="'Liberation Serif','DejaVu Serif',serif" font-size="39.5" fill="#000">=</text><text transform="translate(928.25 434.3) scale(1.027 1)" font-family="'Liberation Serif','DejaVu Serif',serif" font-size="39.5" fill="#000">0</text>
<text transform="translate(64.5 894.6) scale(1.092 1)" font-family="'Liberation Serif','DejaVu Serif',serif" font-size="39.5" fill="#000">(c)</text><text transform="translate(138.77 892.24) scale(1.486 1)" font-family="'DejaVu Serif','Liberation Serif',serif" font-size="33.9" font-style="italic" fill="#000">J</text><text x="154.94" y="899.2" font-family="'Liberation Serif','DejaVu Serif',serif" font-size="28" fill="#000">1</text><text transform="translate(183.47 897.4) scale(1.491 1)" font-family="'Liberation Serif','DejaVu Serif',serif" font-size="39.5" fill="#000">=</text><text transform="translate(227.26 897.4) scale(1.393 1)" font-family="'Liberation Serif','DejaVu Serif',serif" font-size="39.5" fill="#000">−</text><text x="258.93" y="894.6" font-family="'Liberation Serif','DejaVu Serif',serif" font-size="39.5" fill="#000">1</text><text x="279.9" y="894.6" font-family="'Liberation Serif','DejaVu Serif',serif" font-size="39.5" fill="#000">,</text><text transform="translate(314.37 892.24) scale(1.486 1)" font-family="'DejaVu Serif','Liberation Serif',serif" font-size="33.9" font-style="italic" fill="#000">J</text><text x="330.77" y="899.2" font-family="'Liberation Serif','DejaVu Serif',serif" font-size="28" fill="#000">2</text><text transform="translate(359.27 897.4) scale(1.491 1)" font-family="'Liberation Serif','DejaVu Serif',serif" font-size="39.5" fill="#000">=</text><text transform="translate(402.65 894.6) scale(1.027 1)" font-family="'Liberation Serif','DejaVu Serif',serif" font-size="39.5" fill="#000">0</text>
<text transform="translate(659.67 894.6) scale(1.113 1)" font-family="'Liberation Serif','DejaVu Serif',serif" font-size="39.5" fill="#000">(d)</text><text transform="translate(736.37 892.24) scale(1.486 1)" font-family="'DejaVu Serif','Liberation Serif',serif" font-size="33.9" font-style="italic" fill="#000">J</text><text x="752.54" y="899.2" font-family="'Liberation Serif','DejaVu Serif',serif" font-size="28" fill="#000">1</text><text transform="translate(781.07 897.4) scale(1.491 1)" font-family="'Liberation Serif','DejaVu Serif',serif" font-size="39.5" fill="#000">=</text><text transform="translate(824.86 897.4) scale(1.393 1)" font-family="'Liberation Serif','DejaVu Serif',serif" font-size="39.5" fill="#000">−</text><text x="857.03" y="894.6" font-family="'Liberation Serif','DejaVu Serif',serif" font-size="39.5" fill="#000">1</text>
</svg>
</body></html>
